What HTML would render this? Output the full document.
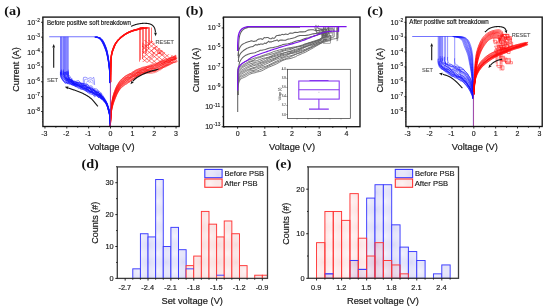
<!DOCTYPE html>
<html><head><meta charset="utf-8"><style>
html,body{margin:0;padding:0;background:#fff;}
body{width:550px;height:308px;overflow:hidden;}
svg{display:block;will-change:transform;}
</style></head><body>
<svg width="550" height="308" viewBox="0 0 550 308" font-family='"Liberation Sans", sans-serif'>
<defs>
<pattern id="hb" width="1.5" height="1.5" patternUnits="userSpaceOnUse" patternTransform="rotate(45)">
<rect width="1.5" height="1.5" fill="#f3f3fd"/><rect width="0.75" height="0.75" fill="#d9d9f7"/><rect x="0.75" y="0.75" width="0.75" height="0.75" fill="#d9d9f7"/></pattern>
<pattern id="hr" width="1.5" height="1.5" patternUnits="userSpaceOnUse" patternTransform="rotate(45)">
<rect width="1.5" height="1.5" fill="#fdf3f3"/><rect width="0.75" height="0.75" fill="#f7dada"/><rect x="0.75" y="0.75" width="0.75" height="0.75" fill="#f7dada"/></pattern>
<pattern id="hr2" width="1.5" height="1.5" patternUnits="userSpaceOnUse" patternTransform="rotate(45)">
<rect width="1.5" height="1.5" fill="#ff9090" fill-opacity="0.07"/><rect width="0.75" height="0.75" fill="#f08080" fill-opacity="0.2"/><rect x="0.75" y="0.75" width="0.75" height="0.75" fill="#f08080" fill-opacity="0.2"/></pattern>
<clipPath id="ca"><rect x="42.9" y="17.1" width="136.3" height="109.4"/></clipPath>
<clipPath id="cb"><rect x="223.5" y="17.1" width="136.5" height="109.6"/></clipPath>
<clipPath id="cc"><rect x="405.9" y="17.1" width="136.3" height="109.4"/></clipPath>
</defs>
<g clip-path="url(#ca)">
<rect x="60.2" y="36.7" width="8.1" height="38" fill="#6a6aff" fill-opacity="0.45"/>
<line x1="49.2" y1="36.7" x2="98" y2="36.7" stroke="#7474ff" stroke-width="1.1" />
<line x1="60.5" y1="36.7" x2="60.5" y2="74.38" stroke="#1515ff" stroke-width="0.55" stroke-opacity="0.85"/>
<line x1="61.6" y1="36.7" x2="61.6" y2="75.19" stroke="#1515ff" stroke-width="0.55" stroke-opacity="0.85"/>
<line x1="63.3" y1="36.7" x2="63.3" y2="74.83" stroke="#1515ff" stroke-width="0.55" stroke-opacity="0.85"/>
<line x1="64.4" y1="36.7" x2="64.4" y2="73.18" stroke="#1515ff" stroke-width="0.55" stroke-opacity="0.85"/>
<line x1="65.7" y1="36.7" x2="65.7" y2="73.4" stroke="#1515ff" stroke-width="0.55" stroke-opacity="0.85"/>
<line x1="67" y1="36.7" x2="67" y2="75.12" stroke="#1515ff" stroke-width="0.55" stroke-opacity="0.85"/>
<line x1="68.2" y1="36.7" x2="68.2" y2="72.52" stroke="#1515ff" stroke-width="0.55" stroke-opacity="0.85"/>
<path d="M60.57 72.02 L60.56 72.4 L60.54 72.77 L60.52 73.13 L60.5 73.5 L60.48 73.88 L60.49 74.25 L60.51 74.63 L60.57 75.02 L60.65 75.42 L60.75 75.82 L60.86 76.23 L61 76.64 L61.15 77.06 L61.33 77.48 L61.54 77.9 L61.77 78.32 L62.04 78.77 L62.33 79.25 L62.65 79.75 L63 80.24 L63.37 80.72 L63.75 81.09 L64.16 81.43 L64.57 82 L64.99 82.03 L65.41 82.07 L65.85 82.46 L66.3 82.18 L66.79 82.7 L67.31 83.22 L67.88 82.32 L68.5 82.18 L69.17 83.1 L69.88 83.22 L70.63 83.52 L71.41 83.85 L72.24 84.15 L73.12 85.11 L74.04 84.9 L75 84.75 L76.05 85.26 L77.19 85.7 L78.4 85.89 L79.64 86.12 L80.88 87.07 L82.09 88.23 L83.24 89.31 L84.3 88.85 L85.26 88.48 L86.14 89.75 L86.97 89.67 L87.77 89.62 L88.55 90.85 L89.34 92 L90.15 92.76 L91 92.53 L91.92 92.54 L92.89 93.05 L93.89 94.34 L94.89 94.76 L95.87 94.47 L96.8 95.27 L97.65 95.79 L98.4 95.98 L99.03 95.94 L99.57 96.38 L100.04 96.97 L100.45 97.69 L100.83 98.34 L101.2 98.26 L101.59 98.61 L102 98.92 L102.44 99.46 L102.89 100.02 L103.35 100.44 L103.79 100.76 L104.23 101.3 L104.65 101.84 L105.04 102.18 L105.4 102.92 L105.72 103.54 L106.01 104.03 L106.27 104.6 L106.52 104.99 L106.75 105.42 L106.99 105.98 L107.24 106.63 L107.5 107.39 L107.79 108.3 L108.1 109.32 L108.42 110.44 L108.74 111.62 L109.05 112.85 L109.34 114.09 L109.59 115.31 L109.8 116.5 L109.96 117.67 L110.07 118.85 L110.15 120.04 L110.21 121.23 L110.25 122.42 L110.29 123.62 L110.34 124.81 L110.4 126" stroke="#1515ff" stroke-width="0.55" fill="none" stroke-opacity="0.9" stroke-linejoin="round"/>
<path d="M61.57 69.44 L61.56 69.82 L61.54 70.19 L61.51 70.56 L61.49 70.92 L61.48 71.3 L61.48 71.67 L61.51 72.05 L61.57 72.44 L61.65 72.85 L61.75 73.26 L61.86 73.69 L61.99 74.12 L62.15 74.54 L62.33 74.96 L62.53 75.36 L62.77 75.74 L63.04 76.11 L63.35 76.44 L63.69 76.73 L64.06 77.25 L64.44 77.62 L64.82 77.61 L65.2 78 L65.57 78.69 L65.9 78.57 L66.21 78.36 L66.5 78.66 L66.8 78.33 L67.13 78.78 L67.51 79.44 L67.96 79.38 L68.5 79.29 L69.12 79.68 L69.81 80.05 L70.55 80.1 L71.35 80.18 L72.2 80.05 L73.09 81.42 L74.03 82.03 L75 81.88 L76.05 82.35 L77.19 82.29 L78.4 82.33 L79.64 83.02 L80.88 83.36 L82.09 83.28 L83.24 83.69 L84.3 84.56 L85.26 85.17 L86.14 85.17 L86.97 85 L87.77 84.62 L88.55 85.66 L89.34 87.06 L90.15 87.03 L91 87.31 L91.92 88.18 L92.89 88.83 L93.89 89.44 L94.89 89.45 L95.87 90.28 L96.8 90.52 L97.65 90.81 L98.4 92.09 L99.03 92.63 L99.57 93.67 L100.04 94.35 L100.45 93.75 L100.83 93.23 L101.2 94.41 L101.59 95.16 L102 95.48 L102.44 96.48 L102.89 96.64 L103.35 96.62 L103.79 97.57 L104.23 98.47 L104.65 98.95 L105.04 99.53 L105.4 100.07 L105.72 100.58 L106.01 101.24 L106.27 101.89 L106.52 102.48 L106.75 103.18 L106.99 103.88 L107.24 104.61 L107.5 105.39 L107.79 106.22 L108.1 107.06 L108.42 107.94 L108.74 108.86 L109.05 109.84 L109.34 110.89 L109.59 112.03 L109.8 113.26 L109.96 114.62 L110.07 116.1 L110.15 117.68 L110.21 119.33 L110.25 121.01 L110.29 122.7 L110.34 124.37 L110.4 126" stroke="#1515ff" stroke-width="0.55" fill="none" stroke-opacity="0.9" stroke-linejoin="round"/>
<path d="M63.34 70.39 L63.33 70.79 L63.31 71.18 L63.29 71.53 L63.26 71.89 L63.25 72.26 L63.25 72.65 L63.28 73.05 L63.34 73.43 L63.42 73.79 L63.52 74.21 L63.63 74.65 L63.76 75.11 L63.92 75.51 L64.1 75.83 L64.3 76.32 L64.54 76.56 L64.78 77.12 L65.01 77.86 L65.26 77.9 L65.54 78.12 L65.86 78.6 L66.26 78.14 L66.75 78.3 L67.34 79.25 L68.05 79.42 L68.87 79.19 L69.78 79.19 L70.76 79.73 L71.79 80.5 L72.86 80.88 L73.93 80.56 L75 81.3 L76.1 81.32 L77.27 80.79 L78.48 80.55 L79.71 81.69 L80.93 83.2 L82.12 83.25 L83.25 83.47 L84.3 83.46 L85.26 83.61 L86.14 83.79 L86.97 83.95 L87.77 84.43 L88.55 85.53 L89.34 86.13 L90.15 85.88 L91 85.86 L91.92 86.12 L92.89 87.61 L93.89 88.69 L94.89 88.65 L95.87 88.91 L96.8 89.02 L97.65 89.72 L98.4 91.11 L99.03 91.46 L99.57 91.46 L100.04 91.96 L100.45 92.5 L100.83 92.47 L101.2 92.83 L101.59 93.56 L102 94.41 L102.44 95.03 L102.89 95.61 L103.35 96.75 L103.79 97.26 L104.23 97.63 L104.65 98.42 L105.04 99.16 L105.4 99.69 L105.72 100.28 L106.01 100.91 L106.27 101.27 L106.52 101.61 L106.75 102.05 L106.99 102.58 L107.24 103.19 L107.5 103.94 L107.79 104.81 L108.1 105.78 L108.42 106.82 L108.74 107.93 L109.05 109.12 L109.34 110.36 L109.59 111.67 L109.8 113.02 L109.96 114.46 L110.07 115.99 L110.15 117.6 L110.21 119.27 L110.25 120.96 L110.29 122.66 L110.34 124.35 L110.4 126" stroke="#1515ff" stroke-width="0.55" fill="none" stroke-opacity="0.9" stroke-linejoin="round"/>
<path d="M64.34 71.79 L64.34 71.98 L64.32 72.19 L64.29 72.82 L64.27 73.38 L64.26 73.66 L64.26 73.82 L64.29 74.18 L64.34 74.66 L64.43 75.15 L64.52 75.87 L64.64 76.26 L64.77 76.31 L64.92 76.54 L65.1 77.04 L65.31 77.6 L65.54 77.82 L65.79 78.27 L66.04 78.67 L66.31 79.31 L66.6 80.29 L66.94 80.76 L67.34 80.77 L67.8 81.01 L68.34 81.54 L68.97 81.57 L69.67 81.87 L70.44 81.85 L71.27 81.76 L72.14 83.02 L73.06 83.94 L74.02 84.1 L75 85.03 L76.05 84.65 L77.2 84.37 L78.41 85.67 L79.65 86.67 L80.89 86.94 L82.1 87.71 L83.24 88.43 L84.3 87.93 L85.26 87.87 L86.14 89.13 L86.97 90.11 L87.77 89.33 L88.55 90.08 L89.34 91.52 L90.15 91.91 L91 91.91 L91.92 91.65 L92.89 91.78 L93.89 93.45 L94.89 94.32 L95.87 94.39 L96.8 94.65 L97.65 94.51 L98.4 94.51 L99.03 94.71 L99.57 96.22 L100.04 96.27 L100.45 96.7 L100.83 97.62 L101.2 97.34 L101.59 97.54 L102 98.17 L102.44 98.78 L102.89 99.28 L103.35 99.66 L103.79 100.26 L104.23 100.79 L104.65 101.22 L105.04 101.89 L105.4 102.6 L105.72 102.93 L106.01 103.27 L106.27 103.68 L106.52 104.02 L106.75 104.46 L106.99 104.93 L107.24 105.51 L107.5 106.23 L107.79 107.1 L108.1 108.08 L108.42 109.17 L108.74 110.34 L109.05 111.56 L109.34 112.81 L109.59 114.07 L109.8 115.32 L109.96 116.58 L110.07 117.88 L110.15 119.21 L110.21 120.56 L110.25 121.93 L110.29 123.29 L110.34 124.65 L110.4 126" stroke="#1515ff" stroke-width="0.55" fill="none" stroke-opacity="0.9" stroke-linejoin="round"/>
<path d="M65.59 71.67 L65.58 71.87 L65.56 71.94 L65.54 72.16 L65.51 73.08 L65.5 73.72 L65.5 73.81 L65.53 74.24 L65.59 74.62 L65.67 75.03 L65.77 75.78 L65.88 75.98 L66.01 75.67 L66.17 76.06 L66.35 76.5 L66.55 77.33 L66.79 78.31 L67.04 78.27 L67.31 78.02 L67.61 78.59 L67.93 79.94 L68.28 79.47 L68.67 79.51 L69.1 80.63 L69.59 81.27 L70.11 81.71 L70.67 81.57 L71.26 81.83 L71.89 81.97 L72.57 83.63 L73.31 84.84 L74.12 84.53 L75 84.26 L75.99 84.09 L77.11 84.76 L78.32 86.03 L79.57 86.65 L80.83 87.1 L82.07 87.13 L83.24 87.61 L84.3 88.53 L85.26 89.54 L86.14 90.78 L86.97 90.58 L87.77 89.87 L88.55 90.31 L89.34 90.8 L90.15 90.93 L91 91.61 L91.92 91.94 L92.89 92.71 L93.89 93.6 L94.89 93.95 L95.87 94.41 L96.8 94.47 L97.65 94.6 L98.4 95.23 L99.03 95.78 L99.57 96.33 L100.04 96.85 L100.45 96.59 L100.83 96.94 L101.2 97.28 L101.59 97.44 L102 98.14 L102.44 98.22 L102.89 98.79 L103.35 99.73 L103.79 100.15 L104.23 100.54 L104.65 101.02 L105.04 101.47 L105.4 102.01 L105.72 102.53 L106.01 102.99 L106.27 103.4 L106.52 103.86 L106.75 104.38 L106.99 104.93 L107.24 105.58 L107.5 106.36 L107.79 107.27 L108.1 108.31 L108.42 109.44 L108.74 110.64 L109.05 111.89 L109.34 113.17 L109.59 114.44 L109.8 115.69 L109.96 116.93 L110.07 118.19 L110.15 119.48 L110.21 120.78 L110.25 122.09 L110.29 123.4 L110.34 124.7 L110.4 126" stroke="#1515ff" stroke-width="0.55" fill="none" stroke-opacity="0.9" stroke-linejoin="round"/>
<path d="M66.89 71.18 L66.88 71.2 L66.86 71.45 L66.84 72.28 L66.81 72.95 L66.8 73.23 L66.8 73.77 L66.83 73.91 L66.89 74.01 L66.97 74.83 L67.07 75.44 L67.18 75.97 L67.31 76.35 L67.47 76.35 L67.65 76.76 L67.85 76.93 L68.09 76.59 L68.35 77.52 L68.64 78.5 L68.96 78.76 L69.31 78.42 L69.67 78.49 L70.06 79.3 L70.46 79.43 L70.89 79.06 L71.3 79.62 L71.7 81.29 L72.11 81.92 L72.54 81.61 L73.02 81.76 L73.58 82.65 L74.23 81.8 L75 81.74 L75.93 83.45 L77.02 84.08 L78.22 84.86 L79.49 85.34 L80.77 85.04 L82.04 84.99 L83.23 85.51 L84.3 85.51 L85.26 85.53 L86.14 86.53 L86.97 87.78 L87.77 87.75 L88.55 87.33 L89.34 87.93 L90.15 88.98 L91 89.35 L91.92 89.91 L92.89 90.04 L93.89 89.9 L94.89 90.79 L95.87 91.77 L96.8 92.85 L97.65 92.4 L98.4 92.05 L99.03 93.26 L99.57 93.76 L100.04 93.43 L100.45 94.4 L100.83 95.42 L101.2 95.59 L101.59 95.7 L102 96.32 L102.44 96.92 L102.89 97.53 L103.35 98.03 L103.79 98.38 L104.23 99.28 L104.65 100 L105.04 100.71 L105.4 101.4 L105.72 101.82 L106.01 102.3 L106.27 102.77 L106.52 103.23 L106.75 103.68 L106.99 104.18 L107.24 104.78 L107.5 105.5 L107.79 106.31 L108.1 107.19 L108.42 108.14 L108.74 109.16 L109.05 110.23 L109.34 111.37 L109.59 112.56 L109.8 113.82 L109.96 115.16 L110.07 116.59 L110.15 118.1 L110.21 119.67 L110.25 121.26 L110.29 122.86 L110.34 124.45 L110.4 126" stroke="#1515ff" stroke-width="0.55" fill="none" stroke-opacity="0.9" stroke-linejoin="round"/>
<path d="M68.31 71.43 L68.3 72.76 L68.28 73.62 L68.26 73 L68.23 73.28 L68.22 74.45 L68.22 74.48 L68.25 73.96 L68.31 74.89 L68.39 75.63 L68.49 75.83 L68.6 75.86 L68.73 76.79 L68.89 78.15 L69.07 78.02 L69.27 78 L69.51 77.3 L69.78 77.7 L70.1 78.89 L70.45 79.22 L70.82 80 L71.2 80.08 L71.58 79.47 L71.95 80.16 L72.31 80.94 L72.61 80.99 L72.83 81.37 L73.04 81.68 L73.25 81.25 L73.51 82.23 L73.87 83.64 L74.35 83.94 L75 85.06 L75.86 85.02 L76.92 83.86 L78.12 83.95 L79.4 84.7 L80.71 85.36 L82 86.41 L83.22 86.26 L84.3 86.84 L85.26 87.5 L86.14 87.92 L86.97 88.95 L87.77 89.11 L88.55 89.56 L89.34 89.89 L90.15 90.1 L91 90.06 L91.92 90.77 L92.89 92.74 L93.89 94.07 L94.89 94.33 L95.87 94.26 L96.8 93.88 L97.65 94.66 L98.4 95.36 L99.03 95.14 L99.57 95.45 L100.04 95.9 L100.45 96.23 L100.83 96.55 L101.2 96.75 L101.59 97.09 L102 98.44 L102.44 98.92 L102.89 98.78 L103.35 99.38 L103.79 100.02 L104.23 100.25 L104.65 100.64 L105.04 101.38 L105.4 101.91 L105.72 102.3 L106.01 102.78 L106.27 103.14 L106.52 103.51 L106.75 103.98 L106.99 104.52 L107.24 105.16 L107.5 105.93 L107.79 106.86 L108.1 107.9 L108.42 109.05 L108.74 110.27 L109.05 111.54 L109.34 112.84 L109.59 114.14 L109.8 115.41 L109.96 116.68 L110.07 117.98 L110.15 119.3 L110.21 120.64 L110.25 121.98 L110.29 123.33 L110.34 124.67 L110.4 126" stroke="#1515ff" stroke-width="0.55" fill="none" stroke-opacity="0.9" stroke-linejoin="round"/>
<path d="M60.44 72.39 L60.44 72.76 L60.42 73.13 L60.39 73.5 L60.37 73.87 L60.36 74.24 L60.36 74.62 L60.39 75 L60.44 75.39 L60.53 75.78 L60.62 76.18 L60.74 76.59 L60.87 76.99 L61.02 77.41 L61.2 77.83 L61.41 78.25 L61.64 78.69 L61.91 79.15 L62.2 79.63 L62.52 80.13 L62.87 80.64 L63.23 81.12 L63.62 81.59 L64.02 82 L64.44 82.3 L64.87 82.8 L65.31 83.49 L65.77 83.41 L66.24 82.93 L66.74 83.08 L67.28 83.57 L67.87 83.65 L68.5 83.37 L69.18 84.05 L69.89 84.11 L70.64 84.01 L71.42 84.52 L72.25 84.35 L73.12 84.27 L74.04 85.34 L75 86.39 L76.05 86.88 L77.19 86.48 L78.4 86.81 L79.64 88.36 L80.88 89.26 L82.09 89.36 L83.24 89.22 L84.3 89.99 L85.26 90.6 L86.14 90.33 L86.97 90.74 L87.77 92.36 L88.55 93.3 L89.34 93.66 L90.15 93.83 L91 94.18 L91.92 94.54 L92.89 94.46 L93.89 96.14 L94.89 96.89 L95.87 95.96 L96.8 95.94 L97.65 96.62 L98.4 97.5 L99.03 97.47 L99.57 96.58 L100.04 96.99 L100.45 97.92 L100.83 98.34 L101.2 99.04 L101.59 99.41 L102 99.62 L102.44 99.67 L102.89 100.15 L103.35 101.26 L103.79 101.69 L104.23 101.87 L104.65 102.3 L105.04 102.97 L105.4 103.36 L105.72 103.69 L106.01 104.21 L106.27 104.65 L106.52 105.03 L106.75 105.49 L106.99 106.03 L107.24 106.67 L107.5 107.45 L107.79 108.38 L108.1 109.45 L108.42 110.62 L108.74 111.87 L109.05 113.16 L109.34 114.45 L109.59 115.71 L109.8 116.91 L109.96 118.06 L110.07 119.21 L110.15 120.35 L110.21 121.48 L110.25 122.61 L110.29 123.74 L110.34 124.87 L110.4 126" stroke="#1515ff" stroke-width="0.55" fill="none" stroke-opacity="0.9" stroke-linejoin="round"/>
<path d="M61.53 71.46 L61.52 71.83 L61.5 72.2 L61.48 72.57 L61.45 72.94 L61.44 73.31 L61.44 73.69 L61.47 74.07 L61.53 74.46 L61.61 74.86 L61.71 75.27 L61.82 75.68 L61.95 76.1 L62.11 76.52 L62.29 76.94 L62.49 77.35 L62.73 77.76 L63 78.17 L63.31 78.64 L63.65 79.07 L64.02 79.46 L64.39 79.98 L64.78 80.24 L65.16 80.51 L65.53 80.86 L65.87 80.85 L66.18 80.81 L66.47 80.96 L66.78 81.07 L67.12 80.87 L67.5 80.72 L67.96 81.33 L68.5 81.74 L69.12 81.89 L69.81 82.56 L70.56 82.71 L71.35 83.48 L72.2 83.22 L73.1 82.94 L74.03 83.52 L75 84.32 L76.05 85.55 L77.19 84.33 L78.4 83.62 L79.64 85.16 L80.88 86.33 L82.09 86.79 L83.24 86.83 L84.3 87.09 L85.26 87.74 L86.14 87.83 L86.97 88.29 L87.77 87.65 L88.55 87.78 L89.34 88.62 L90.15 89.11 L91 89.84 L91.92 89.49 L92.89 90.22 L93.89 90.72 L94.89 90.7 L95.87 90.95 L96.8 91.86 L97.65 93.27 L98.4 94.22 L99.03 94.43 L99.57 94.9 L100.04 95.42 L100.45 95.48 L100.83 96.14 L101.2 96.96 L101.59 97.14 L102 97.26 L102.44 97.8 L102.89 98.36 L103.35 98.71 L103.79 99.37 L104.23 99.93 L104.65 100.33 L105.04 100.77 L105.4 101.27 L105.72 101.83 L106.01 102.2 L106.27 102.68 L106.52 103.1 L106.75 103.53 L106.99 104.03 L107.24 104.65 L107.5 105.38 L107.79 106.24 L108.1 107.18 L108.42 108.2 L108.74 109.29 L109.05 110.45 L109.34 111.65 L109.59 112.89 L109.8 114.17 L109.96 115.5 L110.07 116.91 L110.15 118.38 L110.21 119.9 L110.25 121.43 L110.29 122.97 L110.34 124.5 L110.4 126" stroke="#1515ff" stroke-width="0.55" fill="none" stroke-opacity="0.9" stroke-linejoin="round"/>
<path d="M63.21 71.22 L63.2 71.59 L63.18 71.96 L63.15 72.33 L63.13 72.71 L63.12 73.07 L63.12 73.42 L63.15 73.83 L63.21 74.22 L63.29 74.59 L63.38 75 L63.5 75.39 L63.63 75.82 L63.79 76.44 L63.97 76.96 L64.17 77.12 L64.41 77.32 L64.65 77.75 L64.88 78.36 L65.12 78.68 L65.39 78.76 L65.72 79.41 L66.12 80.1 L66.61 80.17 L67.21 79.92 L67.93 79.73 L68.77 80.02 L69.7 79.95 L70.7 80.82 L71.75 81.75 L72.83 81.88 L73.92 83.2 L75 83.76 L76.11 82.76 L77.28 82.9 L78.49 84.15 L79.72 83.74 L80.94 83.13 L82.12 83.71 L83.25 83.77 L84.3 84.81 L85.26 84.87 L86.14 84.21 L86.97 85.58 L87.77 86.44 L88.55 87.12 L89.34 87.84 L90.15 88.19 L91 89.07 L91.92 88.78 L92.89 88.85 L93.89 90.03 L94.89 90.66 L95.87 91.63 L96.8 91.74 L97.65 91.9 L98.4 93.11 L99.03 93.95 L99.57 93.7 L100.04 94.67 L100.45 95.99 L100.83 95.08 L101.2 94.8 L101.59 96.36 L102 96.9 L102.44 96.82 L102.89 97.2 L103.35 97.72 L103.79 98.43 L104.23 99.16 L104.65 99.99 L105.04 100.66 L105.4 101.16 L105.72 101.65 L106.01 102.14 L106.27 102.58 L106.52 102.99 L106.75 103.46 L106.99 103.94 L107.24 104.53 L107.5 105.25 L107.79 106.1 L108.1 107.04 L108.42 108.06 L108.74 109.15 L109.05 110.31 L109.34 111.51 L109.59 112.76 L109.8 114.05 L109.96 115.39 L110.07 116.81 L110.15 118.3 L110.21 119.83 L110.25 121.38 L110.29 122.94 L110.34 124.48 L110.4 126" stroke="#1515ff" stroke-width="0.55" fill="none" stroke-opacity="0.9" stroke-linejoin="round"/>
<path d="M64.49 71.97 L64.48 72.38 L64.46 72.8 L64.44 73.07 L64.42 73.27 L64.4 73.71 L64.41 74.1 L64.44 74.47 L64.49 74.96 L64.57 75.63 L64.67 75.94 L64.78 76.05 L64.92 76.55 L65.07 77.05 L65.25 77.67 L65.46 77.94 L65.69 78.01 L65.94 78.16 L66.19 78.5 L66.46 79.4 L66.76 80.07 L67.1 80.04 L67.49 80.29 L67.95 81.02 L68.49 81.74 L69.11 81.89 L69.79 81.95 L70.54 81.81 L71.34 81.8 L72.19 83.63 L73.09 83.57 L74.03 83.12 L75 84.53 L76.05 84.9 L77.19 84.85 L78.4 85.37 L79.64 86.1 L80.88 86.49 L82.09 86.1 L83.24 86.49 L84.3 87.36 L85.26 87.64 L86.14 88.58 L86.97 89.58 L87.77 90.36 L88.55 90.38 L89.34 90.88 L90.15 92.06 L91 92.6 L91.92 93.12 L92.89 92.98 L93.89 92.71 L94.89 93.5 L95.87 93.37 L96.8 93.47 L97.65 94.19 L98.4 94.3 L99.03 94.13 L99.57 94.29 L100.04 95.28 L100.45 96.21 L100.83 96.82 L101.2 96.82 L101.59 96.84 L102 97.09 L102.44 97.77 L102.89 98.49 L103.35 99.16 L103.79 100.15 L104.23 100.67 L104.65 100.89 L105.04 101.47 L105.4 102.1 L105.72 102.61 L106.01 103.21 L106.27 103.64 L106.52 103.91 L106.75 104.34 L106.99 104.84 L107.24 105.44 L107.5 106.2 L107.79 107.13 L108.1 108.21 L108.42 109.41 L108.74 110.68 L109.05 112 L109.34 113.34 L109.59 114.66 L109.8 115.93 L109.96 117.18 L110.07 118.43 L110.15 119.68 L110.21 120.95 L110.25 122.21 L110.29 123.48 L110.34 124.74 L110.4 126" stroke="#1515ff" stroke-width="0.55" fill="none" stroke-opacity="0.9" stroke-linejoin="round"/>
<path d="M65.67 72.56 L65.67 72.85 L65.65 72.61 L65.62 73.1 L65.6 73.78 L65.59 73.98 L65.59 74.42 L65.62 74.84 L65.67 74.91 L65.76 75.43 L65.85 76.17 L65.97 76.42 L66.1 76.74 L66.25 77.28 L66.43 78.31 L66.64 78.61 L66.87 78.66 L67.13 79.29 L67.4 79.28 L67.7 79.97 L68.02 80.78 L68.37 81.45 L68.76 81.7 L69.19 81.34 L69.67 81.36 L70.19 82.19 L70.73 82.99 L71.31 83.68 L71.93 83.91 L72.6 84.07 L73.33 84.86 L74.13 84.82 L75 83.91 L75.99 83.76 L77.11 84.22 L78.31 85.86 L79.56 86.59 L80.83 86.92 L82.06 88.01 L83.23 88.69 L84.3 89.32 L85.26 88.99 L86.14 88.91 L86.97 89.41 L87.77 89.99 L88.55 90.14 L89.34 90.48 L90.15 91.81 L91 91.53 L91.92 91.4 L92.89 92.19 L93.89 92.62 L94.89 93.82 L95.87 94.17 L96.8 94.59 L97.65 94.36 L98.4 94.91 L99.03 95.7 L99.57 95.84 L100.04 96.45 L100.45 95.63 L100.83 95.69 L101.2 96.94 L101.59 97.97 L102 98.34 L102.44 98.41 L102.89 98.46 L103.35 99.18 L103.79 100.2 L104.23 100.41 L104.65 100.62 L105.04 100.98 L105.4 101.65 L105.72 102.49 L106.01 102.94 L106.27 103.36 L106.52 103.88 L106.75 104.41 L106.99 105.06 L107.24 105.78 L107.5 106.59 L107.79 107.51 L108.1 108.52 L108.42 109.6 L108.74 110.74 L109.05 111.93 L109.34 113.14 L109.59 114.36 L109.8 115.58 L109.96 116.82 L110.07 118.09 L110.15 119.38 L110.21 120.7 L110.25 122.03 L110.29 123.36 L110.34 124.69 L110.4 126" stroke="#1515ff" stroke-width="0.55" fill="none" stroke-opacity="0.9" stroke-linejoin="round"/>
<path d="M67.03 71.36 L67.02 71.88 L67 72.7 L66.98 72.73 L66.95 73.11 L66.94 73.82 L66.95 73.53 L66.97 73.66 L67.03 74.67 L67.11 74.99 L67.21 74.64 L67.32 75.13 L67.45 76.44 L67.61 77.48 L67.79 76.92 L67.99 77.69 L68.23 78.49 L68.5 78.26 L68.79 79.62 L69.11 80.06 L69.46 79.98 L69.82 79.45 L70.21 80.01 L70.61 80.53 L71.03 79.5 L71.43 81.28 L71.82 82.88 L72.2 82.66 L72.61 82.16 L73.07 82.2 L73.61 83.46 L74.24 83.72 L75 83.29 L75.93 82.39 L77.01 82.6 L78.21 82.47 L79.48 82.12 L80.77 83.42 L82.03 84.07 L83.23 84.34 L84.3 85.11 L85.26 86.45 L86.14 87.53 L86.97 87.21 L87.77 87.71 L88.55 87.94 L89.34 87.83 L90.15 89.08 L91 89.21 L91.92 89.21 L92.89 89.67 L93.89 90.33 L94.89 92.07 L95.87 92.19 L96.8 92.07 L97.65 92.48 L98.4 92.37 L99.03 92.69 L99.57 94.23 L100.04 96 L100.45 96.01 L100.83 95.38 L101.2 95.9 L101.59 96.46 L102 96.93 L102.44 97.54 L102.89 97.85 L103.35 98.36 L103.79 98.66 L104.23 98.99 L104.65 99.37 L105.04 99.93 L105.4 100.54 L105.72 101.15 L106.01 101.74 L106.27 102.32 L106.52 102.95 L106.75 103.54 L106.99 104.23 L107.24 104.97 L107.5 105.79 L107.79 106.69 L108.1 107.65 L108.42 108.68 L108.74 109.76 L109.05 110.9 L109.34 112.08 L109.59 113.29 L109.8 114.54 L109.96 115.84 L110.07 117.21 L110.15 118.64 L110.21 120.1 L110.25 121.58 L110.29 123.07 L110.34 124.55 L110.4 126" stroke="#1515ff" stroke-width="0.55" fill="none" stroke-opacity="0.9" stroke-linejoin="round"/>
<path d="M68.27 69.72 L68.26 69.97 L68.24 70.54 L68.21 70.85 L68.19 71.69 L68.18 72.48 L68.18 72.37 L68.21 72.18 L68.27 72.88 L68.35 73.58 L68.44 74.28 L68.56 75.79 L68.69 76.17 L68.85 75.52 L69.02 75.51 L69.23 75.57 L69.47 75.66 L69.74 75.99 L70.05 76.58 L70.4 77.19 L70.77 78.03 L71.15 78.41 L71.53 78.38 L71.91 78.42 L72.27 79.61 L72.57 80.77 L72.8 81.28 L73.01 81.86 L73.23 82.2 L73.5 82.22 L73.86 82.36 L74.34 84.07 L75 83.7 L75.87 83.49 L76.92 85.16 L78.12 85.27 L79.4 85.3 L80.71 86.09 L82 85.9 L83.22 85.95 L84.3 86.28 L85.26 86.21 L86.14 86.72 L86.97 87.34 L87.77 88.06 L88.55 88.72 L89.34 88.44 L90.15 89.53 L91 91.11 L91.92 91.06 L92.89 90.93 L93.89 91.14 L94.89 92.11 L95.87 92.89 L96.8 92.46 L97.65 93.1 L98.4 95.55 L99.03 94.78 L99.57 94.27 L100.04 95.39 L100.45 95.19 L100.83 95.76 L101.2 95.65 L101.59 95.6 L102 96.73 L102.44 97.07 L102.89 97.13 L103.35 97.77 L103.79 98.36 L104.23 99.19 L104.65 99.72 L105.04 100.24 L105.4 100.81 L105.72 101.35 L106.01 101.94 L106.27 102.31 L106.52 102.87 L106.75 103.47 L106.99 104.09 L107.24 104.78 L107.5 105.56 L107.79 106.44 L108.1 107.4 L108.42 108.43 L108.74 109.52 L109.05 110.66 L109.34 111.85 L109.59 113.08 L109.8 114.34 L109.96 115.66 L110.07 117.06 L110.15 118.5 L110.21 119.99 L110.25 121.5 L110.29 123.02 L110.34 124.52 L110.4 126" stroke="#1515ff" stroke-width="0.55" fill="none" stroke-opacity="0.9" stroke-linejoin="round"/>
<path d="M60.49 70.48 L60.48 70.86 L60.46 71.23 L60.43 71.6 L60.41 71.97 L60.4 72.34 L60.4 72.71 L60.43 73.1 L60.49 73.48 L60.57 73.88 L60.67 74.3 L60.78 74.71 L60.91 75.13 L61.07 75.56 L61.25 75.97 L61.45 76.38 L61.69 76.78 L61.95 77.19 L62.25 77.6 L62.57 78.01 L62.91 78.42 L63.28 78.83 L63.66 79.2 L64.07 79.4 L64.49 79.84 L64.91 80.1 L65.35 80.05 L65.79 80.28 L66.26 80.7 L66.76 80.18 L67.29 79.65 L67.87 80.07 L68.5 80.05 L69.17 80.23 L69.88 80.54 L70.63 81.25 L71.42 81.46 L72.25 81.62 L73.12 82.44 L74.04 82.35 L75 82.53 L76.05 83.9 L77.19 84.35 L78.4 83.74 L79.64 83.98 L80.88 84.28 L82.09 84.85 L83.24 86.05 L84.3 86 L85.26 85.96 L86.14 87.24 L86.97 87.55 L87.77 87.6 L88.55 87.82 L89.34 87.84 L90.15 88.53 L91 90.28 L91.92 90.82 L92.89 90.18 L93.89 90.64 L94.89 91.32 L95.87 92.36 L96.8 93.01 L97.65 94.08 L98.4 94.54 L99.03 94.66 L99.57 94.97 L100.04 94.91 L100.45 94.57 L100.83 94.64 L101.2 95.42 L101.59 95.77 L102 95.67 L102.44 96.54 L102.89 97.57 L103.35 97.97 L103.79 98.7 L104.23 99.46 L104.65 100.25 L105.04 100.81 L105.4 101.33 L105.72 102.02 L106.01 102.56 L106.27 102.97 L106.52 103.39 L106.75 103.86 L106.99 104.4 L107.24 105.01 L107.5 105.75 L107.79 106.61 L108.1 107.55 L108.42 108.57 L108.74 109.66 L109.05 110.8 L109.34 111.99 L109.59 113.22 L109.8 114.48 L109.96 115.78 L110.07 117.16 L110.15 118.59 L110.21 120.06 L110.25 121.56 L110.29 123.05 L110.34 124.54 L110.4 126" stroke="#1515ff" stroke-width="0.55" fill="none" stroke-opacity="0.9" stroke-linejoin="round"/>
<path d="M61.54 70.32 L61.53 70.69 L61.51 71.06 L61.48 71.43 L61.46 71.8 L61.45 72.17 L61.45 72.55 L61.48 72.93 L61.54 73.32 L61.62 73.72 L61.72 74.13 L61.83 74.55 L61.96 74.98 L62.12 75.4 L62.3 75.82 L62.5 76.22 L62.74 76.62 L63.01 77.01 L63.32 77.42 L63.66 77.71 L64.03 78.01 L64.41 78.6 L64.79 78.87 L65.17 79.09 L65.54 79.05 L65.88 79.32 L66.18 79.82 L66.48 79.99 L66.79 79.77 L67.12 79.78 L67.51 80.36 L67.96 80.53 L68.5 80.45 L69.12 80.05 L69.81 81.61 L70.56 81.75 L71.35 80.74 L72.2 81.24 L73.1 81.39 L74.03 82.31 L75 83.8 L76.05 83.35 L77.19 82.26 L78.4 83.46 L79.64 85.08 L80.88 85.36 L82.09 85.81 L83.24 85.52 L84.3 85.37 L85.26 85.54 L86.14 85.4 L86.97 86.79 L87.77 87.5 L88.55 88.44 L89.34 89.16 L90.15 88.33 L91 89.06 L91.92 90.54 L92.89 90.88 L93.89 90.07 L94.89 90.51 L95.87 92.1 L96.8 92.21 L97.65 91.77 L98.4 92.86 L99.03 93.67 L99.57 93.19 L100.04 93.4 L100.45 93.93 L100.83 94.56 L101.2 95.24 L101.59 95.9 L102 96.51 L102.44 96.32 L102.89 96.83 L103.35 97.92 L103.79 98.5 L104.23 99.1 L104.65 99.55 L105.04 99.93 L105.4 100.67 L105.72 101.19 L106.01 101.49 L106.27 102.06 L106.52 102.56 L106.75 103.03 L106.99 103.59 L107.24 104.25 L107.5 105.04 L107.79 105.97 L108.1 107.01 L108.42 108.14 L108.74 109.35 L109.05 110.61 L109.34 111.91 L109.59 113.22 L109.8 114.54 L109.96 115.88 L110.07 117.27 L110.15 118.69 L110.21 120.15 L110.25 121.62 L110.29 123.09 L110.34 124.55 L110.4 126" stroke="#1515ff" stroke-width="0.55" fill="none" stroke-opacity="0.9" stroke-linejoin="round"/>
<path d="M63.27 72.71 L63.26 73.1 L63.24 73.51 L63.21 73.85 L63.19 74.19 L63.18 74.58 L63.18 74.96 L63.21 75.33 L63.27 75.72 L63.35 76.09 L63.44 76.45 L63.56 76.9 L63.69 77.31 L63.85 77.76 L64.03 78.11 L64.23 78.55 L64.47 79.07 L64.71 79.37 L64.94 79.64 L65.18 79.98 L65.46 80.69 L65.78 81.17 L66.18 81.53 L66.67 82.45 L67.27 83.19 L67.99 83.84 L68.82 83.77 L69.74 82.96 L70.73 83.81 L71.77 84.7 L72.84 85.07 L73.92 85.31 L75 85.76 L76.11 86.6 L77.28 86.96 L78.49 87.41 L79.71 87.9 L80.93 88.4 L82.12 88.93 L83.25 89.81 L84.3 89.98 L85.26 90.71 L86.14 91.22 L86.97 91.21 L87.77 91.49 L88.55 91.24 L89.34 92.44 L90.15 92.74 L91 91.71 L91.92 91.99 L92.89 92.91 L93.89 94.66 L94.89 95.44 L95.87 95.48 L96.8 95.5 L97.65 95.76 L98.4 96.91 L99.03 97.91 L99.57 97.63 L100.04 97.46 L100.45 98.1 L100.83 97.82 L101.2 98.02 L101.59 98.57 L102 98.3 L102.44 98.94 L102.89 99.99 L103.35 100.15 L103.79 100.23 L104.23 100.98 L104.65 101.62 L105.04 102 L105.4 102.56 L105.72 102.91 L106.01 103.36 L106.27 103.86 L106.52 104.35 L106.75 104.93 L106.99 105.57 L107.24 106.29 L107.5 107.12 L107.79 108.07 L108.1 109.14 L108.42 110.3 L108.74 111.53 L109.05 112.79 L109.34 114.07 L109.59 115.32 L109.8 116.53 L109.96 117.72 L110.07 118.9 L110.15 120.08 L110.21 121.26 L110.25 122.45 L110.29 123.63 L110.34 124.82 L110.4 126" stroke="#1515ff" stroke-width="0.55" fill="none" stroke-opacity="0.9" stroke-linejoin="round"/>
<path d="M64.5 72.66 L64.49 73 L64.47 73.34 L64.45 73.76 L64.42 74.26 L64.41 74.58 L64.41 74.9 L64.44 75.28 L64.5 75.66 L64.58 76.15 L64.68 76.82 L64.79 76.93 L64.92 77.12 L65.08 77.73 L65.26 78.24 L65.46 78.57 L65.7 78.87 L65.95 79.26 L66.2 79.88 L66.47 80.62 L66.77 80.86 L67.11 81.39 L67.5 81.81 L67.96 81.55 L68.5 82.2 L69.12 83.29 L69.8 83.26 L70.54 83.83 L71.34 84.67 L72.19 84.05 L73.09 83.48 L74.03 84.92 L75 86.23 L76.05 85.69 L77.19 85.07 L78.4 85.64 L79.64 86.48 L80.88 86.62 L82.09 87.39 L83.24 88.02 L84.3 87.96 L85.26 89.3 L86.14 89.9 L86.97 89.82 L87.77 90.71 L88.55 91.41 L89.34 91.35 L90.15 91.39 L91 91.59 L91.92 92.78 L92.89 93.92 L93.89 93.25 L94.89 93.53 L95.87 94.85 L96.8 95.58 L97.65 96.54 L98.4 97.36 L99.03 96.72 L99.57 96.43 L100.04 96.44 L100.45 96.84 L100.83 97.58 L101.2 98.59 L101.59 98.81 L102 97.82 L102.44 98.07 L102.89 99.04 L103.35 99.37 L103.79 99.69 L104.23 100.35 L104.65 101.02 L105.04 101.55 L105.4 101.97 L105.72 102.57 L106.01 103.09 L106.27 103.55 L106.52 104.08 L106.75 104.67 L106.99 105.33 L107.24 106.04 L107.5 106.84 L107.79 107.75 L108.1 108.75 L108.42 109.82 L108.74 110.96 L109.05 112.13 L109.34 113.34 L109.59 114.55 L109.8 115.76 L109.96 116.97 L110.07 118.22 L110.15 119.5 L110.21 120.79 L110.25 122.1 L110.29 123.41 L110.34 124.71 L110.4 126" stroke="#1515ff" stroke-width="0.55" fill="none" stroke-opacity="0.9" stroke-linejoin="round"/>
<path d="M65.76 71.92 L65.75 72.15 L65.73 72.51 L65.7 72.82 L65.68 73.03 L65.67 73.67 L65.67 74.09 L65.7 74.31 L65.76 75.13 L65.84 75.8 L65.93 76.04 L66.05 76.39 L66.18 76.75 L66.34 77.4 L66.52 77.72 L66.72 78.26 L66.96 78.45 L67.21 78.25 L67.49 78.51 L67.78 78.87 L68.1 79.93 L68.46 81.05 L68.85 81.03 L69.28 80.84 L69.76 81.38 L70.27 81.47 L70.8 81.51 L71.37 82.25 L71.97 82.42 L72.63 82.83 L73.35 83.97 L74.13 84.03 L75 83.98 L75.99 84.05 L77.1 85.65 L78.3 86.03 L79.56 86.26 L80.82 87.46 L82.06 87.01 L83.23 86.65 L84.3 87.64 L85.26 89.27 L86.14 88.84 L86.97 88.4 L87.77 89.66 L88.55 90.36 L89.34 91.21 L90.15 91.27 L91 91.12 L91.92 91.31 L92.89 92.49 L93.89 93.25 L94.89 91.96 L95.87 92.75 L96.8 94.15 L97.65 95.49 L98.4 95.84 L99.03 95.39 L99.57 96.08 L100.04 96.93 L100.45 96.91 L100.83 96.95 L101.2 97.38 L101.59 97.28 L102 97.52 L102.44 98.02 L102.89 98.25 L103.35 98.97 L103.79 99.38 L104.23 99.89 L104.65 100.72 L105.04 101.1 L105.4 101.51 L105.72 102.08 L106.01 102.71 L106.27 103.31 L106.52 103.87 L106.75 104.49 L106.99 105.16 L107.24 105.92 L107.5 106.77 L107.79 107.73 L108.1 108.78 L108.42 109.91 L108.74 111.09 L109.05 112.32 L109.34 113.56 L109.59 114.8 L109.8 116.01 L109.96 117.23 L110.07 118.46 L110.15 119.7 L110.21 120.96 L110.25 122.22 L110.29 123.49 L110.34 124.75 L110.4 126" stroke="#1515ff" stroke-width="0.55" fill="none" stroke-opacity="0.9" stroke-linejoin="round"/>
<path d="M67.11 71.52 L67.1 72.06 L67.08 72.39 L67.05 73.03 L67.03 73.4 L67.02 73.58 L67.02 73.98 L67.05 74.63 L67.11 74.32 L67.19 74.57 L67.28 75.47 L67.4 75.42 L67.53 75.61 L67.69 75.49 L67.86 76.07 L68.07 76.87 L68.31 77.57 L68.57 77.64 L68.87 78.38 L69.19 79.49 L69.54 79.13 L69.91 79.07 L70.29 79.18 L70.69 79.33 L71.11 79.75 L71.5 80.54 L71.88 80.97 L72.25 80.64 L72.65 80.86 L73.1 81.35 L73.62 81.79 L74.25 83.24 L75 83.73 L75.92 83.11 L77.01 82.47 L78.21 82.31 L79.47 82.61 L80.77 83.85 L82.03 84.59 L83.22 84.66 L84.3 85.09 L85.26 85.47 L86.14 86.72 L86.97 86.78 L87.77 86.44 L88.55 86.81 L89.34 87.76 L90.15 88.12 L91 87.74 L91.92 88.1 L92.89 88.54 L93.89 89.92 L94.89 92.21 L95.87 92.18 L96.8 92.07 L97.65 93.14 L98.4 92.76 L99.03 92.96 L99.57 93.71 L100.04 93.89 L100.45 94.98 L100.83 94.87 L101.2 94.72 L101.59 95.77 L102 95.94 L102.44 96.4 L102.89 97.28 L103.35 97.85 L103.79 98.36 L104.23 99.05 L104.65 99.34 L105.04 100.06 L105.4 101.03 L105.72 101.46 L106.01 101.83 L106.27 102.16 L106.52 102.6 L106.75 103.12 L106.99 103.69 L107.24 104.35 L107.5 105.13 L107.79 106.03 L108.1 107.04 L108.42 108.12 L108.74 109.28 L109.05 110.5 L109.34 111.75 L109.59 113.04 L109.8 114.34 L109.96 115.68 L110.07 117.08 L110.15 118.53 L110.21 120.02 L110.25 121.52 L110.29 123.03 L110.34 124.53 L110.4 126" stroke="#1515ff" stroke-width="0.55" fill="none" stroke-opacity="0.9" stroke-linejoin="round"/>
<path d="M68.16 72.08 L68.15 71.87 L68.13 72.26 L68.11 73.74 L68.09 75.16 L68.07 75.24 L68.08 75.33 L68.1 75.3 L68.16 75.23 L68.24 75.92 L68.34 75.94 L68.45 75.86 L68.59 76.72 L68.74 77.4 L68.92 77.33 L69.13 78.04 L69.36 78.8 L69.63 79.49 L69.95 80.02 L70.29 79.89 L70.66 80.37 L71.04 80.85 L71.42 80.93 L71.8 81.25 L72.16 82.25 L72.47 83.09 L72.72 83.7 L72.94 83.08 L73.17 82.73 L73.46 83.64 L73.83 84.25 L74.34 84.59 L75 84.67 L75.87 85.56 L76.93 86.21 L78.13 85.73 L79.41 86.57 L80.72 87.85 L82.01 87.41 L83.22 87.73 L84.3 88.09 L85.26 88.68 L86.14 89.41 L86.97 89.12 L87.77 89.6 L88.55 90.16 L89.34 90.93 L90.15 91.83 L91 92.21 L91.92 92.3 L92.89 91.08 L93.89 91.68 L94.89 92.74 L95.87 93.1 L96.8 94.7 L97.65 95.05 L98.4 94.77 L99.03 94.99 L99.57 95.54 L100.04 95.86 L100.45 96.18 L100.83 96.55 L101.2 97.59 L101.59 98.31 L102 98.67 L102.44 99.02 L102.89 99.22 L103.35 99.65 L103.79 100.12 L104.23 100.68 L104.65 101.05 L105.04 101.33 L105.4 101.74 L105.72 102.42 L106.01 102.91 L106.27 103.3 L106.52 103.87 L106.75 104.43 L106.99 105.02 L107.24 105.74 L107.5 106.56 L107.79 107.5 L108.1 108.56 L108.42 109.71 L108.74 110.93 L109.05 112.19 L109.34 113.46 L109.59 114.73 L109.8 115.97 L109.96 117.2 L110.07 118.44 L110.15 119.69 L110.21 120.95 L110.25 122.21 L110.29 123.48 L110.34 124.74 L110.4 126" stroke="#1515ff" stroke-width="0.55" fill="none" stroke-opacity="0.9" stroke-linejoin="round"/>
<path d="M60.61 72.23 L60.6 72.6 L60.58 72.97 L60.56 73.34 L60.53 73.71 L60.52 74.08 L60.53 74.46 L60.55 74.84 L60.61 75.23 L60.69 75.63 L60.79 76.03 L60.9 76.45 L61.03 76.86 L61.19 77.28 L61.37 77.7 L61.58 78.12 L61.81 78.53 L62.08 78.96 L62.37 79.41 L62.69 79.87 L63.04 80.32 L63.41 80.7 L63.8 81.12 L64.2 81.49 L64.61 81.74 L65.03 82.14 L65.44 81.89 L65.87 81.64 L66.32 81.86 L66.8 81.86 L67.32 81.64 L67.88 82.15 L68.5 82.61 L69.17 82.62 L69.88 82.68 L70.62 82.8 L71.41 82.84 L72.24 82.9 L73.12 83.68 L74.04 83.97 L75 83.82 L76.05 83.67 L77.19 84.31 L78.4 85.32 L79.64 85.57 L80.88 85.55 L82.09 86.35 L83.24 88.2 L84.3 88.3 L85.26 87.86 L86.14 88.64 L86.97 87.91 L87.77 88.31 L88.55 89.61 L89.34 90.66 L90.15 91.36 L91 90.93 L91.92 91.44 L92.89 92.34 L93.89 92.68 L94.89 93.08 L95.87 93.22 L96.8 93.62 L97.65 94.98 L98.4 96.34 L99.03 96.72 L99.57 96.35 L100.04 96.86 L100.45 97.44 L100.83 97.9 L101.2 98.22 L101.59 98.02 L102 98.17 L102.44 98.65 L102.89 99.07 L103.35 99.49 L103.79 99.73 L104.23 99.85 L104.65 100.39 L105.04 100.93 L105.4 101.54 L105.72 102.19 L106.01 102.56 L106.27 103.06 L106.52 103.62 L106.75 104.11 L106.99 104.68 L107.24 105.35 L107.5 106.13 L107.79 107.02 L108.1 108.01 L108.42 109.08 L108.74 110.22 L109.05 111.41 L109.34 112.63 L109.59 113.88 L109.8 115.12 L109.96 116.39 L110.07 117.71 L110.15 119.06 L110.21 120.44 L110.25 121.84 L110.29 123.24 L110.34 124.63 L110.4 126" stroke="#1515ff" stroke-width="0.55" fill="none" stroke-opacity="0.9" stroke-linejoin="round"/>
<path d="M61.63 73.2 L61.62 73.57 L61.6 73.94 L61.58 74.31 L61.56 74.68 L61.54 75.05 L61.55 75.43 L61.57 75.81 L61.63 76.2 L61.71 76.59 L61.81 76.99 L61.92 77.4 L62.06 77.81 L62.21 78.22 L62.39 78.64 L62.6 79.07 L62.83 79.5 L63.1 79.98 L63.42 80.45 L63.76 80.96 L64.13 81.56 L64.51 82.22 L64.89 82.62 L65.27 82.35 L65.63 82.74 L65.96 83.2 L66.26 83.07 L66.54 82.49 L66.83 82.5 L67.16 83.43 L67.53 82.61 L67.97 82.4 L68.5 83.01 L69.12 83.77 L69.8 84.53 L70.55 83.86 L71.35 84.61 L72.2 85.41 L73.09 85.2 L74.03 85.79 L75 86.31 L76.05 85.75 L77.19 87.36 L78.4 88.52 L79.64 87.95 L80.88 88.79 L82.09 88.93 L83.24 88.71 L84.3 89.63 L85.26 90.41 L86.14 91.04 L86.97 92.09 L87.77 92.2 L88.55 92.27 L89.34 93.07 L90.15 92.75 L91 92.97 L91.92 93.42 L92.89 94.19 L93.89 95.21 L94.89 95.19 L95.87 94.85 L96.8 95.31 L97.65 95.97 L98.4 96.62 L99.03 97.27 L99.57 97.02 L100.04 97.79 L100.45 98.67 L100.83 98.49 L101.2 98.98 L101.59 99.4 L102 99.36 L102.44 99.83 L102.89 100.08 L103.35 100.32 L103.79 100.8 L104.23 101.46 L104.65 102.02 L105.04 102.2 L105.4 102.66 L105.72 103.15 L106.01 103.57 L106.27 104.13 L106.52 104.68 L106.75 105.3 L106.99 105.95 L107.24 106.71 L107.5 107.56 L107.79 108.53 L108.1 109.63 L108.42 110.81 L108.74 112.05 L109.05 113.32 L109.34 114.6 L109.59 115.84 L109.8 117.04 L109.96 118.18 L110.07 119.31 L110.15 120.43 L110.21 121.55 L110.25 122.66 L110.29 123.77 L110.34 124.88 L110.4 126" stroke="#1515ff" stroke-width="0.55" fill="none" stroke-opacity="0.9" stroke-linejoin="round"/>
<path d="M63.41 69.45 L63.4 69.84 L63.38 70.19 L63.36 70.51 L63.34 70.92 L63.32 71.34 L63.33 71.71 L63.35 72.05 L63.41 72.44 L63.49 72.86 L63.59 73.3 L63.7 73.66 L63.84 74.04 L63.99 74.53 L64.17 74.84 L64.38 75.27 L64.61 75.77 L64.85 76.06 L65.09 76.45 L65.33 76.62 L65.61 76.84 L65.94 77.52 L66.34 77.95 L66.82 78.5 L67.41 78.47 L68.12 77.93 L68.93 78.8 L69.83 80.07 L70.8 81.32 L71.82 81.84 L72.87 81.02 L73.94 81.54 L75 81.97 L76.1 81.39 L77.27 83.25 L78.48 84.4 L79.71 83.98 L80.93 84.45 L82.12 85.28 L83.25 85.53 L84.3 85.65 L85.26 85.45 L86.14 84.68 L86.97 86.05 L87.77 87.6 L88.55 87.56 L89.34 87.39 L90.15 87.64 L91 87.68 L91.92 88.75 L92.89 89.85 L93.89 89.97 L94.89 90.44 L95.87 91.25 L96.8 91.88 L97.65 92.31 L98.4 92.11 L99.03 92.48 L99.57 94.25 L100.04 94.2 L100.45 93.75 L100.83 94.62 L101.2 95.36 L101.59 95.71 L102 95.5 L102.44 96.08 L102.89 96.84 L103.35 97.29 L103.79 98.33 L104.23 99.13 L104.65 99.85 L105.04 100.86 L105.4 101.38 L105.72 101.68 L106.01 102.01 L106.27 102.36 L106.52 102.77 L106.75 103.21 L106.99 103.7 L107.24 104.26 L107.5 104.95 L107.79 105.74 L108.1 106.6 L108.42 107.53 L108.74 108.53 L109.05 109.59 L109.34 110.73 L109.59 111.94 L109.8 113.22 L109.96 114.6 L110.07 116.1 L110.15 117.68 L110.21 119.33 L110.25 121.01 L110.29 122.7 L110.34 124.37 L110.4 126" stroke="#1515ff" stroke-width="0.55" fill="none" stroke-opacity="0.9" stroke-linejoin="round"/>
<path d="M83.4 84.5 L83.3 79 L83.6 77.4 L86 77.2 L88 78.6 L90.2 77.7 L92.5 78.4 L93.7 77.3 L94.3 80.5 L94.6 85" stroke="#1515ff" stroke-width="0.5" fill="none" stroke-opacity="0.85" stroke-linejoin="round"/>
<path d="M84.5 84 L84.6 79.6 L86.5 79.2 L88.6 80.4 L91 79.6 L93 80.6 L93.2 84.5" stroke="#1515ff" stroke-width="0.45" fill="none" stroke-opacity="0.8" stroke-linejoin="round"/>
<path d="M86.5 82.5 L87.5 81.2 L89.6 82.2 L90.5 81.5 L91.5 83" stroke="#1515ff" stroke-width="0.45" fill="none" stroke-opacity="0.8" stroke-linejoin="round"/>
<path d="M94.5 37.1 L95 37.2 L95.5 37.29 L96.02 37.36 L96.53 37.44 L97.03 37.54 L97.51 37.66 L97.97 37.81 L98.4 38 L98.8 38.24 L99.17 38.5 L99.53 38.8 L99.86 39.12 L100.18 39.47 L100.5 39.83 L100.8 40.21 L101.1 40.6 L101.39 41.01 L101.67 41.44 L101.94 41.88 L102.21 42.35 L102.46 42.83 L102.71 43.31 L102.96 43.81 L103.2 44.3 L103.44 44.8 L103.68 45.3 L103.91 45.82 L104.13 46.34 L104.35 46.87 L104.57 47.4 L104.79 47.95 L105 48.5 L105.21 49.04 L105.41 49.56 L105.61 50.07 L105.81 50.59 L106 51.15 L106.2 51.76 L106.4 52.44 L106.6 53.2 L106.81 54.07 L107.03 55.03 L107.26 56.06 L107.48 57.14 L107.71 58.25 L107.92 59.36 L108.12 60.45 L108.3 61.5 L108.47 62.5 L108.62 63.46 L108.76 64.41 L108.89 65.36 L109.01 66.33 L109.13 67.33 L109.24 68.38 L109.35 69.5 L109.45 70.66 L109.55 71.84 L109.64 73.06 L109.72 74.31 L109.8 75.62 L109.87 77 L109.94 78.46 L110 80 L110.06 81.55 L110.1 83.06" stroke="#1515ff" stroke-width="0.8" fill="none" />
<path d="M94.75 37.1 L95.25 37.2 L95.75 37.29 L96.27 37.36 L96.78 37.44 L97.28 37.54 L97.76 37.66 L98.22 37.81 L98.65 38 L99.05 38.24 L99.42 38.5 L99.77 38.8 L100.1 39.12 L100.42 39.47 L100.73 39.83 L101.03 40.21 L101.33 40.6 L101.62 41.01 L101.89 41.44 L102.16 41.88 L102.42 42.35 L102.67 42.83 L102.92 43.31 L103.16 43.81 L103.4 44.3 L103.64 44.8 L103.87 45.3 L104.1 45.82 L104.32 46.34 L104.54 46.87 L104.75 47.4 L104.97 47.95 L105.17 48.5 L105.38 49.04 L105.58 49.56 L105.77 50.07 L105.96 50.59 L106.15 51.15 L106.34 51.76 L106.53 52.44 L106.72 53.2 L106.93 54.07 L107.15 55.03 L107.36 56.06 L107.58 57.14 L107.8 58.25 L108 59.36 L108.2 60.45 L108.38 61.5 L108.53 62.5 L108.68 63.46 L108.82 64.41 L108.95 65.36 L109.07 66.33 L109.18 67.33 L109.28 68.38 L109.39 69.5 L109.49 70.66 L109.58 71.84 L109.66 73.06 L109.74 74.31 L109.81 75.62 L109.88 77 L109.94 78.46 L110 80 L110.05 81.55 L110.1 83.06" stroke="#1515ff" stroke-width="0.8" fill="none" />
<path d="M95 37.1 L95.5 37.2 L96 37.29 L96.52 37.36 L97.03 37.44 L97.53 37.54 L98.01 37.66 L98.47 37.81 L98.9 38 L99.3 38.24 L99.66 38.5 L100.01 38.8 L100.34 39.12 L100.66 39.47 L100.96 39.83 L101.26 40.21 L101.55 40.6 L101.84 41.01 L102.11 41.44 L102.38 41.88 L102.63 42.35 L102.88 42.83 L103.12 43.31 L103.36 43.81 L103.6 44.3 L103.83 44.8 L104.06 45.3 L104.29 45.82 L104.51 46.34 L104.73 46.87 L104.94 47.4 L105.15 47.95 L105.35 48.5 L105.55 49.04 L105.74 49.56 L105.93 50.07 L106.11 50.59 L106.29 51.15 L106.47 51.76 L106.66 52.44 L106.85 53.2 L107.05 54.07 L107.26 55.03 L107.47 56.06 L107.68 57.14 L107.89 58.25 L108.09 59.36 L108.28 60.45 L108.45 61.5 L108.6 62.5 L108.75 63.46 L108.88 64.41 L109 65.36 L109.12 66.33 L109.22 67.33 L109.33 68.38 L109.42 69.5 L109.52 70.66 L109.6 71.84 L109.68 73.06 L109.75 74.31 L109.82 75.62 L109.88 77 L109.94 78.46 L110 80 L110.05 81.55 L110.1 83.06" stroke="#1515ff" stroke-width="0.8" fill="none" />
<path d="M95.25 37.1 L95.75 37.2 L96.25 37.29 L96.77 37.36 L97.28 37.44 L97.78 37.54 L98.26 37.66 L98.72 37.81 L99.15 38 L99.54 38.24 L99.91 38.5 L100.25 38.8 L100.58 39.12 L100.89 39.47 L101.19 39.83 L101.48 40.21 L101.78 40.6 L102.06 41.01 L102.33 41.44 L102.59 41.88 L102.84 42.35 L103.09 42.83 L103.33 43.31 L103.57 43.81 L103.8 44.3 L104.03 44.8 L104.26 45.3 L104.48 45.82 L104.7 46.34 L104.91 46.87 L105.12 47.4 L105.32 47.95 L105.53 48.5 L105.72 49.04 L105.9 49.56 L106.08 50.07 L106.26 50.59 L106.44 51.15 L106.61 51.76 L106.79 52.44 L106.97 53.2 L107.17 54.07 L107.37 55.03 L107.58 56.06 L107.78 57.14 L107.98 58.25 L108.18 59.36 L108.36 60.45 L108.52 61.5 L108.67 62.5 L108.81 63.46 L108.94 64.41 L109.06 65.36 L109.17 66.33 L109.27 67.33 L109.37 68.38 L109.46 69.5 L109.55 70.66 L109.63 71.84 L109.7 73.06 L109.77 74.31 L109.83 75.62 L109.89 77 L109.95 78.46 L110 80 L110.05 81.55 L110.1 83.06" stroke="#1515ff" stroke-width="0.8" fill="none" />
<path d="M95.5 37.1 L96 37.2 L96.51 37.29 L97.02 37.36 L97.53 37.44 L98.03 37.54 L98.52 37.66 L98.97 37.81 L99.4 38 L99.79 38.24 L100.16 38.5 L100.5 38.8 L100.82 39.12 L101.13 39.47 L101.42 39.83 L101.71 40.21 L102 40.6 L102.28 41.01 L102.55 41.44 L102.81 41.88 L103.06 42.35 L103.3 42.83 L103.54 43.31 L103.77 43.81 L104 44.3 L104.23 44.8 L104.45 45.3 L104.67 45.82 L104.89 46.34 L105.1 46.87 L105.3 47.4 L105.5 47.95 L105.7 48.5 L105.89 49.04 L106.07 49.56 L106.24 50.07 L106.41 50.59 L106.58 51.15 L106.75 51.76 L106.92 52.44 L107.1 53.2 L107.29 54.07 L107.48 55.03 L107.68 56.06 L107.88 57.14 L108.08 58.25 L108.26 59.36 L108.44 60.45 L108.6 61.5 L108.74 62.5 L108.88 63.46 L109 64.41 L109.11 65.36 L109.22 66.33 L109.32 67.33 L109.41 68.38 L109.5 69.5 L109.58 70.66 L109.66 71.84 L109.73 73.06 L109.79 74.31 L109.84 75.62 L109.9 77 L109.95 78.46 L110 80 L110.05 81.55 L110.09 83.06" stroke="#1515ff" stroke-width="0.8" fill="none" />
<path d="M95.75 37.1 L96.25 37.2 L96.76 37.29 L97.27 37.36 L97.78 37.44 L98.28 37.54 L98.77 37.66 L99.23 37.81 L99.65 38 L100.04 38.24 L100.4 38.5 L100.74 38.8 L101.06 39.12 L101.36 39.47 L101.65 39.83 L101.94 40.21 L102.22 40.6 L102.5 41.01 L102.77 41.44 L103.02 41.88 L103.27 42.35 L103.51 42.83 L103.74 43.31 L103.97 43.81 L104.2 44.3 L104.43 44.8 L104.65 45.3 L104.86 45.82 L105.08 46.34 L105.28 46.87 L105.49 47.4 L105.68 47.95 L105.88 48.5 L106.06 49.04 L106.23 49.56 L106.4 50.07 L106.56 50.59 L106.73 51.15 L106.89 51.76 L107.05 52.44 L107.22 53.2 L107.41 54.07 L107.59 55.03 L107.79 56.06 L107.98 57.14 L108.17 58.25 L108.35 59.36 L108.52 60.45 L108.67 61.5 L108.81 62.5 L108.94 63.46 L109.06 64.41 L109.17 65.36 L109.27 66.33 L109.36 67.33 L109.45 68.38 L109.54 69.5 L109.62 70.66 L109.69 71.84 L109.75 73.06 L109.8 74.31 L109.86 75.62 L109.91 77 L109.95 78.46 L110 80 L110.05 81.55 L110.09 83.06" stroke="#1515ff" stroke-width="0.8" fill="none" />
<path d="M96 37.1 L96.5 37.2 L97.01 37.29 L97.52 37.36 L98.03 37.44 L98.54 37.54 L99.02 37.66 L99.48 37.81 L99.9 38 L100.29 38.24 L100.65 38.5 L100.98 38.8 L101.3 39.12 L101.6 39.47 L101.89 39.83 L102.17 40.21 L102.45 40.6 L102.72 41.01 L102.99 41.44 L103.24 41.88 L103.48 42.35 L103.72 42.83 L103.95 43.31 L104.17 43.81 L104.4 44.3 L104.62 44.8 L104.84 45.3 L105.06 45.82 L105.27 46.34 L105.47 46.87 L105.67 47.4 L105.86 47.95 L106.05 48.5 L106.23 49.04 L106.4 49.56 L106.56 50.07 L106.72 50.59 L106.87 51.15 L107.03 51.76 L107.19 52.44 L107.35 53.2 L107.52 54.07 L107.71 55.03 L107.89 56.06 L108.08 57.14 L108.26 58.25 L108.44 59.36 L108.6 60.45 L108.75 61.5 L108.88 62.5 L109.01 63.46 L109.12 64.41 L109.22 65.36 L109.32 66.33 L109.41 67.33 L109.49 68.38 L109.58 69.5 L109.65 70.66 L109.71 71.84 L109.77 73.06 L109.82 74.31 L109.87 75.62 L109.91 77 L109.96 78.46 L110 80 L110.04 81.55 L110.09 83.06" stroke="#1515ff" stroke-width="0.8" fill="none" />
<path d="M96.25 37.1 L96.75 37.2 L97.26 37.29 L97.77 37.36 L98.29 37.44 L98.79 37.54 L99.27 37.66 L99.73 37.81 L100.15 38 L100.54 38.24 L100.89 38.5 L101.22 38.8 L101.54 39.12 L101.83 39.47 L102.12 39.83 L102.4 40.21 L102.67 40.6 L102.95 41.01 L103.21 41.44 L103.45 41.88 L103.69 42.35 L103.93 42.83 L104.15 43.31 L104.38 43.81 L104.6 44.3 L104.82 44.8 L105.04 45.3 L105.25 45.82 L105.45 46.34 L105.66 46.87 L105.85 47.4 L106.04 47.95 L106.23 48.5 L106.4 49.04 L106.56 49.56 L106.72 50.07 L106.87 50.59 L107.02 51.15 L107.16 51.76 L107.32 52.44 L107.47 53.2 L107.64 54.07 L107.82 55.03 L108 56.06 L108.18 57.14 L108.36 58.25 L108.52 59.36 L108.68 60.45 L108.82 61.5 L108.95 62.5 L109.07 63.46 L109.18 64.41 L109.28 65.36 L109.37 66.33 L109.46 67.33 L109.54 68.38 L109.61 69.5 L109.68 70.66 L109.74 71.84 L109.79 73.06 L109.84 74.31 L109.88 75.62 L109.92 77 L109.96 78.46 L110 80 L110.04 81.55 L110.09 83.06" stroke="#1515ff" stroke-width="0.8" fill="none" />
<path d="M96.5 37.1 L97 37.2 L97.51 37.29 L98.02 37.36 L98.54 37.44 L99.04 37.54 L99.52 37.66 L99.98 37.81 L100.4 38 L100.78 38.24 L101.14 38.5 L101.47 38.8 L101.78 39.12 L102.07 39.47 L102.35 39.83 L102.63 40.21 L102.9 40.6 L103.17 41.01 L103.42 41.44 L103.67 41.88 L103.91 42.35 L104.14 42.83 L104.36 43.31 L104.58 43.81 L104.8 44.3 L105.02 44.8 L105.23 45.3 L105.44 45.82 L105.64 46.34 L105.84 46.87 L106.04 47.4 L106.22 47.95 L106.4 48.5 L106.57 49.04 L106.73 49.56 L106.87 50.07 L107.02 50.59 L107.16 51.15 L107.3 51.76 L107.45 52.44 L107.6 53.2 L107.76 54.07 L107.93 55.03 L108.1 56.06 L108.28 57.14 L108.45 58.25 L108.61 59.36 L108.76 60.45 L108.9 61.5 L109.02 62.5 L109.14 63.46 L109.24 64.41 L109.33 65.36 L109.42 66.33 L109.5 67.33 L109.58 68.38 L109.65 69.5 L109.71 70.66 L109.77 71.84 L109.81 73.06 L109.85 74.31 L109.89 75.62 L109.93 77 L109.96 78.46 L110 80 L110.04 81.55 L110.08 83.06" stroke="#1515ff" stroke-width="0.8" fill="none" />
<path d="M176.86 56.87 L176.14 56.77 L175.44 57 L174.75 56.85 L174.06 57.13 L173.35 57.1 L172.61 57.42 L171.83 57.28 L171 57.67 L170.1 57.91 L169.14 58.42 L168.14 58.35 L167.1 58.37 L166.06 58.61 L165.02 59.23 L163.99 59.81 L163 60.22 L162.05 60.42 L161.14 61.07 L160.24 61.57 L159.34 61.94 L158.44 62.28 L157.5 62.79 L156.53 63.26 L155.5 63.35 L154.4 63.43 L153.25 63.62 L152.06 64.02 L150.84 64.6 L149.61 65.21 L148.39 65.76 L147.18 66.23 L146 66.62 L144.83 66.83 L143.63 66.93 L142.43 67.3 L141.24 67.8 L140.08 68.51 L138.98 69.01 L137.94 69.4 L137 69.73 L136.16 70.11 L135.42 70.63 L134.76 70.99 L134.14 71.35 L133.55 71.57 L132.97 71.79 L132.36 72.02 L131.7 72.67 L131 73.08 L130.29 73.62 L129.56 73.93 L128.83 74.6 L128.1 74.73 L127.39 75.2 L126.68 75.46 L126 75.94 L125.33 76.19 L124.67 76.67 L124.01 77.15 L123.36 77.61 L122.73 78.11 L122.13 78.57 L121.55 79.06 L121 79.6 L120.48 80.18 L120 80.76 L119.53 81.36 L119.09 81.98 L118.67 82.61 L118.27 83.25 L117.88 83.9 L117.5 84.55 L117.14 85.2 L116.79 85.86 L116.47 86.52 L116.16 87.19 L115.86 87.88 L115.57 88.57 L115.28 89.27 L115 89.99 L114.72 90.72 L114.45 91.44 L114.19 92.17 L113.93 92.92 L113.68 93.68 L113.45 94.47 L113.22 95.29 L113 96.14 L112.79 97.04 L112.59 97.96 L112.4 98.9 L112.23 99.88 L112.05 100.88 L111.89 101.9 L111.74 102.94 L111.6 103.99 L111.47 105.05 L111.35 106.11 L111.24 107.18 L111.14 108.28 L111.04 109.41 L110.96 110.6 L110.88 111.85 L110.8 113.18 L110.73 114.61 L110.67 116.13 L110.62 117.72 L110.57 119.36 L110.53 121.03 L110.49 122.71 L110.45 124.37 L110.4 126" stroke="#ff1010" stroke-width="0.5" fill="none" stroke-linejoin="round"/>
<path d="M176.16 55.66 L175.53 55.9 L174.94 55.97 L174.35 56.26 L173.76 56.61 L173.14 56.81 L172.49 57.27 L171.78 57.57 L171 58.03 L170.13 58.36 L169.19 58.88 L168.19 59.28 L167.15 59.58 L166.09 59.71 L165.03 60.06 L164 60.07 L163 60.83 L162.05 61.03 L161.14 61.86 L160.24 61.93 L159.34 62.44 L158.44 62.68 L157.5 63.21 L156.53 63.81 L155.5 64.46 L154.4 64.83 L153.25 65.21 L152.06 65.19 L150.84 65.58 L149.61 65.8 L148.39 66.15 L147.18 66.37 L146 66.69 L144.83 67.14 L143.63 67.57 L142.43 67.86 L141.24 68.09 L140.08 68.51 L138.98 68.7 L137.94 69.09 L137 69.58 L136.16 69.8 L135.42 70.16 L134.76 70.41 L134.14 70.95 L133.55 71.83 L132.97 71.72 L132.36 72.56 L131.7 72.78 L131 73.67 L130.29 73.77 L129.56 73.93 L128.83 74.02 L128.1 74.5 L127.39 74.71 L126.68 75.19 L126 75.66 L125.33 76.15 L124.67 76.67 L124.01 77.18 L123.36 77.75 L122.73 78.42 L122.13 79.02 L121.55 79.61 L121 80.17 L120.48 80.75 L120 81.35 L119.53 81.94 L119.09 82.53 L118.67 83.12 L118.27 83.72 L117.88 84.34 L117.5 84.96 L117.14 85.59 L116.79 86.22 L116.47 86.87 L116.16 87.52 L115.86 88.18 L115.57 88.86 L115.28 89.54 L115 90.24 L114.72 90.93 L114.45 91.63 L114.19 92.32 L113.93 93.03 L113.68 93.77 L113.45 94.54 L113.22 95.34 L113 96.2 L112.79 97.13 L112.59 98.1 L112.4 99.13 L112.22 100.18 L112.05 101.25 L111.89 102.33 L111.74 103.4 L111.6 104.46 L111.47 105.46 L111.35 106.43 L111.24 107.37 L111.14 108.33 L111.05 109.32 L110.96 110.38 L110.88 111.54 L110.8 112.82 L110.73 114.23 L110.67 115.77 L110.62 117.41 L110.58 119.11 L110.53 120.84 L110.49 122.59 L110.45 124.32 L110.4 126" stroke="#ff1010" stroke-width="0.5" fill="none" stroke-linejoin="round"/>
<path d="M175.94 54.9 L175.34 55.28 L174.78 55.95 L174.22 56.48 L173.66 56.81 L173.08 57.24 L172.45 57.3 L171.76 57.55 L171 57.69 L170.14 58.18 L169.2 58.52 L168.2 59 L167.16 59.53 L166.1 59.78 L165.04 60.12 L164 60.85 L163 61.29 L162.05 61.5 L161.14 61.63 L160.24 62.28 L159.34 63 L158.44 63.18 L157.5 63.64 L156.53 63.83 L155.5 64.21 L154.4 64.33 L153.25 64.77 L152.06 65.39 L150.84 65.91 L149.61 66.26 L148.39 66.64 L147.18 66.92 L146 67.44 L144.83 67.51 L143.63 67.7 L142.43 68.15 L141.24 68.62 L140.08 69.28 L138.98 69.6 L137.94 70.17 L137 70.54 L136.16 71.12 L135.42 71.13 L134.76 71.63 L134.14 72.05 L133.55 72.71 L132.97 72.86 L132.36 72.93 L131.7 73.52 L131 73.68 L130.29 73.92 L129.56 73.97 L128.83 74.57 L128.1 74.94 L127.39 75.41 L126.68 75.71 L126 76.13 L125.33 76.48 L124.67 76.96 L124.01 77.48 L123.36 78.05 L122.73 78.58 L122.13 79.2 L121.55 79.76 L121 80.32 L120.48 80.88 L120 81.45 L119.53 82.02 L119.09 82.61 L118.67 83.2 L118.27 83.81 L117.88 84.44 L117.5 85.09 L117.14 85.76 L116.79 86.46 L116.47 87.18 L116.16 87.91 L115.86 88.64 L115.57 89.39 L115.28 90.14 L115 90.88 L114.72 91.61 L114.45 92.32 L114.19 93.04 L113.93 93.76 L113.68 94.49 L113.45 95.26 L113.22 96.06 L113 96.92 L112.79 97.82 L112.59 98.78 L112.4 99.77 L112.22 100.8 L112.05 101.84 L111.89 102.88 L111.74 103.92 L111.6 104.94 L111.47 105.92 L111.35 106.86 L111.24 107.78 L111.14 108.71 L111.05 109.69 L110.97 110.72 L110.89 111.85 L110.81 113.1 L110.74 114.48 L110.68 115.99 L110.63 117.59 L110.58 119.25 L110.54 120.95 L110.49 122.66 L110.45 124.35 L110.4 126" stroke="#ff1010" stroke-width="0.5" fill="none" stroke-linejoin="round"/>
<path d="M175.85 55.7 L175.26 56.15 L174.71 56.32 L174.17 56.67 L173.62 57.1 L173.05 57.55 L172.43 57.86 L171.76 58.59 L171 59.06 L170.15 59.43 L169.21 59.25 L168.21 59.42 L167.17 59.92 L166.1 60.53 L165.04 60.92 L164 61.14 L163 61.32 L162.05 61.56 L161.14 62.13 L160.24 62.62 L159.34 63.56 L158.44 63.66 L157.5 64 L156.53 64.17 L155.5 64.65 L154.4 64.87 L153.25 65.01 L152.06 65.48 L150.84 66.16 L149.61 66.71 L148.39 67.26 L147.18 67.76 L146 68.21 L144.83 68.44 L143.63 68.62 L142.43 69.01 L141.24 69.49 L140.08 69.89 L138.98 70.22 L137.94 70.38 L137 70.51 L136.16 70.65 L135.42 71.16 L134.76 71.78 L134.14 72.52 L133.55 72.76 L132.97 73.18 L132.36 73.52 L131.7 74.05 L131 74.23 L130.29 74.43 L129.56 74.74 L128.83 75.15 L128.1 75.69 L127.39 76.25 L126.68 76.74 L126 77.31 L125.33 77.61 L124.67 78.03 L124.01 78.28 L123.36 78.67 L122.73 79.13 L122.13 79.6 L121.55 80.14 L121 80.67 L120.48 81.26 L120 81.9 L119.53 82.6 L119.09 83.33 L118.67 84.08 L118.27 84.82 L117.88 85.55 L117.5 86.25 L117.14 86.93 L116.79 87.6 L116.47 88.25 L116.16 88.91 L115.86 89.57 L115.57 90.23 L115.28 90.91 L115 91.61 L114.72 92.33 L114.45 93.04 L114.19 93.77 L113.93 94.51 L113.68 95.26 L113.45 96.03 L113.22 96.82 L113 97.63 L112.79 98.47 L112.59 99.32 L112.4 100.19 L112.22 101.08 L112.05 101.99 L111.89 102.91 L111.74 103.86 L111.6 104.84 L111.47 105.81 L111.35 106.78 L111.24 107.76 L111.15 108.77 L111.06 109.82 L110.97 110.92 L110.89 112.1 L110.82 113.38 L110.75 114.76 L110.69 116.25 L110.63 117.81 L110.58 119.43 L110.54 121.09 L110.5 122.75 L110.45 124.39 L110.4 126" stroke="#ff1010" stroke-width="0.5" fill="none" stroke-linejoin="round"/>
<path d="M175.55 56.11 L175 56.41 L174.49 56.8 L173.99 57.32 L173.49 57.64 L172.96 57.68 L172.38 57.78 L171.73 57.93 L171 58.59 L170.16 59.34 L169.23 59.79 L168.23 60.23 L167.18 60.48 L166.12 61.23 L165.05 61.58 L164 62 L163 62.31 L162.05 62.52 L161.14 62.83 L160.24 62.87 L159.34 63.4 L158.44 63.9 L157.5 64.48 L156.53 64.75 L155.5 65.35 L154.4 65.68 L153.25 66.02 L152.06 66.38 L150.84 67.04 L149.61 67.58 L148.39 67.52 L147.18 67.61 L146 68.04 L144.83 68.7 L143.63 69.42 L142.43 69.53 L141.24 70.04 L140.08 70.11 L138.98 70.91 L137.94 71.18 L137 71.8 L136.16 71.86 L135.42 71.98 L134.76 71.98 L134.14 72.29 L133.55 72.66 L132.97 73.33 L132.36 73.97 L131.7 74.53 L131 74.59 L130.29 74.79 L129.56 75.08 L128.83 75.88 L128.1 76.37 L127.39 76.95 L126.68 77.2 L126 77.45 L125.33 77.82 L124.67 78.26 L124.01 78.9 L123.36 79.43 L122.73 79.93 L122.13 80.39 L121.55 80.94 L121 81.46 L120.48 82 L120 82.56 L119.53 83.12 L119.09 83.71 L118.67 84.3 L118.27 84.92 L117.88 85.54 L117.5 86.19 L117.14 86.85 L116.79 87.54 L116.47 88.25 L116.16 88.97 L115.86 89.7 L115.57 90.44 L115.28 91.18 L115 91.91 L114.72 92.64 L114.45 93.36 L114.19 94.08 L113.93 94.81 L113.68 95.55 L113.45 96.32 L113.22 97.13 L113 97.98 L112.79 98.88 L112.59 99.83 L112.4 100.81 L112.22 101.83 L112.05 102.85 L111.89 103.88 L111.74 104.9 L111.6 105.9 L111.47 106.85 L111.35 107.76 L111.25 108.65 L111.15 109.55 L111.06 110.48 L110.98 111.47 L110.9 112.55 L110.82 113.74 L110.75 115.06 L110.69 116.49 L110.64 118.01 L110.59 119.59 L110.54 121.21 L110.5 122.83 L110.45 124.44 L110.4 126" stroke="#ff1010" stroke-width="0.5" fill="none" stroke-linejoin="round"/>
<path d="M176.98 59.13 L176.24 59.2 L175.53 59.13 L174.82 58.87 L174.11 59.21 L173.39 59.33 L172.64 59.52 L171.84 59.48 L171 59.67 L170.09 59.81 L169.13 60.29 L168.13 60.56 L167.1 61.21 L166.05 61.56 L165.01 62.27 L163.99 62.61 L163 63.14 L162.05 63.22 L161.14 63.7 L160.24 63.89 L159.34 64.44 L158.44 64.73 L157.5 65.28 L156.53 65.3 L155.5 65.68 L154.4 65.64 L153.25 66.42 L152.06 66.36 L150.84 66.71 L149.61 66.56 L148.39 67.41 L147.18 67.7 L146 68.34 L144.83 68.44 L143.63 68.84 L142.43 69.28 L141.24 69.99 L140.08 70.76 L138.98 71.46 L137.94 71.78 L137 72.24 L136.16 72.42 L135.42 72.86 L134.76 73.45 L134.14 73.86 L133.55 74.12 L132.97 74.03 L132.36 74.17 L131.7 74.7 L131 74.99 L130.29 75.33 L129.56 75.49 L128.83 75.99 L128.1 76.76 L127.39 76.91 L126.68 77.43 L126 77.77 L125.33 78.35 L124.67 78.76 L124.01 79.25 L123.36 79.92 L122.73 80.42 L122.13 80.89 L121.55 81.44 L121 82.06 L120.48 82.66 L120 83.26 L119.53 83.89 L119.09 84.53 L118.67 85.19 L118.27 85.85 L117.88 86.52 L117.5 87.18 L117.14 87.85 L116.79 88.52 L116.47 89.2 L116.16 89.88 L115.86 90.57 L115.57 91.27 L115.28 91.98 L115 92.69 L114.72 93.4 L114.45 94.11 L114.19 94.82 L113.93 95.54 L113.68 96.28 L113.45 97.04 L113.22 97.82 L113 98.63 L112.79 99.48 L112.59 100.35 L112.4 101.24 L112.22 102.15 L112.05 103.09 L111.89 104.04 L111.74 105 L111.6 105.98 L111.47 106.95 L111.35 107.92 L111.25 108.89 L111.15 109.89 L111.06 110.92 L110.98 111.99 L110.9 113.13 L110.83 114.34 L110.76 115.64 L110.7 117.02 L110.64 118.47 L110.59 119.96 L110.55 121.48 L110.5 123.01 L110.45 124.52 L110.4 126" stroke="#ff1010" stroke-width="0.5" fill="none" stroke-linejoin="round"/>
<path d="M176.1 55.76 L175.48 56.39 L174.89 57.14 L174.31 57.65 L173.73 57.97 L173.12 57.88 L172.48 58.4 L171.78 58.85 L171 59.31 L170.14 59.78 L169.19 60.32 L168.19 60.9 L167.15 61.15 L166.09 61.26 L165.03 61.83 L164 62.01 L163 62.48 L162.05 63.06 L161.14 63.7 L160.24 64.24 L159.34 64.35 L158.44 64.59 L157.5 64.92 L156.53 65.39 L155.5 65.79 L154.4 66.17 L153.25 66.6 L152.06 67.19 L150.84 67.17 L149.61 67.11 L148.39 67 L147.18 67.71 L146 68.31 L144.83 69.07 L143.63 69.23 L142.43 69.45 L141.24 69.85 L140.08 70.51 L138.98 71.05 L137.94 71.55 L137 72.08 L136.16 72.68 L135.42 72.91 L134.76 72.9 L134.14 73.23 L133.55 73.8 L132.97 74.46 L132.36 74.83 L131.7 75.09 L131 75.63 L130.29 76.06 L129.56 76.55 L128.83 76.7 L128.1 77.02 L127.39 77.43 L126.68 77.84 L126 78.22 L125.33 78.63 L124.67 79.24 L124.01 79.78 L123.36 80.31 L122.73 80.7 L122.13 81.16 L121.55 81.59 L121 82.14 L120.48 82.73 L120 83.32 L119.53 83.93 L119.09 84.55 L118.67 85.2 L118.27 85.85 L117.88 86.52 L117.5 87.2 L117.14 87.9 L116.79 88.63 L116.47 89.37 L116.16 90.12 L115.86 90.88 L115.57 91.64 L115.28 92.4 L115 93.13 L114.72 93.85 L114.45 94.54 L114.19 95.22 L113.93 95.9 L113.68 96.6 L113.45 97.32 L113.22 98.07 L113 98.88 L112.79 99.74 L112.59 100.65 L112.4 101.59 L112.22 102.56 L112.05 103.55 L111.89 104.54 L111.74 105.53 L111.6 106.51 L111.47 107.45 L111.36 108.37 L111.25 109.27 L111.15 110.19 L111.07 111.14 L110.98 112.14 L110.91 113.21 L110.83 114.37 L110.76 115.65 L110.7 117.02 L110.64 118.46 L110.59 119.95 L110.55 121.48 L110.5 123.01 L110.45 124.52 L110.4 126" stroke="#ff1010" stroke-width="0.5" fill="none" stroke-linejoin="round"/>
<path d="M176.22 57.78 L175.59 58.11 L174.98 58.26 L174.39 58.71 L173.78 58.69 L173.16 58.97 L172.5 59.02 L171.79 59.53 L171 59.93 L170.13 60.53 L169.18 60.87 L168.18 61.23 L167.14 61.15 L166.09 61.67 L165.03 62.01 L164 62.9 L163 63.18 L162.05 63.45 L161.14 63.81 L160.24 64.4 L159.34 65.27 L158.44 65.7 L157.5 65.89 L156.53 66.29 L155.5 66.63 L154.4 67.42 L153.25 67.51 L152.06 67.79 L150.84 67.89 L149.61 68.4 L148.39 68.59 L147.18 68.98 L146 69.03 L144.83 69.85 L143.63 69.97 L142.43 70.22 L141.24 70.52 L140.08 71.18 L138.98 72.19 L137.94 72.82 L137 73.22 L136.16 73.3 L135.42 73.39 L134.76 73.67 L134.14 74 L133.55 74.46 L132.97 74.53 L132.36 75.09 L131.7 75.52 L131 76.67 L130.29 77.11 L129.56 77.37 L128.83 77.42 L128.1 77.52 L127.39 77.88 L126.68 78.03 L126 78.73 L125.33 79.28 L124.67 79.8 L124.01 80.19 L123.36 80.72 L122.73 81.31 L122.13 81.84 L121.55 82.33 L121 82.86 L120.48 83.43 L120 84.01 L119.53 84.6 L119.09 85.2 L118.67 85.8 L118.27 86.42 L117.88 87.05 L117.5 87.69 L117.14 88.33 L116.79 88.98 L116.47 89.64 L116.16 90.3 L115.86 90.99 L115.57 91.69 L115.28 92.41 L115 93.15 L114.72 93.93 L114.45 94.74 L114.19 95.58 L113.93 96.43 L113.68 97.29 L113.45 98.15 L113.22 99.01 L113 99.86 L112.79 100.69 L112.59 101.51 L112.4 102.32 L112.22 103.13 L112.05 103.96 L111.89 104.81 L111.74 105.68 L111.6 106.6 L111.47 107.55 L111.36 108.5 L111.25 109.48 L111.16 110.49 L111.07 111.53 L110.99 112.6 L110.91 113.73 L110.84 114.91 L110.77 116.17 L110.71 117.49 L110.65 118.87 L110.6 120.28 L110.55 121.72 L110.5 123.16 L110.45 124.6 L110.4 126" stroke="#ff1010" stroke-width="0.5" fill="none" stroke-linejoin="round"/>
<path d="M176.29 57.46 L175.64 57.63 L175.03 57.75 L174.42 57.88 L173.81 58.34 L173.18 58.58 L172.51 59.08 L171.79 59.54 L171 60.15 L170.13 60.4 L169.18 60.97 L168.18 61.36 L167.14 61.46 L166.08 61.6 L165.03 62 L163.99 62.99 L163 63.48 L162.05 63.89 L161.14 64.09 L160.24 64.69 L159.34 65.12 L158.44 65.57 L157.5 65.8 L156.53 66.38 L155.5 66.79 L154.4 67.02 L153.25 67.38 L152.06 67.69 L150.84 68.31 L149.61 68.59 L148.39 69.21 L147.18 69.65 L146 69.88 L144.83 70.07 L143.63 70.15 L142.43 70.93 L141.24 71.47 L140.08 72.32 L138.98 72.46 L137.94 72.51 L137 72.94 L136.16 73.38 L135.42 74.07 L134.76 74.19 L134.14 74.61 L133.55 75.01 L132.97 75.1 L132.36 75.51 L131.7 75.71 L131 76.24 L130.29 76.69 L129.56 77.25 L128.83 77.61 L128.1 77.52 L127.39 77.84 L126.68 78.36 L126 78.97 L125.33 79.31 L124.67 79.71 L124.01 80.16 L123.36 80.79 L122.73 81.41 L122.13 82.04 L121.55 82.58 L121 83.15 L120.48 83.76 L120 84.41 L119.53 85.08 L119.09 85.77 L118.67 86.46 L118.27 87.15 L117.88 87.83 L117.5 88.49 L117.14 89.13 L116.79 89.74 L116.47 90.34 L116.16 90.95 L115.86 91.55 L115.57 92.18 L115.28 92.83 L115 93.52 L114.72 94.25 L114.45 95 L114.19 95.77 L113.93 96.56 L113.68 97.37 L113.45 98.19 L113.22 99.02 L113 99.86 L112.79 100.72 L112.59 101.6 L112.4 102.49 L112.22 103.39 L112.05 104.31 L111.89 105.23 L111.74 106.15 L111.6 107.07 L111.47 107.97 L111.36 108.83 L111.25 109.69 L111.16 110.56 L111.07 111.46 L110.99 112.41 L110.92 113.44 L110.84 114.57 L110.77 115.81 L110.71 117.15 L110.65 118.57 L110.6 120.04 L110.55 121.54 L110.5 123.05 L110.45 124.54 L110.4 126" stroke="#ff1010" stroke-width="0.5" fill="none" stroke-linejoin="round"/>
<path d="M176.05 56.91 L175.44 57.41 L174.85 57.83 L174.28 58.62 L173.71 59.24 L173.11 59.4 L172.47 59.88 L171.77 60.19 L171 61.31 L170.14 61.68 L169.2 62.3 L168.19 62.17 L167.15 62.54 L166.09 62.72 L165.03 63.44 L164 63.88 L163 64.57 L162.05 64.75 L161.14 65.17 L160.24 65.73 L159.34 66.15 L158.44 66.39 L157.5 66.68 L156.53 67.05 L155.5 67.61 L154.4 67.99 L153.25 68.28 L152.06 68.69 L150.84 68.64 L149.61 69.18 L148.39 69.46 L147.18 69.74 L146 69.79 L144.83 69.82 L143.63 70.33 L142.43 70.97 L141.24 71.34 L140.08 71.92 L138.98 72.01 L137.94 72.54 L137 72.56 L136.16 73.46 L135.42 73.96 L134.76 74.62 L134.14 74.55 L133.55 75.05 L132.97 75.06 L132.36 75.54 L131.7 76.13 L131 76.82 L130.29 77.29 L129.56 77.53 L128.83 77.97 L128.1 78.47 L127.39 79.01 L126.68 79.61 L126 80.12 L125.33 80.49 L124.67 80.97 L124.01 81.43 L123.36 81.99 L122.73 82.48 L122.13 82.94 L121.55 83.34 L121 83.89 L120.48 84.45 L120 85 L119.53 85.56 L119.09 86.13 L118.67 86.71 L118.27 87.32 L117.88 87.94 L117.5 88.58 L117.14 89.26 L116.79 89.97 L116.47 90.7 L116.16 91.44 L115.86 92.2 L115.57 92.96 L115.28 93.7 L115 94.44 L114.72 95.15 L114.45 95.84 L114.19 96.53 L113.93 97.21 L113.68 97.91 L113.45 98.63 L113.22 99.39 L113 100.19 L112.79 101.04 L112.59 101.93 L112.4 102.86 L112.22 103.81 L112.05 104.78 L111.89 105.75 L111.74 106.71 L111.6 107.65 L111.47 108.55 L111.36 109.41 L111.26 110.26 L111.17 111.11 L111.08 112 L111 112.93 L110.92 113.93 L110.85 115.02 L110.78 116.22 L110.72 117.51 L110.66 118.87 L110.61 120.29 L110.56 121.72 L110.51 123.17 L110.45 124.6 L110.4 126" stroke="#ff1010" stroke-width="0.5" fill="none" stroke-linejoin="round"/>
<path d="M176.05 57.81 L175.44 58.22 L174.86 58.76 L174.29 59.24 L173.71 59.61 L173.11 59.84 L172.47 59.85 L171.77 60.01 L171 60.34 L170.14 60.93 L169.2 61.52 L168.19 62 L167.15 62.37 L166.09 62.86 L165.03 63.33 L164 63.85 L163 64.26 L162.05 64.64 L161.14 64.96 L160.24 65.54 L159.34 66.23 L158.44 66.88 L157.5 67.25 L156.53 67.98 L155.5 68.28 L154.4 68.61 L153.25 68.52 L152.06 68.61 L150.84 68.78 L149.61 69.14 L148.39 69.6 L147.18 69.88 L146 69.99 L144.83 70.25 L143.63 70.75 L142.43 71.13 L141.24 71.58 L140.08 71.99 L138.98 72.68 L137.94 73.31 L137 73.86 L136.16 73.86 L135.42 74.4 L134.76 75.05 L134.14 75.95 L133.55 76.11 L132.97 76.01 L132.36 76.24 L131.7 76.52 L131 77.13 L130.29 77.37 L129.56 78.01 L128.83 78.43 L128.1 78.59 L127.39 78.89 L126.68 79.08 L126 79.59 L125.33 79.99 L124.67 80.51 L124.01 81.17 L123.36 81.62 L122.73 82.2 L122.13 82.76 L121.55 83.34 L121 83.87 L120.48 84.41 L120 85 L119.53 85.62 L119.09 86.26 L118.67 86.9 L118.27 87.55 L117.88 88.21 L117.5 88.87 L117.14 89.53 L116.79 90.21 L116.47 90.89 L116.16 91.57 L115.86 92.27 L115.57 92.96 L115.28 93.67 L115 94.38 L114.72 95.08 L114.45 95.77 L114.19 96.46 L113.93 97.16 L113.68 97.88 L113.45 98.62 L113.22 99.4 L113 100.22 L112.79 101.09 L112.59 102.02 L112.4 103 L112.22 103.99 L112.05 104.99 L111.89 105.98 L111.74 106.95 L111.6 107.88 L111.47 108.74 L111.36 109.53 L111.26 110.29 L111.17 111.04 L111.08 111.82 L111 112.66 L110.93 113.6 L110.85 114.66 L110.78 115.85 L110.72 117.17 L110.66 118.57 L110.61 120.04 L110.56 121.54 L110.51 123.06 L110.45 124.55 L110.4 126" stroke="#ff1010" stroke-width="0.5" fill="none" stroke-linejoin="round"/>
<path d="M176.78 57.79 L176.07 58.25 L175.39 58.78 L174.71 59.32 L174.03 59.85 L173.33 59.82 L172.6 60.05 L171.83 60.1 L171 60.77 L170.1 61.51 L169.14 62.19 L168.14 62.74 L167.11 63.34 L166.06 63.77 L165.02 64.08 L163.99 64.24 L163 65.07 L162.05 65.31 L161.14 65.86 L160.24 66.14 L159.34 66.93 L158.44 67.19 L157.5 67.32 L156.53 67.72 L155.5 68.38 L154.4 68.59 L153.25 68.92 L152.06 69.12 L150.84 69.75 L149.61 70.18 L148.39 70.43 L147.18 70.38 L146 70.57 L144.83 71.23 L143.63 71.87 L142.43 72.17 L141.24 72.59 L140.08 72.67 L138.98 73.12 L137.94 73.04 L137 73.59 L136.16 73.9 L135.42 74.67 L134.76 75 L134.14 75.39 L133.55 75.42 L132.97 76.12 L132.36 76.6 L131.7 77.35 L131 77.52 L130.29 77.92 L129.56 78.38 L128.83 78.86 L128.1 79.33 L127.39 79.64 L126.68 80.01 L126 80.25 L125.33 80.78 L124.67 81.32 L124.01 82 L123.36 82.36 L122.73 82.85 L122.13 83.35 L121.55 84.01 L121 84.68 L120.48 85.33 L120 85.97 L119.53 86.63 L119.09 87.31 L118.67 87.99 L118.27 88.66 L117.88 89.33 L117.5 89.97 L117.14 90.58 L116.79 91.17 L116.47 91.75 L116.16 92.32 L115.86 92.9 L115.57 93.5 L115.28 94.13 L115 94.81 L114.72 95.53 L114.45 96.28 L114.19 97.07 L113.93 97.87 L113.68 98.69 L113.45 99.52 L113.22 100.35 L113 101.17 L112.79 101.98 L112.59 102.79 L112.4 103.6 L112.22 104.42 L112.05 105.25 L111.89 106.09 L111.74 106.94 L111.6 107.81 L111.47 108.68 L111.36 109.54 L111.26 110.4 L111.17 111.27 L111.09 112.18 L111.01 113.14 L110.93 114.16 L110.86 115.25 L110.79 116.43 L110.72 117.7 L110.67 119.04 L110.61 120.42 L110.56 121.82 L110.51 123.23 L110.46 124.63 L110.4 126" stroke="#ff1010" stroke-width="0.5" fill="none" stroke-linejoin="round"/>
<path d="M177.35 58.06 L176.57 58.34 L175.8 59.04 L175.04 59.25 L174.28 59.64 L173.5 59.79 L172.7 60.16 L171.87 60.71 L171 61.18 L170.08 61.82 L169.1 61.98 L168.1 62.5 L167.07 62.62 L166.04 63.16 L165 63.52 L163.99 64.31 L163 64.85 L162.05 65.34 L161.14 65.83 L160.24 66.28 L159.34 66.84 L158.44 67.28 L157.5 67.68 L156.53 67.98 L155.5 68.31 L154.4 68.64 L153.25 69.09 L152.06 69.55 L150.84 70.06 L149.61 70.27 L148.39 70.25 L147.18 70.46 L146 70.87 L144.83 71.62 L143.63 71.99 L142.43 72.41 L141.24 72.8 L140.08 73.23 L138.98 73.67 L137.94 74.25 L137 74.96 L136.16 75.48 L135.42 75.66 L134.76 75.68 L134.14 76.05 L133.55 76.4 L132.97 76.95 L132.36 77.17 L131.7 77.53 L131 77.83 L130.29 78.29 L129.56 78.83 L128.83 79.22 L128.1 79.3 L127.39 79.4 L126.68 79.62 L126 80.18 L125.33 80.81 L124.67 81.48 L124.01 82.03 L123.36 82.58 L122.73 83.11 L122.13 83.69 L121.55 84.28 L121 84.91 L120.48 85.59 L120 86.24 L119.53 86.9 L119.09 87.57 L118.67 88.25 L118.27 88.92 L117.88 89.59 L117.5 90.25 L117.14 90.89 L116.79 91.52 L116.47 92.15 L116.16 92.77 L115.86 93.39 L115.57 94.03 L115.28 94.68 L115 95.35 L114.72 96.04 L114.45 96.74 L114.19 97.45 L113.93 98.17 L113.68 98.91 L113.45 99.65 L113.22 100.42 L113 101.2 L112.79 102 L112.59 102.81 L112.4 103.65 L112.22 104.49 L112.05 105.35 L111.89 106.22 L111.74 107.1 L111.6 107.98 L111.47 108.86 L111.36 109.71 L111.26 110.57 L111.17 111.44 L111.09 112.34 L111.01 113.28 L110.94 114.29 L110.86 115.37 L110.79 116.54 L110.73 117.8 L110.67 119.12 L110.61 120.48 L110.56 121.87 L110.51 123.27 L110.46 124.65 L110.4 126" stroke="#ff1010" stroke-width="0.5" fill="none" stroke-linejoin="round"/>
<path d="M175.65 58.55 L175.09 58.83 L174.57 59.15 L174.05 59.23 L173.53 59.46 L172.99 59.89 L172.4 60.44 L171.74 60.82 L171 61.06 L170.16 61.56 L169.22 62.58 L168.22 63.43 L167.18 64.13 L166.11 64.22 L165.04 64.63 L164 65.13 L163 65.97 L162.05 66.53 L161.14 66.89 L160.24 67.55 L159.34 68.15 L158.44 68.59 L157.5 68.58 L156.53 69.04 L155.5 69.32 L154.4 69.95 L153.25 70.18 L152.06 70.33 L150.84 70.4 L149.61 70.26 L148.39 70.7 L147.18 70.96 L146 71.61 L144.83 71.98 L143.63 72.34 L142.43 72.66 L141.24 72.99 L140.08 73.4 L138.98 74.03 L137.94 74.4 L137 74.81 L136.16 74.88 L135.42 75.23 L134.76 75.35 L134.14 75.87 L133.55 76.28 L132.97 76.89 L132.36 77.07 L131.7 77.45 L131 77.8 L130.29 78.33 L129.56 79.29 L128.83 79.98 L128.1 80.49 L127.39 80.5 L126.68 80.9 L126 81.21 L125.33 81.89 L124.67 82.34 L124.01 82.88 L123.36 83.29 L122.73 83.75 L122.13 84.2 L121.55 84.75 L121 85.29 L120.48 85.89 L120 86.51 L119.53 87.14 L119.09 87.79 L118.67 88.45 L118.27 89.11 L117.88 89.78 L117.5 90.44 L117.14 91.09 L116.79 91.75 L116.47 92.41 L116.16 93.08 L115.86 93.75 L115.57 94.43 L115.28 95.12 L115 95.82 L114.72 96.53 L114.45 97.24 L114.19 97.95 L113.93 98.68 L113.68 99.41 L113.45 100.16 L113.22 100.93 L113 101.71 L112.79 102.51 L112.59 103.34 L112.4 104.18 L112.22 105.04 L112.05 105.91 L111.89 106.78 L111.74 107.65 L111.6 108.51 L111.47 109.36 L111.36 110.18 L111.26 110.98 L111.17 111.8 L111.09 112.65 L111.02 113.54 L110.94 114.5 L110.87 115.55 L110.8 116.69 L110.73 117.92 L110.67 119.22 L110.62 120.56 L110.56 121.93 L110.51 123.31 L110.46 124.67 L110.4 126" stroke="#ff1010" stroke-width="0.5" fill="none" stroke-linejoin="round"/>
<path d="M176.95 58.21 L176.22 58.65 L175.51 59.17 L174.81 60.07 L174.1 60.49 L173.38 61.04 L172.63 61.71 L171.84 62.25 L171 62.71 L170.09 62.69 L169.13 62.94 L168.13 63.41 L167.1 64.14 L166.05 64.95 L165.01 65.25 L163.99 65.68 L163 66.25 L162.05 67.08 L161.14 67.58 L160.24 67.71 L159.34 68.13 L158.44 68.73 L157.5 69.53 L156.53 69.79 L155.5 70.43 L154.4 70.66 L153.25 70.98 L152.06 70.58 L150.84 70.69 L149.61 70.72 L148.39 71.2 L147.18 71.58 L146 71.86 L144.83 72.44 L143.63 72.57 L142.43 72.98 L141.24 73.13 L140.08 73.48 L138.98 74.03 L137.94 74.48 L137 75.02 L136.16 75.62 L135.42 75.95 L134.76 76.44 L134.14 76.43 L133.55 76.59 L132.97 76.88 L132.36 77.41 L131.7 78.03 L131 78.67 L130.29 78.8 L129.56 79.15 L128.83 79.29 L128.1 80.25 L127.39 80.78 L126.68 81.39 L126 81.63 L125.33 82.24 L124.67 82.72 L124.01 83.27 L123.36 83.59 L122.73 84.16 L122.13 84.68 L121.55 85.28 L121 85.84 L120.48 86.43 L120 87.08 L119.53 87.77 L119.09 88.47 L118.67 89.19 L118.27 89.91 L117.88 90.63 L117.5 91.33 L117.14 92.02 L116.79 92.71 L116.47 93.4 L116.16 94.09 L115.86 94.78 L115.57 95.47 L115.28 96.16 L115 96.86 L114.72 97.55 L114.45 98.23 L114.19 98.92 L113.93 99.6 L113.68 100.29 L113.45 101 L113.22 101.72 L113 102.45 L112.79 103.21 L112.59 103.97 L112.4 104.75 L112.22 105.54 L112.05 106.34 L111.89 107.16 L111.74 107.99 L111.6 108.84 L111.48 109.69 L111.37 110.54 L111.27 111.39 L111.18 112.27 L111.1 113.17 L111.02 114.1 L110.95 115.09 L110.87 116.13 L110.8 117.24 L110.74 118.42 L110.68 119.64 L110.62 120.9 L110.57 122.19 L110.51 123.47 L110.46 124.75 L110.4 126" stroke="#ff1010" stroke-width="0.5" fill="none" stroke-linejoin="round"/>
<path d="M176.66 60.29 L175.97 60.61 L175.3 61.16 L174.64 61.67 L173.98 61.9 L173.3 61.98 L172.58 62.26 L171.82 62.3 L171 62.73 L170.11 63.27 L169.15 64.09 L168.15 64.45 L167.11 64.63 L166.07 65.1 L165.02 65.9 L163.99 66.19 L163 66.37 L162.05 66.59 L161.14 67.49 L160.24 67.92 L159.34 68.47 L158.44 68.72 L157.5 69.65 L156.53 70.03 L155.5 70.41 L154.4 70.29 L153.25 70.6 L152.06 70.9 L150.84 70.93 L149.61 70.95 L148.39 70.82 L147.18 71.1 L146 71.17 L144.83 71.54 L143.63 71.98 L142.43 72.5 L141.24 73.28 L140.08 74.02 L138.98 74.65 L137.94 74.91 L137 75.4 L136.16 75.61 L135.42 75.97 L134.76 76.44 L134.14 77.32 L133.55 78.23 L132.97 78.55 L132.36 78.71 L131.7 78.92 L131 79.44 L130.29 79.89 L129.56 80.22 L128.83 80.32 L128.1 80.66 L127.39 81.23 L126.68 81.83 L126 82.25 L125.33 82.55 L124.67 82.96 L124.01 83.58 L123.36 84.09 L122.73 84.64 L122.13 85.1 L121.55 85.7 L121 86.34 L120.48 87.02 L120 87.69 L119.53 88.4 L119.09 89.12 L118.67 89.86 L118.27 90.59 L117.88 91.32 L117.5 92.02 L117.14 92.71 L116.79 93.39 L116.47 94.06 L116.16 94.74 L115.86 95.41 L115.57 96.09 L115.28 96.78 L115 97.48 L114.72 98.19 L114.45 98.92 L114.19 99.64 L113.93 100.38 L113.68 101.12 L113.45 101.87 L113.22 102.62 L113 103.38 L112.79 104.15 L112.59 104.93 L112.4 105.71 L112.22 106.5 L112.05 107.29 L111.89 108.08 L111.74 108.88 L111.6 109.67 L111.48 110.43 L111.37 111.16 L111.27 111.87 L111.18 112.59 L111.1 113.34 L111.03 114.14 L110.95 115.01 L110.88 115.98 L110.81 117.06 L110.74 118.23 L110.68 119.47 L110.62 120.76 L110.57 122.08 L110.51 123.41 L110.46 124.72 L110.4 126" stroke="#ff1010" stroke-width="0.5" fill="none" stroke-linejoin="round"/>
<path d="M175.62 59.66 L175.07 60.09 L174.54 60.23 L174.04 60.47 L173.52 60.93 L172.98 61.48 L172.39 62.24 L171.74 62.51 L171 62.59 L170.16 62.76 L169.23 63.38 L168.23 64.36 L167.18 64.99 L166.11 65.4 L165.04 66.13 L164 66.57 L163 67.32 L162.05 67.56 L161.14 67.99 L160.24 68.6 L159.34 68.76 L158.44 69.29 L157.5 69.58 L156.53 70.31 L155.5 70.92 L154.4 71.14 L153.25 71.35 L152.06 71.75 L150.84 71.89 L149.61 72.1 L148.39 71.79 L147.18 71.94 L146 72.35 L144.83 72.96 L143.63 73.48 L142.43 73.73 L141.24 74.23 L140.08 74.46 L138.98 74.99 L137.94 75.31 L137 75.87 L136.16 76.33 L135.42 76.63 L134.76 76.99 L134.14 77.58 L133.55 78.14 L132.97 78.79 L132.36 78.9 L131.7 79.34 L131 79.71 L130.29 80.35 L129.56 81.01 L128.83 81.33 L128.1 81.67 L127.39 81.87 L126.68 82.03 L126 82.38 L125.33 82.87 L124.67 83.61 L124.01 84.05 L123.36 84.49 L122.73 84.91 L122.13 85.33 L121.55 85.8 L121 86.34 L120.48 86.95 L120 87.62 L119.53 88.36 L119.09 89.14 L118.67 89.93 L118.27 90.71 L117.88 91.47 L117.5 92.19 L117.14 92.87 L116.79 93.52 L116.47 94.16 L116.16 94.78 L115.86 95.41 L115.57 96.06 L115.28 96.72 L115 97.42 L114.72 98.16 L114.45 98.92 L114.19 99.71 L113.93 100.51 L113.68 101.32 L113.45 102.12 L113.22 102.91 L113 103.69 L112.79 104.45 L112.59 105.19 L112.4 105.93 L112.22 106.66 L112.05 107.39 L111.89 108.13 L111.74 108.89 L111.6 109.66 L111.48 110.43 L111.37 111.19 L111.27 111.95 L111.18 112.72 L111.11 113.52 L111.03 114.36 L110.96 115.26 L110.88 116.24 L110.81 117.31 L110.75 118.46 L110.69 119.67 L110.63 120.92 L110.57 122.2 L110.52 123.49 L110.46 124.76 L110.4 126" stroke="#ff1010" stroke-width="0.5" fill="none" stroke-linejoin="round"/>
<path d="M177.47 60.94 L176.67 61.16 L175.89 61.63 L175.11 61.85 L174.33 62.46 L173.54 62.37 L172.72 62.67 L171.88 63.04 L171 63.71 L170.07 64.2 L169.1 64.57 L168.09 64.92 L167.06 65.54 L166.03 65.65 L165 66.24 L163.99 66.62 L163 67.5 L162.05 68.15 L161.14 68.57 L160.24 69.19 L159.34 69.41 L158.44 69.66 L157.5 69.46 L156.53 70.15 L155.5 70.78 L154.4 71.31 L153.25 71.18 L152.06 71.2 L150.84 71.65 L149.61 71.91 L148.39 72.52 L147.18 72.51 L146 72.47 L144.83 72.69 L143.63 73.08 L142.43 73.86 L141.24 74.46 L140.08 74.98 L138.98 75.69 L137.94 75.95 L137 76.34 L136.16 76.69 L135.42 77.05 L134.76 77.79 L134.14 78.29 L133.55 78.83 L132.97 79.17 L132.36 79.55 L131.7 79.94 L131 80.43 L130.29 80.75 L129.56 81.31 L128.83 81.49 L128.1 81.97 L127.39 82.4 L126.68 82.87 L126 83.29 L125.33 83.68 L124.67 84.26 L124.01 84.7 L123.36 85.21 L122.73 85.72 L122.13 86.25 L121.55 86.72 L121 87.27 L120.48 87.92 L120 88.6 L119.53 89.31 L119.09 90.05 L118.67 90.8 L118.27 91.55 L117.88 92.28 L117.5 92.99 L117.14 93.69 L116.79 94.37 L116.47 95.05 L116.16 95.73 L115.86 96.41 L115.57 97.08 L115.28 97.76 L115 98.43 L114.72 99.11 L114.45 99.77 L114.19 100.43 L113.93 101.1 L113.68 101.77 L113.45 102.45 L113.22 103.15 L113 103.88 L112.79 104.62 L112.59 105.39 L112.4 106.18 L112.22 106.98 L112.05 107.79 L111.89 108.61 L111.74 109.43 L111.6 110.24 L111.48 111.05 L111.37 111.84 L111.27 112.63 L111.19 113.43 L111.11 114.25 L111.04 115.1 L110.96 116 L110.89 116.95 L110.82 117.97 L110.75 119.05 L110.69 120.17 L110.63 121.33 L110.57 122.5 L110.52 123.68 L110.46 124.85 L110.4 126" stroke="#ff1010" stroke-width="0.5" fill="none" stroke-linejoin="round"/>
<path d="M177.49 61.55 L176.69 61.88 L175.9 62.51 L175.12 62.51 L174.34 62.61 L173.54 62.7 L172.73 63.18 L171.88 63.61 L171 64.05 L170.07 64.64 L169.09 65.2 L168.09 65.47 L167.06 65.51 L166.03 66 L165 66.5 L163.99 67.25 L163 67.69 L162.05 68.15 L161.14 68.44 L160.24 68.77 L159.34 69.29 L158.44 69.74 L157.5 70.19 L156.53 70.92 L155.5 71.4 L154.4 71.75 L153.25 71.78 L152.06 71.82 L150.84 72.22 L149.61 72.09 L148.39 72.35 L147.18 72.41 L146 72.82 L144.83 73.34 L143.63 73.8 L142.43 74.27 L141.24 74.62 L140.08 74.69 L138.98 75.35 L137.94 75.78 L137 76.45 L136.16 77.06 L135.42 77.62 L134.76 78.32 L134.14 78.75 L133.55 79.04 L132.97 79.42 L132.36 79.91 L131.7 80.37 L131 81 L130.29 81.38 L129.56 82.07 L128.83 82.18 L128.1 82.61 L127.39 83.03 L126.68 83.53 L126 83.99 L125.33 84.26 L124.67 84.87 L124.01 85.27 L123.36 85.77 L122.73 86.18 L122.13 86.74 L121.55 87.36 L121 87.91 L120.48 88.49 L120 89.06 L119.53 89.65 L119.09 90.25 L118.67 90.87 L118.27 91.51 L117.88 92.17 L117.5 92.84 L117.14 93.54 L116.79 94.27 L116.47 95.03 L116.16 95.8 L115.86 96.57 L115.57 97.35 L115.28 98.11 L115 98.85 L114.72 99.56 L114.45 100.26 L114.19 100.96 L113.93 101.65 L113.68 102.33 L113.45 103.03 L113.22 103.73 L113 104.45 L112.79 105.18 L112.59 105.92 L112.4 106.67 L112.22 107.42 L112.05 108.18 L111.89 108.95 L111.74 109.72 L111.6 110.5 L111.48 111.27 L111.37 112.03 L111.28 112.78 L111.19 113.55 L111.11 114.34 L111.04 115.16 L110.97 116.03 L110.9 116.97 L110.82 117.97 L110.76 119.04 L110.69 120.16 L110.63 121.32 L110.58 122.5 L110.52 123.68 L110.46 124.85 L110.4 126" stroke="#ff1010" stroke-width="0.5" fill="none" stroke-linejoin="round"/>
<path d="M176.69 60.57 L176 60.94 L175.32 61.39 L174.66 62.06 L173.99 62.49 L173.3 62.72 L172.59 63.15 L171.82 63.44 L171 63.67 L170.11 64 L169.15 64.48 L168.15 65.33 L167.11 66.18 L166.06 66.83 L165.02 67.1 L163.99 67.31 L163 67.77 L162.05 68.64 L161.14 69.37 L160.24 69.97 L159.34 70.22 L158.44 70.85 L157.5 71.41 L156.53 71.96 L155.5 72.22 L154.4 72.71 L153.25 72.87 L152.06 73.22 L150.84 73.23 L149.61 73.34 L148.39 73.31 L147.18 73.25 L146 73.35 L144.83 73.48 L143.63 73.72 L142.43 74.32 L141.24 74.79 L140.08 75.45 L138.98 75.96 L137.94 75.94 L137 76.35 L136.16 76.41 L135.42 77.36 L134.76 77.65 L134.14 78.41 L133.55 79.07 L132.97 79.43 L132.36 79.93 L131.7 80.19 L131 80.65 L130.29 81.21 L129.56 81.72 L128.83 82.41 L128.1 82.73 L127.39 83.59 L126.68 84.07 L126 84.44 L125.33 84.57 L124.67 85.07 L124.01 85.64 L123.36 86.15 L122.73 86.6 L122.13 87.12 L121.55 87.62 L121 88.16 L120.48 88.73 L120 89.35 L119.53 89.96 L119.09 90.59 L118.67 91.24 L118.27 91.91 L117.88 92.58 L117.5 93.27 L117.14 93.98 L116.79 94.71 L116.47 95.46 L116.16 96.23 L115.86 96.99 L115.57 97.76 L115.28 98.53 L115 99.28 L114.72 100.02 L114.45 100.75 L114.19 101.49 L113.93 102.22 L113.68 102.96 L113.45 103.68 L113.22 104.41 L113 105.13 L112.79 105.85 L112.59 106.56 L112.4 107.27 L112.22 107.98 L112.05 108.68 L111.89 109.39 L111.74 110.11 L111.6 110.83 L111.48 111.54 L111.37 112.23 L111.28 112.91 L111.19 113.61 L111.12 114.32 L111.04 115.09 L110.97 115.91 L110.9 116.81 L110.83 117.81 L110.76 118.89 L110.7 120.02 L110.64 121.21 L110.58 122.41 L110.52 123.63 L110.46 124.83 L110.4 126" stroke="#ff1010" stroke-width="0.5" fill="none" stroke-linejoin="round"/>
<clipPath id="meshA"><path d="M142 40 L151 40 L166 53.5 L176 56.5 L176 60 L160 64 L142 62 Z"/></clipPath>
<path d="M139.5 27.5 L139.5 61.65" stroke="#ff1a1a" stroke-width="0.6"/>
<path d="M140.5 27.5 L140.5 59.87" stroke="#ff1a1a" stroke-width="0.6"/>
<path d="M142.5 27.5 L142.5 58.76" stroke="#ff1a1a" stroke-width="0.6"/>
<path d="M143.5 27.5 L143.5 53.57" stroke="#ff1a1a" stroke-width="0.6"/>
<path d="M145.5 27.5 L145.5 54.02" stroke="#ff1a1a" stroke-width="0.6"/>
<path d="M146.5 27.5 L146.5 53.3" stroke="#ff1a1a" stroke-width="0.6"/>
<path d="M148.5 27.5 L148.5 49.48" stroke="#ff1a1a" stroke-width="0.6"/>
<path d="M149.5 27.5 L149.5 44.91" stroke="#ff1a1a" stroke-width="0.6"/>
<path d="M151.5 27.5 L151.5 42.27" stroke="#ff1a1a" stroke-width="0.6"/>
<g clip-path="url(#meshA)" stroke="#ff1a1a" fill="none">
<path d="M139 15.51 L178 48.66" stroke-width="0.6"/>
<path d="M139 19.8 L178 52.95" stroke-width="0.6"/>
<path d="M139 24.31 L178 57.46" stroke-width="0.6"/>
<path d="M139 27.57 L178 60.72" stroke-width="0.6"/>
<path d="M139 31.94 L178 65.09" stroke-width="0.6"/>
<path d="M139 35.45 L178 68.6" stroke-width="0.6"/>
<path d="M139 40.21 L178 73.36" stroke-width="0.6"/>
<path d="M139 43.52 L178 76.67" stroke-width="0.6"/>
<path d="M139 48.35 L178 81.5" stroke-width="0.6"/>
<path d="M139 52.14 L178 85.29" stroke-width="0.6"/>
<path d="M139 55.63 L178 88.78" stroke-width="0.6"/>
<path d="M139 52.24 L178 21.04" stroke-width="0.55"/>
<path d="M139 56.12 L178 24.92" stroke-width="0.55"/>
<path d="M139 60.63 L178 29.43" stroke-width="0.55"/>
<path d="M139 64.97 L178 33.77" stroke-width="0.55"/>
<path d="M139 68.93 L178 37.73" stroke-width="0.55"/>
<path d="M139 73.4 L178 42.2" stroke-width="0.55"/>
<path d="M139 78.14 L178 46.94" stroke-width="0.55"/>
<path d="M139 82.54 L178 51.34" stroke-width="0.55"/>
<path d="M139 86.82 L178 55.62" stroke-width="0.55"/>
<path d="M139 90.78 L178 59.58" stroke-width="0.55"/>
<path d="M162.07 42.81 L165.95 40.08 L169.25 41.83 L168.98 43.57 L172.68 41.56" stroke-width="0.5"/>
<path d="M156.94 40.09 L158.59 37.46 L160.26 34.62 L160.08 36.82 L159.23 39.64" stroke-width="0.5"/>
<path d="M152.84 43.64 L156.39 41.57 L157.55 44.23 L161.14 44.56 L159.62 44.57" stroke-width="0.5"/>
<path d="M148.72 46.29 L147.94 44.5 L145.21 46 L142.3 46.44 L141.87 47.34" stroke-width="0.5"/>
<path d="M155.35 49.58 L157.8 50.01 L161.08 50.52 L164.22 52.71 L166.17 51.68" stroke-width="0.5"/>
<path d="M153.19 41.58 L155.27 42.46 L158 39.96 L155.9 40.84 L158.02 38.28" stroke-width="0.5"/>
<path d="M142.71 46.5 L142.08 43.81 L139.77 42.03 L136.86 39.92 L134.04 39.14" stroke-width="0.5"/>
<path d="M159.22 53.23 L160.45 53.04 L158.76 50.32 L157.06 53.01 L159.76 53.43" stroke-width="0.5"/>
<path d="M156.11 54.9 L158.86 53.35 L161.48 54.24 L160.42 52.97 L158.62 53.25" stroke-width="0.5"/>
<path d="M164.28 55.8 L162.44 53.51 L161.42 51.5 L159.41 52.89 L158.62 53.28" stroke-width="0.5"/>
<path d="M149.25 59.69 L150.4 57.53 L152.84 56.27 L153.02 54.99 L153.45 53.84" stroke-width="0.5"/>
<path d="M149.37 43.15 L153.1 41.4 L152.07 40.86 L149.9 39.23 L149.75 39.74" stroke-width="0.5"/>
<path d="M154.34 47.37 L156.07 48.85 L154.93 47.28 L156.31 46.75 L159.12 43.81" stroke-width="0.5"/>
<path d="M154.46 46.97 L152.94 49.18 L151.46 50.91 L154.44 53.72 L152.25 51.65" stroke-width="0.5"/>
</g>
<path d="M110.59 82.17 L110.6 80 L110.61 77.93 L110.62 75.95 L110.63 74.07 L110.63 72.28 L110.64 70.58 L110.65 68.97 L110.67 67.45 L110.69 66 L110.71 64.65 L110.74 63.4 L110.77 62.24 L110.8 61.17 L110.83 60.17 L110.87 59.23 L110.92 58.34 L110.98 57.5 L111.05 56.72 L111.12 56.03 L111.2 55.41 L111.28 54.84 L111.37 54.31 L111.47 53.8 L111.57 53.3 L111.67 52.8 L111.77 52.32 L111.86 51.89 L111.96 51.5 L112.06 51.11 L112.17 50.72 L112.3 50.3 L112.46 49.83 L112.66 49.3 L112.88 48.69 L113.12 48.03 L113.38 47.32 L113.66 46.59 L113.97 45.84 L114.31 45.08 L114.69 44.33 L115.1 43.6 L115.56 42.88 L116.05 42.14 L116.58 41.4 L117.14 40.66 L117.73 39.93 L118.35 39.22 L118.99 38.53 L119.66 37.87 L120.37 37.23 L121.13 36.6 L121.92 35.99 L122.74 35.4 L123.57 34.83 L124.4 34.29 L125.21 33.78 L126 33.3 L126.77 32.87 L127.52 32.46 L128.27 32.09 L129.02 31.75 L129.76 31.43 L130.51 31.13 L131.25 30.84 L132 30.56 L132.77 30.3 L133.58 30.06 L134.4 29.84 L135.21 29.64 L136 29.45 L136.74 29.27 L137.41 29.09 L138 28.91 L138.48 28.74 L138.88 28.57 L139.2 28.41 L139.48 28.25 L139.74 28.11 L139.99 27.98 L140.27 27.86 L140.59 27.77 L140.94 27.7 L141.31 27.65 L141.68 27.63 L142.06 27.61 L142.45 27.6 L142.83 27.6 L143.21 27.59 L143.59 27.57" stroke="#ff1010" stroke-width="0.85" fill="none" />
<path d="M110.59 82.17 L110.6 80 L110.61 77.93 L110.62 75.95 L110.63 74.07 L110.64 72.28 L110.66 70.58 L110.67 68.97 L110.69 67.45 L110.71 66 L110.74 64.65 L110.77 63.4 L110.8 62.24 L110.83 61.17 L110.87 60.17 L110.92 59.23 L110.97 58.34 L111.03 57.5 L111.1 56.72 L111.17 56.03 L111.25 55.41 L111.34 54.84 L111.44 54.31 L111.53 53.8 L111.64 53.3 L111.74 52.8 L111.85 52.32 L111.94 51.89 L112.04 51.5 L112.14 51.11 L112.26 50.72 L112.4 50.3 L112.56 49.83 L112.76 49.3 L112.98 48.69 L113.22 48.03 L113.48 47.32 L113.77 46.58 L114.08 45.83 L114.42 45.07 L114.8 44.33 L115.21 43.6 L115.67 42.88 L116.16 42.16 L116.69 41.43 L117.25 40.7 L117.84 39.98 L118.45 39.28 L119.09 38.6 L119.76 37.94 L120.46 37.31 L121.2 36.69 L121.98 36.08 L122.79 35.5 L123.6 34.93 L124.42 34.4 L125.22 33.89 L126 33.41 L126.76 32.98 L127.52 32.58 L128.27 32.2 L129.02 31.86 L129.76 31.53 L130.51 31.23 L131.25 30.94 L132 30.66 L132.76 30.39 L133.54 30.15 L134.33 29.93 L135.11 29.73 L135.88 29.54 L136.62 29.35 L137.33 29.18 L138 29 L138.62 28.83 L139.21 28.65 L139.77 28.49 L140.31 28.33 L140.82 28.19 L141.31 28.05 L141.78 27.94 L142.24 27.84 L142.68 27.77 L143.08 27.73 L143.46 27.7 L143.82 27.68 L144.17 27.68 L144.52 27.67 L144.88 27.66 L145.24 27.64" stroke="#ff1010" stroke-width="0.85" fill="none" />
<path d="M110.59 82.17 L110.6 80 L110.61 77.93 L110.63 75.95 L110.64 74.07 L110.65 72.28 L110.67 70.58 L110.69 68.97 L110.71 67.45 L110.74 66 L110.77 64.65 L110.8 63.4 L110.83 62.24 L110.87 61.17 L110.91 60.17 L110.96 59.23 L111.01 58.34 L111.08 57.5 L111.15 56.72 L111.23 56.03 L111.31 55.41 L111.4 54.84 L111.5 54.31 L111.6 53.8 L111.71 53.3 L111.82 52.8 L111.92 52.32 L112.02 51.89 L112.12 51.5 L112.23 51.11 L112.35 50.72 L112.49 50.3 L112.66 49.83 L112.86 49.3 L113.08 48.69 L113.32 48.03 L113.59 47.32 L113.87 46.58 L114.19 45.83 L114.53 45.07 L114.91 44.32 L115.32 43.6 L115.78 42.89 L116.27 42.17 L116.8 41.45 L117.36 40.73 L117.95 40.03 L118.56 39.33 L119.2 38.66 L119.86 38.02 L120.55 37.39 L121.28 36.78 L122.05 36.18 L122.84 35.59 L123.64 35.04 L124.44 34.5 L125.23 34 L126 33.52 L126.76 33.09 L127.51 32.69 L128.26 32.31 L129.01 31.96 L129.76 31.64 L130.5 31.33 L131.25 31.04 L132 30.76 L132.73 30.49 L133.44 30.25 L134.15 30.03 L134.85 29.82 L135.58 29.63 L136.33 29.44 L137.14 29.26 L138 29.09 L138.97 28.91 L140.05 28.74 L141.19 28.57 L142.36 28.41 L143.51 28.26 L144.58 28.13 L145.54 28.01 L146.35 27.92 L146.98 27.85 L147.47 27.8 L147.86 27.77 L148.18 27.76 L148.46 27.75 L148.72 27.74 L149.01 27.74 L149.35 27.72" stroke="#ff1010" stroke-width="0.85" fill="none" />
<path d="M110.58 82.17 L110.6 80 L110.62 77.93 L110.63 75.95 L110.65 74.07 L110.67 72.28 L110.68 70.58 L110.71 68.97 L110.73 67.45 L110.76 66 L110.8 64.65 L110.83 63.4 L110.87 62.24 L110.91 61.17 L110.95 60.17 L111 59.23 L111.06 58.34 L111.13 57.5 L111.2 56.72 L111.28 56.03 L111.37 55.41 L111.46 54.84 L111.56 54.31 L111.67 53.8 L111.78 53.3 L111.89 52.8 L112 52.32 L112.1 51.89 L112.2 51.5 L112.31 51.11 L112.44 50.72 L112.58 50.3 L112.75 49.83 L112.95 49.3 L113.18 48.69 L113.43 48.03 L113.69 47.32 L113.98 46.58 L114.29 45.82 L114.64 45.06 L115.02 44.32 L115.43 43.6 L115.89 42.89 L116.39 42.18 L116.91 41.47 L117.47 40.77 L118.06 40.07 L118.67 39.39 L119.3 38.73 L119.95 38.09 L120.64 37.47 L121.36 36.86 L122.11 36.27 L122.88 35.69 L123.67 35.14 L124.46 34.61 L125.24 34.1 L126 33.63 L126.75 33.2 L127.5 32.8 L128.25 32.42 L129 32.07 L129.75 31.74 L130.5 31.43 L131.25 31.14 L132 30.85 L132.75 30.59 L133.49 30.34 L134.23 30.12 L134.97 29.91 L135.71 29.72 L136.46 29.53 L137.23 29.35 L138 29.17 L138.81 28.99 L139.67 28.82 L140.56 28.65 L141.44 28.49 L142.3 28.34 L143.11 28.2 L143.86 28.09 L144.51 27.99 L145.05 27.92 L145.5 27.87 L145.89 27.84 L146.22 27.83 L146.53 27.82 L146.84 27.82 L147.15 27.81 L147.51 27.79" stroke="#ff1010" stroke-width="0.85" fill="none" />
<path d="M110.58 82.17 L110.6 80 L110.62 77.93 L110.64 75.95 L110.66 74.07 L110.68 72.28 L110.7 70.58 L110.72 68.97 L110.75 67.45 L110.79 66 L110.82 64.65 L110.86 63.4 L110.9 62.24 L110.94 61.17 L110.99 60.17 L111.05 59.23 L111.11 58.34 L111.18 57.5 L111.25 56.72 L111.34 56.03 L111.43 55.41 L111.53 54.84 L111.63 54.31 L111.74 53.8 L111.85 53.3 L111.96 52.8 L112.08 52.32 L112.18 51.89 L112.29 51.5 L112.4 51.11 L112.53 50.72 L112.67 50.3 L112.85 49.83 L113.05 49.3 L113.28 48.69 L113.53 48.02 L113.79 47.31 L114.08 46.57 L114.4 45.81 L114.75 45.06 L115.13 44.31 L115.54 43.6 L116 42.9 L116.5 42.2 L117.02 41.5 L117.58 40.8 L118.17 40.12 L118.78 39.44 L119.41 38.79 L120.05 38.16 L120.73 37.55 L121.44 36.95 L122.17 36.36 L122.93 35.79 L123.7 35.24 L124.48 34.71 L125.24 34.21 L126 33.74 L126.75 33.31 L127.5 32.91 L128.25 32.53 L129 32.18 L129.75 31.85 L130.5 31.53 L131.25 31.24 L132 30.95 L132.77 30.68 L133.57 30.44 L134.38 30.21 L135.18 30 L135.96 29.81 L136.71 29.62 L137.39 29.44 L138 29.26 L138.53 29.08 L138.98 28.9 L139.37 28.73 L139.73 28.57 L140.06 28.42 L140.39 28.28 L140.72 28.16 L141.08 28.06 L141.46 27.99 L141.84 27.94 L142.22 27.92 L142.59 27.9 L142.96 27.89 L143.34 27.89 L143.71 27.88 L144.08 27.86" stroke="#ff1010" stroke-width="0.85" fill="none" />
<path d="M110.58 82.17 L110.6 80 L110.62 77.93 L110.64 75.95 L110.66 74.07 L110.69 72.28 L110.71 70.58 L110.74 68.97 L110.78 67.45 L110.81 66 L110.85 64.65 L110.89 63.4 L110.93 62.24 L110.98 61.17 L111.03 60.17 L111.09 59.23 L111.15 58.34 L111.22 57.5 L111.3 56.72 L111.39 56.03 L111.49 55.41 L111.59 54.84 L111.69 54.31 L111.8 53.8 L111.92 53.3 L112.04 52.8 L112.15 52.32 L112.26 51.89 L112.37 51.5 L112.49 51.11 L112.62 50.72 L112.77 50.3 L112.94 49.83 L113.15 49.3 L113.38 48.69 L113.63 48.02 L113.9 47.31 L114.19 46.57 L114.51 45.81 L114.86 45.05 L115.24 44.31 L115.66 43.6 L116.11 42.91 L116.61 42.21 L117.13 41.52 L117.69 40.84 L118.28 40.16 L118.88 39.5 L119.51 38.86 L120.15 38.24 L120.81 37.63 L121.51 37.04 L122.24 36.45 L122.98 35.89 L123.74 35.34 L124.49 34.82 L125.25 34.32 L126 33.85 L126.74 33.42 L127.49 33.02 L128.24 32.64 L128.99 32.28 L129.74 31.95 L130.5 31.64 L131.25 31.34 L132 31.05 L132.77 30.78 L133.58 30.53 L134.39 30.31 L135.2 30.1 L135.99 29.9 L136.73 29.71 L137.41 29.52 L138 29.34 L138.5 29.16 L138.91 28.98 L139.25 28.81 L139.56 28.65 L139.84 28.49 L140.11 28.36 L140.41 28.24 L140.74 28.14 L141.1 28.06 L141.47 28.02 L141.84 27.99 L142.22 27.97 L142.6 27.97 L142.98 27.96 L143.36 27.95 L143.74 27.94" stroke="#ff1010" stroke-width="0.85" fill="none" />
<path d="M110.58 82.17 L110.6 80 L110.62 77.93 L110.64 75.95 L110.67 74.07 L110.7 72.28 L110.73 70.58 L110.76 68.97 L110.8 67.45 L110.84 66 L110.88 64.65 L110.92 63.4 L110.97 62.24 L111.02 61.17 L111.07 60.17 L111.13 59.23 L111.2 58.34 L111.27 57.5 L111.36 56.72 L111.45 56.03 L111.54 55.41 L111.65 54.84 L111.76 54.31 L111.87 53.8 L111.99 53.3 L112.11 52.8 L112.23 52.32 L112.34 51.89 L112.45 51.5 L112.57 51.11 L112.71 50.72 L112.86 50.3 L113.04 49.83 L113.25 49.3 L113.48 48.69 L113.73 48.02 L114 47.31 L114.3 46.56 L114.62 45.8 L114.96 45.05 L115.35 44.31 L115.77 43.6 L116.22 42.91 L116.72 42.23 L117.25 41.54 L117.8 40.87 L118.39 40.21 L118.99 39.56 L119.61 38.92 L120.25 38.31 L120.9 37.71 L121.59 37.12 L122.3 36.54 L123.03 35.98 L123.77 35.44 L124.51 34.92 L125.26 34.43 L126 33.96 L126.74 33.53 L127.48 33.13 L128.23 32.75 L128.98 32.39 L129.74 32.06 L130.49 31.74 L131.25 31.44 L132 31.15 L132.74 30.88 L133.47 30.63 L134.2 30.4 L134.92 30.19 L135.66 29.99 L136.41 29.8 L137.19 29.61 L138 29.43 L138.88 29.25 L139.82 29.06 L140.81 28.89 L141.81 28.72 L142.79 28.57 L143.7 28.43 L144.54 28.31 L145.25 28.21 L145.83 28.14 L146.3 28.09 L146.68 28.06 L147.01 28.05 L147.31 28.04 L147.6 28.04 L147.9 28.03 L148.25 28.01" stroke="#ff1010" stroke-width="0.85" fill="none" />
<path d="M110.58 82.17 L110.6 80 L110.62 77.93 L110.65 75.95 L110.68 74.07 L110.71 72.28 L110.74 70.58 L110.78 68.97 L110.82 67.45 L110.86 66 L110.91 64.65 L110.95 63.4 L111 62.24 L111.05 61.17 L111.11 60.17 L111.17 59.23 L111.24 58.34 L111.32 57.5 L111.41 56.72 L111.5 56.03 L111.6 55.41 L111.71 54.84 L111.82 54.31 L111.94 53.8 L112.06 53.3 L112.18 52.8 L112.3 52.32 L112.42 51.89 L112.54 51.5 L112.66 51.11 L112.8 50.72 L112.95 50.3 L113.13 49.83 L113.34 49.3 L113.58 48.69 L113.84 48.02 L114.11 47.3 L114.4 46.56 L114.72 45.8 L115.07 45.04 L115.46 44.3 L115.88 43.6 L116.33 42.92 L116.83 42.24 L117.36 41.57 L117.91 40.9 L118.5 40.25 L119.1 39.61 L119.72 38.99 L120.34 38.38 L120.99 37.79 L121.67 37.21 L122.36 36.64 L123.08 36.08 L123.8 35.54 L124.53 35.03 L125.27 34.54 L126 34.07 L126.73 33.64 L127.48 33.24 L128.22 32.86 L128.98 32.5 L129.73 32.16 L130.49 31.84 L131.25 31.54 L132 31.24 L132.75 30.97 L133.49 30.72 L134.23 30.49 L134.98 30.28 L135.72 30.08 L136.47 29.89 L137.23 29.7 L138 29.51 L138.8 29.33 L139.64 29.15 L140.51 28.97 L141.37 28.8 L142.21 28.65 L143 28.51 L143.73 28.38 L144.36 28.28 L144.9 28.21 L145.35 28.16 L145.73 28.13 L146.07 28.12 L146.39 28.11 L146.69 28.11 L147.01 28.1 L147.36 28.08" stroke="#ff1010" stroke-width="0.85" fill="none" />
<path d="M110.58 82.17 L110.6 80 L110.63 77.93 L110.65 75.95 L110.68 74.07 L110.72 72.28 L110.76 70.58 L110.8 68.97 L110.84 67.45 L110.89 66 L110.93 64.65 L110.98 63.4 L111.04 62.24 L111.09 61.17 L111.15 60.17 L111.22 59.23 L111.29 58.34 L111.37 57.5 L111.46 56.72 L111.56 56.03 L111.66 55.41 L111.77 54.84 L111.89 54.31 L112 53.8 L112.13 53.3 L112.26 52.8 L112.38 52.32 L112.5 51.89 L112.62 51.5 L112.75 51.11 L112.89 50.72 L113.04 50.3 L113.23 49.83 L113.44 49.3 L113.68 48.69 L113.94 48.02 L114.21 47.3 L114.51 46.55 L114.83 45.79 L115.18 45.04 L115.57 44.3 L115.98 43.6 L116.44 42.92 L116.94 42.25 L117.47 41.59 L118.03 40.94 L118.61 40.3 L119.21 39.67 L119.82 39.05 L120.44 38.46 L121.08 37.87 L121.74 37.29 L122.43 36.73 L123.12 36.18 L123.84 35.64 L124.55 35.13 L125.28 34.64 L126 34.18 L126.73 33.75 L127.47 33.35 L128.22 32.97 L128.97 32.61 L129.73 32.26 L130.49 31.94 L131.25 31.64 L132 31.34 L132.78 31.07 L133.59 30.82 L134.43 30.59 L135.25 30.37 L136.04 30.17 L136.78 29.97 L137.44 29.79 L138 29.6 L138.44 29.41 L138.76 29.23 L139 29.05 L139.2 28.88 L139.36 28.72 L139.54 28.58 L139.74 28.46 L140.02 28.36 L140.34 28.28 L140.7 28.23 L141.07 28.21 L141.46 28.19 L141.85 28.19 L142.24 28.18 L142.64 28.17 L143.02 28.16" stroke="#ff1010" stroke-width="0.85" fill="none" />
<path d="M110.58 82.17 L110.6 80 L110.63 77.93 L110.66 75.95 L110.69 74.07 L110.73 72.28 L110.77 70.58 L110.81 68.97 L110.86 67.45 L110.91 66 L110.96 64.65 L111.01 63.4 L111.07 62.24 L111.13 61.17 L111.19 60.17 L111.26 59.23 L111.34 58.34 L111.42 57.5 L111.51 56.72 L111.61 56.03 L111.72 55.41 L111.83 54.84 L111.95 54.31 L112.07 53.8 L112.2 53.3 L112.33 52.8 L112.46 52.32 L112.58 51.89 L112.7 51.5 L112.83 51.11 L112.97 50.72 L113.14 50.3 L113.32 49.83 L113.54 49.3 L113.78 48.69 L114.04 48.01 L114.32 47.3 L114.62 46.55 L114.94 45.79 L115.29 45.03 L115.68 44.3 L116.09 43.6 L116.55 42.93 L117.05 42.27 L117.58 41.62 L118.14 40.97 L118.72 40.34 L119.31 39.72 L119.92 39.12 L120.54 38.53 L121.17 37.95 L121.82 37.38 L122.49 36.82 L123.17 36.27 L123.87 35.75 L124.57 35.24 L125.28 34.75 L126 34.29 L126.72 33.86 L127.46 33.46 L128.21 33.07 L128.97 32.71 L129.73 32.37 L130.49 32.04 L131.25 31.73 L132 31.44 L132.75 31.16 L133.5 30.91 L134.25 30.68 L134.99 30.46 L135.74 30.26 L136.49 30.06 L137.24 29.87 L138 29.69 L138.78 29.5 L139.59 29.31 L140.42 29.13 L141.24 28.96 L142.04 28.8 L142.8 28.66 L143.5 28.53 L144.11 28.43 L144.64 28.35 L145.08 28.31 L145.46 28.28 L145.81 28.26 L146.12 28.26 L146.43 28.26 L146.76 28.25 L147.11 28.23" stroke="#ff1010" stroke-width="0.85" fill="none" />
<line x1="110.4" y1="80" x2="110.4" y2="126.5" stroke="#3030ff" stroke-width="0.8" />
<line x1="110.55" y1="80" x2="110.55" y2="126.5" stroke="#ff2020" stroke-width="0.5" stroke-opacity="0.8"/>
</g>
<g clip-path="url(#cc)">
<line x1="412.2" y1="36.5" x2="458" y2="36.5" stroke="#7474ff" stroke-width="1.1" />
<rect x="438.2" y="36.5" width="4.5" height="25" fill="#6a6aff" fill-opacity="0.3"/>
<line x1="438.2" y1="36.5" x2="438.2" y2="60.38" stroke="#1515ff" stroke-width="0.55" stroke-opacity="0.85"/>
<line x1="439.3" y1="36.5" x2="439.3" y2="60.59" stroke="#1515ff" stroke-width="0.55" stroke-opacity="0.85"/>
<line x1="440.2" y1="36.5" x2="440.2" y2="60.2" stroke="#1515ff" stroke-width="0.55" stroke-opacity="0.85"/>
<line x1="441.2" y1="36.5" x2="441.2" y2="61.98" stroke="#1515ff" stroke-width="0.55" stroke-opacity="0.85"/>
<line x1="442.4" y1="36.5" x2="442.4" y2="60.91" stroke="#1515ff" stroke-width="0.55" stroke-opacity="0.85"/>
<line x1="444.3" y1="36.5" x2="444.3" y2="61.23" stroke="#1515ff" stroke-width="0.55" stroke-opacity="0.85"/>
<line x1="445.6" y1="36.5" x2="445.6" y2="60.41" stroke="#1515ff" stroke-width="0.55" stroke-opacity="0.85"/>
<line x1="447.6" y1="36.5" x2="447.6" y2="60.75" stroke="#1515ff" stroke-width="0.55" stroke-opacity="0.85"/>
<line x1="454.7" y1="36.5" x2="454.7" y2="61.29" stroke="#1515ff" stroke-width="0.55" stroke-opacity="0.85"/>
<path d="M438.3 60.89 L438.29 61.27 L438.27 61.64 L438.24 62.01 L438.22 62.38 L438.21 62.75 L438.21 63.12 L438.24 63.51 L438.3 63.89 L438.38 64.3 L438.48 64.73 L438.59 65.17 L438.72 65.61 L438.88 66.04 L439.06 66.45 L439.26 66.84 L439.5 67.19 L439.74 67.5 L439.97 67.75 L440.21 67.97 L440.48 68.17 L440.8 68.38 L441.2 68.61 L441.69 68.9 L442.3 69.24 L443.06 69.61 L443.96 70.17 L444.98 71.01 L446.06 71.6 L447.17 72.03 L448.25 72.1 L449.28 72.3 L450.2 72.67 L451.03 73.25 L451.81 74.02 L452.55 74.26 L453.26 74.61 L453.95 74.74 L454.63 75.17 L455.31 75.6 L456 76.03 L456.71 76.42 L457.42 76.21 L458.13 76.37 L458.84 76.8 L459.52 77.82 L460.19 78.36 L460.81 78.4 L461.4 78.18 L461.94 78.63 L462.44 79.26 L462.9 79.7 L463.34 80.23 L463.76 80.68 L464.17 81.56 L464.58 81.72 L465 82.21 L465.42 82.36 L465.83 83.16 L466.23 83.5 L466.63 83.94 L467.02 84.34 L467.42 84.87 L467.81 85.37 L468.2 85.95 L468.6 86.41 L469.02 87.07 L469.44 87.71 L469.86 88.4 L470.26 89.14 L470.64 89.9 L470.99 90.68 L471.3 91.47 L471.57 92.15 L471.81 92.66 L472.02 93.12 L472.21 93.63 L472.37 94.32 L472.53 95.29 L472.67 96.66 L472.8 98.52" stroke="#1515ff" stroke-width="0.55" fill="none" stroke-opacity="0.9" stroke-linejoin="round"/>
<path d="M439.33 61.56 L439.32 61.93 L439.3 62.3 L439.28 62.67 L439.25 63.04 L439.24 63.41 L439.24 63.79 L439.27 64.17 L439.33 64.56 L439.41 64.97 L439.51 65.39 L439.62 65.82 L439.75 66.26 L439.91 66.69 L440.09 67.11 L440.29 67.5 L440.53 67.86 L440.77 68.17 L441.02 68.42 L441.28 68.63 L441.57 68.84 L441.91 69.06 L442.3 69.32 L442.77 69.63 L443.33 70.08 L444 70.68 L444.79 71.36 L445.65 72.02 L446.58 72.77 L447.52 73.51 L448.46 74.22 L449.36 74.68 L450.2 75.06 L450.98 75.9 L451.73 76.26 L452.47 76.51 L453.19 76.26 L453.9 76.54 L454.6 76.92 L455.3 77.08 L456 77.04 L456.71 77.44 L457.42 77.76 L458.13 78.64 L458.84 79.04 L459.52 80.03 L460.19 80.74 L460.81 81.2 L461.4 81.26 L461.94 81.05 L462.44 81.15 L462.9 81.59 L463.34 81.72 L463.76 82.21 L464.17 82.55 L464.58 83.43 L465 83.76 L465.42 84.21 L465.83 84.47 L466.23 84.93 L466.63 85.23 L467.02 85.87 L467.42 86.63 L467.81 87.35 L468.2 87.97 L468.6 88.5 L469.02 89.27 L469.44 90.01 L469.86 90.81 L470.26 91.62 L470.64 92.43 L470.99 93.23 L471.3 94.01 L471.57 94.64 L471.81 95.07 L472.02 95.43 L472.21 95.82 L472.37 96.36 L472.53 97.18 L472.67 98.38" stroke="#1515ff" stroke-width="0.55" fill="none" stroke-opacity="0.9" stroke-linejoin="round"/>
<path d="M440.22 60.52 L440.21 60.9 L440.19 61.27 L440.17 61.63 L440.15 62 L440.13 62.38 L440.14 62.75 L440.16 63.13 L440.22 63.52 L440.3 63.93 L440.4 64.36 L440.51 64.79 L440.65 65.23 L440.8 65.67 L440.98 66.08 L441.19 66.47 L441.42 66.82 L441.67 67.12 L441.93 67.37 L442.21 67.58 L442.52 67.78 L442.87 67.98 L443.26 68.22 L443.71 68.53 L444.22 68.92 L444.82 69.35 L445.5 69.94 L446.24 70.54 L447.02 71.29 L447.83 71.97 L448.64 72.47 L449.44 72.73 L450.2 73.08 L450.94 73.43 L451.67 74.14 L452.41 74.39 L453.14 75.03 L453.86 75.48 L454.58 75.71 L455.3 75.92 L456 76.31 L456.71 76.62 L457.42 76.7 L458.13 76.72 L458.84 76.97 L459.52 77.36 L460.19 77.88 L460.81 78.66 L461.4 79.15 L461.94 79.53 L462.44 79.79 L462.9 80.26 L463.34 80.43 L463.76 80.81 L464.17 81.08 L464.58 81.58 L465 81.82 L465.42 82.12 L465.83 82.51 L466.23 82.81 L466.63 83.34 L467.02 83.79 L467.42 84.36 L467.81 84.83 L468.2 85.43 L468.6 86.02 L469.02 86.69 L469.44 87.39 L469.86 88.19 L470.26 89.02 L470.64 89.84 L470.99 90.67 L471.3 91.5 L471.57 92.2 L471.81 92.72 L472.02 93.17 L472.21 93.68 L472.37 94.36 L472.53 95.31 L472.67 96.66 L472.8 98.53" stroke="#1515ff" stroke-width="0.55" fill="none" stroke-opacity="0.9" stroke-linejoin="round"/>
<path d="M441.08 60.92 L441.07 61.29 L441.05 61.66 L441.03 62.03 L441.01 62.4 L441 62.77 L441 63.15 L441.03 63.53 L441.08 63.92 L441.16 64.32 L441.26 64.75 L441.37 65.19 L441.51 65.63 L441.66 66.06 L441.84 66.48 L442.05 66.87 L442.28 67.22 L442.54 67.51 L442.82 67.76 L443.11 67.97 L443.44 68.16 L443.79 68.36 L444.18 68.59 L444.61 68.85 L445.08 69.1 L445.61 69.58 L446.18 70 L446.8 70.64 L447.45 71.05 L448.13 71.64 L448.82 72.03 L449.51 72.23 L450.2 73.05 L450.9 73.64 L451.61 74.3 L452.34 74.57 L453.08 74.68 L453.82 74.9 L454.56 74.68 L455.29 75.16 L456 75.43 L456.71 75.84 L457.42 75.94 L458.13 76.31 L458.84 76.92 L459.52 77 L460.19 77.37 L460.81 77.49 L461.4 78.25 L461.94 78.27 L462.44 78.87 L462.9 79.12 L463.34 79.82 L463.76 79.93 L464.17 80.15 L464.58 80.54 L465 80.77 L465.42 81.37 L465.83 81.87 L466.23 82.6 L466.63 83.2 L467.02 83.71 L467.42 84.41 L467.81 84.97 L468.2 85.46 L468.6 85.94 L469.02 86.59 L469.44 87.34 L469.86 88.08 L470.26 88.84 L470.64 89.61 L470.99 90.39 L471.3 91.18 L471.57 91.85 L471.81 92.35 L472.02 92.78 L472.21 93.28 L472.37 93.94 L472.53 94.89 L472.67 96.25 L472.8 98.13" stroke="#1515ff" stroke-width="0.55" fill="none" stroke-opacity="0.9" stroke-linejoin="round"/>
<path d="M442.32 62.14 L442.32 62.51 L442.3 62.88 L442.27 63.25 L442.25 63.62 L442.24 63.99 L442.24 64.37 L442.27 64.75 L442.32 65.14 L442.4 65.55 L442.5 65.97 L442.62 66.41 L442.75 66.84 L442.9 67.27 L443.08 67.69 L443.29 68.08 L443.52 68.44 L443.79 68.75 L444.09 69.02 L444.41 69.25 L444.76 69.48 L445.12 69.71 L445.51 69.97 L445.91 70.27 L446.32 70.56 L446.74 71.02 L447.17 71.39 L447.61 72.07 L448.07 72.51 L448.56 73.3 L449.07 73.77 L449.62 74.15 L450.2 74.6 L450.84 75.03 L451.52 75.61 L452.25 75.74 L453 76.23 L453.77 76.68 L454.53 77.02 L455.28 76.84 L456 76.95 L456.71 77.3 L457.42 78.35 L458.13 78.89 L458.84 79.24 L459.52 79.52 L460.19 79.83 L460.81 80.26 L461.4 80.48 L461.94 80.64 L462.44 81.3 L462.9 81.83 L463.34 82.55 L463.76 82.61 L464.17 83.05 L464.58 83.83 L465 84.36 L465.42 84.57 L465.83 84.82 L466.23 85.08 L466.63 85.35 L467.02 85.69 L467.42 86.24 L467.81 86.9 L468.2 87.44 L468.6 88.13 L469.02 88.81 L469.44 89.54 L469.86 90.3 L470.26 91.09 L470.64 91.88 L470.99 92.67 L471.3 93.44 L471.57 94.07 L471.81 94.51 L472.02 94.88 L472.21 95.29 L472.37 95.86 L472.53 96.71 L472.67 97.95" stroke="#1515ff" stroke-width="0.55" fill="none" stroke-opacity="0.9" stroke-linejoin="round"/>
<path d="M444.39 56.72 L444.38 57.09 L444.36 57.46 L444.33 57.83 L444.31 58.2 L444.3 58.57 L444.3 58.95 L444.33 59.33 L444.39 59.72 L444.47 60.13 L444.57 60.57 L444.68 61.03 L444.81 61.48 L444.97 61.92 L445.15 62.33 L445.35 62.7 L445.59 63.02 L445.83 63.26 L446.06 63.45 L446.31 63.59 L446.59 63.7 L446.91 63.8 L447.31 63.92 L447.8 64.07 L448.39 64.31 L449.12 64.5 L450 64.78 L450.99 64.88 L452.03 65.02 L453.1 65.3 L454.14 65.57 L455.12 66.41 L456 66.47 L456.79 67.05 L457.55 66.96 L458.27 67.26 L458.95 67.32 L459.6 67.39 L460.23 67.47 L460.83 67.95 L461.4 68.51 L461.94 69.11 L462.44 69.32 L462.9 69.43 L463.34 69.24 L463.76 69.71 L464.17 70.35 L464.58 71.01 L465 71.45 L465.42 71.91 L465.83 72.36 L466.23 72.77 L466.63 73.04 L467.02 73.28 L467.42 73.63 L467.81 74.13 L468.2 74.88 L468.6 75.49 L469.02 76.14 L469.44 76.79 L469.86 77.55 L470.26 78.33 L470.64 79.17 L470.99 80.09 L471.3 81.09 L471.57 82.05 L471.81 82.88 L472.02 83.72 L472.21 84.66 L472.37 85.81 L472.53 87.3 L472.67 89.24 L472.8 91.73 L472.92 94.88 L473.01 98.64" stroke="#1515ff" stroke-width="0.55" fill="none" stroke-opacity="0.9" stroke-linejoin="round"/>
<path d="M445.56 60.69 L445.55 61.07 L445.53 61.44 L445.51 61.81 L445.48 62.18 L445.47 62.55 L445.47 62.92 L445.5 63.3 L445.56 63.69 L445.64 64.1 L445.74 64.53 L445.85 64.97 L445.98 65.41 L446.14 65.85 L446.32 66.26 L446.52 66.65 L446.76 66.99 L447.01 67.27 L447.26 67.48 L447.53 67.65 L447.83 67.8 L448.17 67.97 L448.56 68.19 L449.02 68.47 L449.56 68.79 L450.2 69.33 L450.94 69.98 L451.75 70.74 L452.62 71.65 L453.5 72.26 L454.38 73.54 L455.22 74.16 L456 74.59 L456.74 74.48 L457.47 74.75 L458.18 75.39 L458.88 75.95 L459.55 76.65 L460.2 76.97 L460.82 77.32 L461.4 77.52 L461.94 77.79 L462.44 78.12 L462.9 78.5 L463.34 78.97 L463.76 79.1 L464.17 78.92 L464.58 79.01 L465 79.59 L465.42 79.97 L465.83 80.54 L466.23 81.12 L466.63 81.92 L467.02 82.43 L467.42 83.15 L467.81 83.91 L468.2 84.57 L468.6 85.17 L469.02 85.81 L469.44 86.47 L469.86 87.18 L470.26 87.92 L470.64 88.69 L470.99 89.47 L471.3 90.26 L471.57 90.93 L471.81 91.42 L472.02 91.83 L472.21 92.31 L472.37 92.97 L472.53 93.92 L472.67 95.3 L472.8 97.22" stroke="#1515ff" stroke-width="0.55" fill="none" stroke-opacity="0.9" stroke-linejoin="round"/>
<path d="M447.48 61.61 L447.47 61.98 L447.45 62.35 L447.43 62.72 L447.41 63.09 L447.39 63.46 L447.4 63.84 L447.42 64.22 L447.48 64.61 L447.56 65.02 L447.66 65.45 L447.77 65.88 L447.91 66.32 L448.06 66.76 L448.24 67.17 L448.45 67.56 L448.68 67.91 L448.94 68.19 L449.23 68.41 L449.54 68.58 L449.87 68.74 L450.23 68.92 L450.62 69.15 L451.04 69.44 L451.48 69.92 L451.96 70.46 L452.47 71.13 L453.01 71.88 L453.58 72.7 L454.17 73.54 L454.77 74.33 L455.38 75.1 L456 75.78 L456.65 76.06 L457.33 76.54 L458.04 76.47 L458.76 76.91 L459.47 76.96 L460.16 77.28 L460.81 77.2 L461.4 77.34 L461.94 77.52 L462.44 78.21 L462.9 79.02 L463.34 79.94 L463.76 80.36 L464.17 80.77 L464.58 80.81 L465 81.07 L465.42 81.46 L465.83 82.12 L466.23 82.72 L466.63 83.11 L467.02 83.75 L467.42 84.33 L467.81 84.88 L468.2 85.55 L468.6 86.16 L469.02 86.76 L469.44 87.27 L469.86 87.86 L470.26 88.5 L470.64 89.17 L470.99 89.89 L471.3 90.67 L471.57 91.38 L471.81 91.97 L472.02 92.54 L472.21 93.18 L472.37 94 L472.53 95.09 L472.67 96.56 L472.8 98.5" stroke="#1515ff" stroke-width="0.55" fill="none" stroke-opacity="0.9" stroke-linejoin="round"/>
<path d="M454.64 58.32 L454.63 58.69 L454.61 59.06 L454.58 59.43 L454.56 59.8 L454.55 60.17 L454.55 60.55 L454.58 60.93 L454.64 61.32 L454.72 61.73 L454.82 62.16 L454.93 62.61 L455.06 63.06 L455.22 63.49 L455.4 63.91 L455.6 64.29 L455.84 64.62 L456.11 64.86 L456.43 65 L456.77 65.09 L457.14 65.16 L457.52 65.27 L457.9 65.45 L458.28 65.76 L458.64 66.28 L458.98 66.92 L459.31 67.86 L459.64 68.94 L459.97 70.15 L460.3 71.08 L460.65 72.1 L461.01 73.02 L461.4 73.94 L461.81 74.65 L462.25 74.87 L462.71 75.71 L463.17 75.69 L463.64 76.64 L464.11 76.55 L464.56 76.73 L465 76.85 L465.42 77.3 L465.83 77.92 L466.23 78.36 L466.63 78.54 L467.02 78.9 L467.42 79.29 L467.81 79.82 L468.2 80.3 L468.6 80.89 L469.02 81.7 L469.44 82.54 L469.86 83.39 L470.26 84.27 L470.64 85.2 L470.99 86.14 L471.3 87.1 L471.57 87.95 L471.81 88.63 L472.02 89.26 L472.21 89.96 L472.37 90.84 L472.53 92.03 L472.67 93.63 L472.8 95.75 L472.92 98.5" stroke="#1515ff" stroke-width="0.55" fill="none" stroke-opacity="0.9" stroke-linejoin="round"/>
<path d="M438.25 58.47 L438.24 58.84 L438.22 59.21 L438.19 59.58 L438.17 59.95 L438.16 60.32 L438.16 60.7 L438.19 61.08 L438.25 61.47 L438.33 61.88 L438.42 62.31 L438.54 62.76 L438.67 63.21 L438.83 63.64 L439.01 64.06 L439.21 64.44 L439.45 64.77 L439.68 65.04 L439.91 65.25 L440.15 65.42 L440.42 65.57 L440.75 65.73 L441.15 65.89 L441.64 66.11 L442.25 66.36 L443.01 66.52 L443.92 66.75 L444.95 67.22 L446.04 68.38 L447.15 68.89 L448.24 68.97 L449.27 68.82 L450.2 69.48 L451.03 69.79 L451.81 69.93 L452.55 69.66 L453.26 69.86 L453.95 70.14 L454.63 70.91 L455.31 71.08 L456 71.04 L456.71 71.02 L457.42 71.51 L458.13 71.9 L458.84 71.92 L459.52 72.04 L460.19 72.43 L460.81 72.74 L461.4 72.73 L461.94 72.99 L462.44 73.57 L462.9 74.42 L463.34 74.74 L463.76 74.95 L464.17 75.1 L464.58 75.34 L465 75.74 L465.42 76.15 L465.83 76.64 L466.23 77.29 L466.63 77.59 L467.02 78.04 L467.42 78.35 L467.81 79.09 L468.2 79.71 L468.6 80.4 L469.02 81.12 L469.44 81.94 L469.86 82.81 L470.26 83.73 L470.64 84.68 L470.99 85.64 L471.3 86.62 L471.57 87.47 L471.81 88.15 L472.02 88.77 L472.21 89.46 L472.37 90.34 L472.53 91.52 L472.67 93.12 L472.8 95.27 L472.92 98.06" stroke="#1515ff" stroke-width="0.55" fill="none" stroke-opacity="0.9" stroke-linejoin="round"/>
<path d="M439.41 60.72 L439.4 61.09 L439.38 61.46 L439.35 61.83 L439.33 62.2 L439.32 62.58 L439.32 62.95 L439.35 63.33 L439.41 63.72 L439.49 64.13 L439.59 64.56 L439.7 65 L439.83 65.44 L439.99 65.88 L440.17 66.29 L440.37 66.68 L440.61 67.02 L440.85 67.32 L441.1 67.57 L441.36 67.79 L441.66 67.99 L441.99 68.19 L442.39 68.39 L442.85 68.6 L443.41 68.87 L444.07 69.18 L444.85 69.57 L445.71 69.84 L446.62 69.98 L447.55 70.18 L448.48 70.39 L449.37 70.94 L450.2 71.2 L450.98 71.83 L451.73 72.04 L452.47 72.73 L453.19 73.02 L453.9 73.2 L454.6 73.52 L455.3 73.74 L456 74.04 L456.71 73.77 L457.42 74.44 L458.13 74.97 L458.84 75.71 L459.52 75.9 L460.19 76.18 L460.81 76.28 L461.4 76.44 L461.94 76.86 L462.44 77.32 L462.9 78.07 L463.34 78.09 L463.76 78.25 L464.17 78.04 L464.58 78.8 L465 79.07 L465.42 79.81 L465.83 80.29 L466.23 80.93 L466.63 81.45 L467.02 81.65 L467.42 82.25 L467.81 82.72 L468.2 83.55 L468.6 84.24 L469.02 84.95 L469.44 85.66 L469.86 86.36 L470.26 87.09 L470.64 87.85 L470.99 88.64 L471.3 89.47 L471.57 90.21 L471.81 90.8 L472.02 91.34 L472.21 91.95 L472.37 92.74 L472.53 93.82 L472.67 95.3 L472.8 97.29" stroke="#1515ff" stroke-width="0.55" fill="none" stroke-opacity="0.9" stroke-linejoin="round"/>
<path d="M440.09 59.62 L440.08 59.99 L440.06 60.36 L440.03 60.73 L440.01 61.1 L440 61.47 L440 61.85 L440.03 62.23 L440.09 62.62 L440.17 63.03 L440.27 63.46 L440.38 63.9 L440.51 64.35 L440.67 64.78 L440.85 65.19 L441.05 65.58 L441.29 65.92 L441.54 66.2 L441.8 66.43 L442.07 66.63 L442.38 66.81 L442.72 66.99 L443.12 67.18 L443.57 67.46 L444.09 67.73 L444.69 68.05 L445.39 68.36 L446.15 68.86 L446.96 69.06 L447.79 69.39 L448.62 69.74 L449.43 70.64 L450.2 71.12 L450.94 71.82 L451.68 72.35 L452.42 72.43 L453.14 72.31 L453.87 71.89 L454.59 72.43 L455.3 72.63 L456 73.1 L456.71 73.59 L457.42 74.13 L458.13 74.44 L458.84 74.48 L459.52 74.55 L460.19 74.78 L460.81 75.16 L461.4 75.45 L461.94 75.86 L462.44 75.85 L462.9 76.39 L463.34 77.04 L463.76 77.74 L464.17 77.73 L464.58 78.07 L465 78.41 L465.42 78.59 L465.83 78.79 L466.23 79.34 L466.63 80.15 L467.02 80.71 L467.42 81.15 L467.81 81.62 L468.2 82 L468.6 82.59 L469.02 83.35 L469.44 84.21 L469.86 85.02 L470.26 85.87 L470.64 86.74 L470.99 87.64 L471.3 88.55 L471.57 89.35 L471.81 89.98 L472.02 90.57 L472.21 91.22 L472.37 92.04 L472.53 93.16 L472.67 94.69 L472.8 96.73" stroke="#1515ff" stroke-width="0.55" fill="none" stroke-opacity="0.9" stroke-linejoin="round"/>
<path d="M441.25 57.92 L441.24 58.29 L441.22 58.66 L441.2 59.03 L441.18 59.4 L441.16 59.77 L441.17 60.15 L441.2 60.53 L441.25 60.92 L441.33 61.33 L441.43 61.76 L441.54 62.21 L441.68 62.66 L441.83 63.1 L442.01 63.51 L442.22 63.89 L442.45 64.22 L442.71 64.48 L442.99 64.69 L443.29 64.86 L443.62 65 L443.98 65.14 L444.36 65.3 L444.79 65.52 L445.25 65.74 L445.76 66.07 L446.32 66.51 L446.91 66.73 L447.54 67.04 L448.19 66.89 L448.85 67.45 L449.53 67.81 L450.2 69.17 L450.89 69.58 L451.6 70.23 L452.33 69.96 L453.07 70.02 L453.82 69.96 L454.56 70.23 L455.29 70.55 L456 70.7 L456.71 70.65 L457.42 70.48 L458.13 70.43 L458.84 70.55 L459.52 71.12 L460.19 71.29 L460.81 71.38 L461.4 71.52 L461.94 72 L462.44 72.57 L462.9 73.01 L463.34 73.5 L463.76 73.53 L464.17 73.77 L464.58 74.29 L465 74.74 L465.42 75.43 L465.83 75.75 L466.23 76.32 L466.63 76.84 L467.02 77.33 L467.42 77.84 L467.81 78.31 L468.2 78.97 L468.6 79.79 L469.02 80.36 L469.44 81.03 L469.86 81.72 L470.26 82.48 L470.64 83.29 L470.99 84.15 L471.3 85.08 L471.57 85.95 L471.81 86.69 L472.02 87.41 L472.21 88.22 L472.37 89.23 L472.53 90.55 L472.67 92.28 L472.8 94.54 L472.92 97.42" stroke="#1515ff" stroke-width="0.55" fill="none" stroke-opacity="0.9" stroke-linejoin="round"/>
<path d="M442.49 58.53 L442.48 58.9 L442.46 59.27 L442.44 59.64 L442.42 60.01 L442.4 60.38 L442.41 60.76 L442.43 61.14 L442.49 61.53 L442.57 61.94 L442.67 62.38 L442.78 62.82 L442.92 63.27 L443.07 63.71 L443.25 64.13 L443.46 64.5 L443.69 64.83 L443.96 65.1 L444.26 65.32 L444.58 65.5 L444.94 65.65 L445.31 65.8 L445.69 65.94 L446.09 66.09 L446.49 66.24 L446.9 66.44 L447.31 66.62 L447.72 66.88 L448.16 67 L448.62 67.36 L449.1 67.57 L449.63 67.82 L450.2 68.11 L450.83 68.62 L451.51 69.25 L452.24 68.91 L452.99 68.87 L453.76 68.75 L454.53 69.11 L455.28 68.87 L456 68.99 L456.71 69.48 L457.42 69.91 L458.13 70.06 L458.84 69.9 L459.52 69.97 L460.19 70.45 L460.81 71.25 L461.4 71.44 L461.94 71.65 L462.44 71.54 L462.9 71.96 L463.34 72.41 L463.76 72.99 L464.17 73.28 L464.58 73.46 L465 74.05 L465.42 74.81 L465.83 75.51 L466.23 75.79 L466.63 76.24 L467.02 76.8 L467.42 77.39 L467.81 77.96 L468.2 78.6 L468.6 79.36 L469.02 80.06 L469.44 80.8 L469.86 81.53 L470.26 82.32 L470.64 83.15 L470.99 84.03 L471.3 84.98 L471.57 85.85 L471.81 86.59 L472.02 87.3 L472.21 88.1 L472.37 89.1 L472.53 90.4 L472.67 92.13 L472.8 94.39 L472.92 97.28" stroke="#1515ff" stroke-width="0.55" fill="none" stroke-opacity="0.9" stroke-linejoin="round"/>
<path d="M444.25 57.39 L444.25 57.76 L444.23 58.13 L444.2 58.5 L444.18 58.87 L444.17 59.24 L444.17 59.62 L444.2 60 L444.25 60.39 L444.34 60.8 L444.43 61.24 L444.55 61.69 L444.68 62.14 L444.83 62.58 L445.01 62.99 L445.22 63.37 L445.45 63.69 L445.69 63.94 L445.93 64.11 L446.17 64.25 L446.44 64.35 L446.77 64.47 L447.17 64.61 L447.66 64.81 L448.25 65.04 L449 65.44 L449.9 65.9 L450.9 66.34 L451.96 66.76 L453.05 67.39 L454.11 68.27 L455.11 68.96 L456 69.34 L456.8 69.39 L457.56 69.41 L458.28 69.66 L458.96 69.71 L459.61 69.98 L460.23 69.64 L460.83 70.02 L461.4 70.15 L461.94 70.55 L462.44 71.02 L462.9 71.29 L463.34 71.74 L463.76 71.88 L464.17 72.22 L464.58 72.91 L465 73.25 L465.42 73.8 L465.83 73.85 L466.23 74.32 L466.63 74.76 L467.02 75.38 L467.42 75.93 L467.81 76.55 L468.2 77.29 L468.6 77.94 L469.02 78.58 L469.44 79.22 L469.86 79.97 L470.26 80.74 L470.64 81.58 L470.99 82.49 L471.3 83.47 L471.57 84.4 L471.81 85.21 L472.02 86.02 L472.21 86.91 L472.37 88.02 L472.53 89.43 L472.67 91.27 L472.8 93.63 L472.92 96.61" stroke="#1515ff" stroke-width="0.55" fill="none" stroke-opacity="0.9" stroke-linejoin="round"/>
<path d="M445.49 61.94 L445.48 62.31 L445.46 62.68 L445.43 63.05 L445.41 63.42 L445.4 63.79 L445.4 64.16 L445.43 64.55 L445.49 64.94 L445.57 65.34 L445.67 65.77 L445.78 66.21 L445.91 66.65 L446.07 67.08 L446.25 67.5 L446.45 67.88 L446.69 68.24 L446.94 68.52 L447.19 68.74 L447.46 68.93 L447.76 69.1 L448.1 69.28 L448.49 69.52 L448.95 69.82 L449.49 70.25 L450.13 70.83 L450.88 71.54 L451.71 72.33 L452.58 72.95 L453.48 73.7 L454.36 74.53 L455.21 75.07 L456 75.87 L456.74 76.57 L457.47 77.39 L458.19 77.46 L458.88 77.2 L459.56 77.23 L460.2 77.68 L460.82 78.5 L461.4 78.91 L461.94 79.19 L462.44 79.68 L462.9 79.94 L463.34 80.56 L463.76 80.79 L464.17 81.03 L464.58 81.26 L465 81.43 L465.42 81.91 L465.83 82.04 L466.23 82.37 L466.63 82.99 L467.02 83.62 L467.42 84.27 L467.81 84.68 L468.2 85.27 L468.6 85.88 L469.02 86.55 L469.44 87.26 L469.86 88.05 L470.26 88.83 L470.64 89.62 L470.99 90.43 L471.3 91.25 L471.57 91.97 L471.81 92.52 L472.02 93.02 L472.21 93.58 L472.37 94.31 L472.53 95.32 L472.67 96.71 L472.8 98.6" stroke="#1515ff" stroke-width="0.55" fill="none" stroke-opacity="0.9" stroke-linejoin="round"/>
<path d="M447.61 56.98 L447.61 57.35 L447.59 57.72 L447.56 58.09 L447.54 58.46 L447.53 58.83 L447.53 59.21 L447.56 59.59 L447.61 59.98 L447.7 60.39 L447.79 60.82 L447.91 61.27 L448.04 61.73 L448.19 62.16 L448.37 62.58 L448.58 62.95 L448.81 63.28 L449.08 63.52 L449.36 63.69 L449.68 63.81 L450.01 63.91 L450.38 64.02 L450.76 64.17 L451.18 64.39 L451.61 64.63 L452.08 65 L452.57 65.53 L453.1 66.13 L453.64 66.83 L454.21 67.29 L454.79 67.96 L455.39 68.39 L456 68.73 L456.64 69.11 L457.32 69.15 L458.03 69.26 L458.75 69.29 L459.46 69.68 L460.15 70.54 L460.8 70.77 L461.4 71.34 L461.94 71.7 L462.44 72.26 L462.9 72.49 L463.34 72.53 L463.76 72.48 L464.17 72.64 L464.58 73.07 L465 73.55 L465.42 73.78 L465.83 73.81 L466.23 74.29 L466.63 74.81 L467.02 75.32 L467.42 75.8 L467.81 76.42 L468.2 77.14 L468.6 77.88 L469.02 78.65 L469.44 79.44 L469.86 80.32 L470.26 81.25 L470.64 82.21 L470.99 83.2 L471.3 84.21 L471.57 85.1 L471.81 85.82 L472.02 86.49 L472.21 87.23 L472.37 88.17 L472.53 89.43 L472.67 91.14 L472.8 93.43 L472.92 96.38" stroke="#1515ff" stroke-width="0.55" fill="none" stroke-opacity="0.9" stroke-linejoin="round"/>
<path d="M454.61 61.4 L454.61 61.77 L454.59 62.14 L454.56 62.51 L454.54 62.88 L454.53 63.25 L454.53 63.62 L454.56 64.01 L454.61 64.4 L454.7 64.8 L454.79 65.23 L454.91 65.67 L455.04 66.11 L455.19 66.54 L455.37 66.96 L455.58 67.35 L455.81 67.7 L456.09 67.96 L456.4 68.14 L456.75 68.26 L457.11 68.38 L457.49 68.54 L457.88 68.76 L458.25 69.08 L458.61 69.62 L458.96 70.3 L459.29 71.3 L459.62 72.37 L459.96 73.58 L460.3 74.93 L460.65 76.11 L461.01 76.98 L461.4 77.71 L461.81 78.06 L462.25 78.74 L462.71 78.76 L463.17 79.15 L463.64 79.67 L464.11 80.12 L464.56 80.52 L465 80.65 L465.42 81.22 L465.83 82.05 L466.23 82.52 L466.63 82.99 L467.02 83.5 L467.42 84.1 L467.81 84.81 L468.2 85.5 L468.6 86.23 L469.02 86.88 L469.44 87.53 L469.86 88.24 L470.26 88.96 L470.64 89.69 L470.99 90.43 L471.3 91.18 L471.57 91.8 L471.81 92.23 L472.02 92.59 L472.21 93 L472.37 93.59 L472.53 94.49 L472.67 95.8 L472.8 97.66" stroke="#1515ff" stroke-width="0.55" fill="none" stroke-opacity="0.9" stroke-linejoin="round"/>
<path d="M438.12 59.34 L438.11 59.71 L438.09 60.08 L438.06 60.45 L438.04 60.82 L438.03 61.19 L438.03 61.57 L438.06 61.95 L438.12 62.34 L438.2 62.75 L438.29 63.18 L438.41 63.63 L438.54 64.07 L438.7 64.5 L438.88 64.92 L439.08 65.3 L439.32 65.64 L439.55 65.92 L439.78 66.14 L440.02 66.33 L440.29 66.49 L440.61 66.66 L441.01 66.85 L441.5 67.09 L442.12 67.38 L442.89 67.73 L443.82 68.05 L444.86 68.76 L445.97 69.13 L447.1 69.5 L448.22 69.66 L449.26 70.27 L450.2 70.8 L451.04 71.22 L451.82 71.21 L452.56 71.17 L453.27 71.42 L453.95 71.74 L454.63 71.94 L455.31 72.13 L456 72.09 L456.71 71.85 L457.42 72.28 L458.13 73.17 L458.84 73.79 L459.52 73.92 L460.19 74.07 L460.81 74.91 L461.4 75.51 L461.94 76.03 L462.44 76.14 L462.9 76.39 L463.34 76.51 L463.76 76.75 L464.17 77.23 L464.58 77.62 L465 78.24 L465.42 78.41 L465.83 78.91 L466.23 79.14 L466.63 79.75 L467.02 79.94 L467.42 80.56 L467.81 81.22 L468.2 82.02 L468.6 82.74 L469.02 83.34 L469.44 84.11 L469.86 84.85 L470.26 85.61 L470.64 86.4 L470.99 87.22 L471.3 88.07 L471.57 88.81 L471.81 89.37 L472.02 89.89 L472.21 90.47 L472.37 91.24 L472.53 92.32 L472.67 93.83 L472.8 95.89 L472.92 98.59" stroke="#1515ff" stroke-width="0.55" fill="none" stroke-opacity="0.9" stroke-linejoin="round"/>
<path d="M439.27 61.37 L439.26 61.74 L439.24 62.11 L439.22 62.48 L439.2 62.85 L439.18 63.22 L439.19 63.6 L439.21 63.98 L439.27 64.37 L439.35 64.78 L439.45 65.2 L439.56 65.64 L439.7 66.08 L439.85 66.52 L440.03 66.93 L440.24 67.32 L440.47 67.67 L440.72 67.97 L440.96 68.22 L441.22 68.44 L441.51 68.64 L441.85 68.85 L442.24 69.07 L442.71 69.29 L443.27 69.57 L443.95 69.96 L444.74 70.32 L445.62 70.97 L446.55 71.38 L447.5 71.56 L448.45 71.64 L449.36 72.14 L450.2 72.94 L450.98 72.95 L451.74 73.49 L452.48 73.77 L453.2 74.37 L453.9 74.12 L454.6 74.51 L455.3 74.78 L456 75.64 L456.71 75.74 L457.42 75.77 L458.13 75.79 L458.84 75.94 L459.52 76.52 L460.19 76.55 L460.81 76.99 L461.4 77.18 L461.94 77.71 L462.44 77.98 L462.9 78.22 L463.34 78.58 L463.76 78.96 L464.17 79.56 L464.58 79.98 L465 80.19 L465.42 80.71 L465.83 81.51 L466.23 82.41 L466.63 83.06 L467.02 83.56 L467.42 84.11 L467.81 84.62 L468.2 85.31 L468.6 86.07 L469.02 86.81 L469.44 87.47 L469.86 88.16 L470.26 88.89 L470.64 89.64 L470.99 90.4 L471.3 91.17 L471.57 91.82 L471.81 92.28 L472.02 92.67 L472.21 93.12 L472.37 93.74 L472.53 94.66 L472.67 96 L472.8 97.86" stroke="#1515ff" stroke-width="0.55" fill="none" stroke-opacity="0.9" stroke-linejoin="round"/>
<path d="M440.27 56.13 L440.26 56.5 L440.24 56.87 L440.21 57.24 L440.19 57.61 L440.18 57.98 L440.18 58.36 L440.21 58.74 L440.27 59.13 L440.35 59.54 L440.44 59.98 L440.56 60.43 L440.69 60.89 L440.85 61.33 L441.02 61.74 L441.23 62.11 L441.47 62.43 L441.72 62.67 L441.98 62.85 L442.26 62.99 L442.57 63.09 L442.92 63.2 L443.31 63.31 L443.75 63.46 L444.27 63.67 L444.86 63.87 L445.53 64.2 L446.27 64.38 L447.05 64.88 L447.85 65.21 L448.65 65.86 L449.44 65.96 L450.2 66.69 L450.93 66.69 L451.67 66.96 L452.4 66.34 L453.13 66.74 L453.86 66.69 L454.58 67.09 L455.3 66.71 L456 66.96 L456.71 66.79 L457.42 67.23 L458.13 67.19 L458.84 67.17 L459.52 67.18 L460.19 67.13 L460.81 67.29 L461.4 67.57 L461.94 67.73 L462.44 68.4 L462.9 68.56 L463.34 69.16 L463.76 69.5 L464.17 70.14 L464.58 70.66 L465 71.04 L465.42 71.5 L465.83 72.1 L466.23 72.53 L466.63 72.79 L467.02 73.1 L467.42 73.58 L467.81 74.26 L468.2 74.95 L468.6 75.62 L469.02 76.26 L469.44 76.89 L469.86 77.58 L470.26 78.35 L470.64 79.18 L470.99 80.1 L471.3 81.1 L471.57 82.07 L471.81 82.92 L472.02 83.77 L472.21 84.73 L472.37 85.9 L472.53 87.41 L472.67 89.35 L472.8 91.85 L472.92 94.99 L473.01 98.74" stroke="#1515ff" stroke-width="0.55" fill="none" stroke-opacity="0.9" stroke-linejoin="round"/>
<path d="M441.32 62.52 L441.31 62.9 L441.29 63.27 L441.26 63.63 L441.24 64 L441.23 64.38 L441.23 64.75 L441.26 65.13 L441.32 65.52 L441.4 65.93 L441.49 66.36 L441.61 66.79 L441.74 67.23 L441.9 67.66 L442.07 68.08 L442.28 68.47 L442.52 68.82 L442.77 69.13 L443.05 69.4 L443.36 69.64 L443.68 69.87 L444.04 70.1 L444.43 70.33 L444.85 70.58 L445.32 70.89 L445.82 71.22 L446.37 71.62 L446.95 71.94 L447.57 72.37 L448.21 72.97 L448.87 73.57 L449.53 73.81 L450.2 74.16 L450.88 74.46 L451.6 75.03 L452.33 75.39 L453.07 75.46 L453.81 75.6 L454.56 75.55 L455.29 75.85 L456 76.57 L456.71 77.21 L457.42 77.42 L458.13 77.51 L458.84 77.63 L459.52 78.57 L460.19 78.91 L460.81 79.38 L461.4 79.57 L461.94 79.99 L462.44 80.37 L462.9 80.64 L463.34 80.88 L463.76 81.32 L464.17 81.52 L464.58 81.95 L465 82.3 L465.42 82.89 L465.83 83.5 L466.23 83.9 L466.63 84.49 L467.02 84.93 L467.42 85.7 L467.81 86.31 L468.2 86.98 L468.6 87.59 L469.02 88.18 L469.44 88.84 L469.86 89.5 L470.26 90.18 L470.64 90.87 L470.99 91.59 L471.3 92.33 L471.57 92.97 L471.81 93.46 L472.02 93.89 L472.21 94.38 L472.37 95.04 L472.53 95.98 L472.67 97.31" stroke="#1515ff" stroke-width="0.55" fill="none" stroke-opacity="0.9" stroke-linejoin="round"/>
<path d="M442.3 56.19 L442.29 56.56 L442.27 56.93 L442.24 57.3 L442.22 57.67 L442.21 58.04 L442.21 58.42 L442.24 58.8 L442.3 59.19 L442.38 59.6 L442.48 60.04 L442.59 60.49 L442.72 60.95 L442.88 61.39 L443.06 61.8 L443.26 62.17 L443.5 62.49 L443.76 62.74 L444.06 62.93 L444.38 63.08 L444.73 63.2 L445.1 63.32 L445.48 63.43 L445.88 63.56 L446.3 63.77 L446.72 63.96 L447.15 64.12 L447.6 64.38 L448.06 64.66 L448.55 65.23 L449.07 65.34 L449.61 65.73 L450.2 65.68 L450.84 65.94 L451.53 66.31 L452.25 66.58 L453.01 66.82 L453.77 66.76 L454.53 67.17 L455.28 67.34 L456 67.87 L456.71 68 L457.42 68.33 L458.13 68.47 L458.84 68.8 L459.52 69.1 L460.19 69.02 L460.81 69.21 L461.4 69.58 L461.94 69.59 L462.44 69.43 L462.9 69.34 L463.34 69.69 L463.76 69.72 L464.17 70.24 L464.58 70.68 L465 71.32 L465.42 71.8 L465.83 72.15 L466.23 72.61 L466.63 73.01 L467.02 73.58 L467.42 74.16 L467.81 74.8 L468.2 75.46 L468.6 76.14 L469.02 76.69 L469.44 77.32 L469.86 77.97 L470.26 78.71 L470.64 79.51 L470.99 80.42 L471.3 81.44 L471.57 82.47 L471.81 83.42 L472.02 84.39 L472.21 85.48 L472.37 86.78 L472.53 88.38 L472.67 90.39 L472.8 92.89 L472.92 96" stroke="#1515ff" stroke-width="0.55" fill="none" stroke-opacity="0.9" stroke-linejoin="round"/>
<path d="M444.19 62.71 L444.18 63.08 L444.16 63.45 L444.14 63.82 L444.11 64.19 L444.1 64.56 L444.1 64.94 L444.13 65.32 L444.19 65.71 L444.27 66.11 L444.37 66.54 L444.48 66.97 L444.61 67.41 L444.77 67.84 L444.95 68.25 L445.15 68.65 L445.39 69.01 L445.67 69.33 L445.99 69.61 L446.36 69.86 L446.74 70.1 L447.13 70.34 L447.51 70.6 L447.87 70.83 L448.19 71.14 L448.45 71.5 L448.66 71.91 L448.83 72.28 L449.01 72.61 L449.2 72.96 L449.45 73.36 L449.77 73.94 L450.2 74.44 L450.75 74.89 L451.39 75.36 L452.12 76 L452.89 76.52 L453.69 76.77 L454.49 77.25 L455.27 77.9 L456 78.25 L456.71 78.5 L457.42 78.71 L458.13 79.32 L458.84 79.34 L459.52 79.74 L460.19 79.85 L460.81 80.1 L461.4 80.45 L461.94 80.92 L462.44 81.26 L462.9 81.86 L463.34 81.92 L463.76 82.46 L464.17 82.51 L464.58 83.35 L465 84.09 L465.42 84.59 L465.83 85.15 L466.23 85.61 L466.63 86.27 L467.02 86.9 L467.42 87.37 L467.81 87.59 L468.2 87.98 L468.6 88.55 L469.02 89.29 L469.44 89.94 L469.86 90.58 L470.26 91.23 L470.64 91.91 L470.99 92.61 L471.3 93.34 L471.57 93.97 L471.81 94.46 L472.02 94.9 L472.21 95.4 L472.37 96.06 L472.53 96.99 L472.67 98.29" stroke="#1515ff" stroke-width="0.55" fill="none" stroke-opacity="0.9" stroke-linejoin="round"/>
<path d="M455.9 36.5 L456.92 36.57 L457.97 36.63 L459.04 36.67 L460.11 36.73 L461.14 36.79 L462.12 36.89 L463.03 37.02 L463.84 37.21 L464.55 37.44 L465.19 37.69 L465.75 37.96 L466.26 38.27 L466.73 38.62 L467.17 39.03 L467.6 39.49 L468.03 40.01 L468.45 40.61 L468.85 41.28 L469.23 42 L469.58 42.78 L469.91 43.59 L470.23 44.44 L470.53 45.31 L470.81 46.2 L471.08 47.12 L471.33 48.09 L471.56 49.09 L471.78 50.12 L471.97 51.17 L472.15 52.22 L472.31 53.27 L472.46 54.3 L472.58 55.29 L472.68 56.24 L472.75 57.18 L472.81 58.12 L472.86 59.11 L472.91 60.15 L472.95 61.27 L473 62.5 L473.04 63.84 L473.08 65.26 L473.12 66.76 L473.15 68.33 L473.18 69.94 L473.2 71.6 L473.23 73.29 L473.25 75 L473.27 76.8 L473.3 78.74 L473.32 80.75 L473.33 82.78 L473.35 84.78 L473.36 86.68 L473.38 88.44 L473.39 90 L473.39 91.33 L473.4 92.49 L473.4 93.51 L473.4 94.44 L473.4 95.31 L473.4 96.16" stroke="#1515ff" stroke-width="0.55" fill="none" />
<path d="M455.46 36.5 L456.45 36.58 L457.47 36.64 L458.5 36.7 L459.53 36.75 L460.53 36.83 L461.48 36.93 L462.36 37.07 L463.15 37.26 L463.85 37.49 L464.47 37.74 L465.03 38.02 L465.53 38.33 L466 38.69 L466.44 39.09 L466.87 39.55 L467.29 40.08 L467.71 40.67 L468.09 41.33 L468.45 42.04 L468.79 42.81 L469.11 43.61 L469.42 44.45 L469.71 45.32 L470 46.2 L470.28 47.12 L470.55 48.08 L470.81 49.09 L471.05 50.12 L471.28 51.17 L471.49 52.22 L471.68 53.27 L471.85 54.3 L471.99 55.29 L472.11 56.24 L472.2 57.18 L472.28 58.12 L472.35 59.11 L472.41 60.15 L472.48 61.27 L472.55 62.5 L472.62 63.84 L472.69 65.26 L472.76 66.76 L472.82 68.33 L472.88 69.94 L472.93 71.6 L472.99 73.29 L473.04 75 L473.09 76.8 L473.13 78.74 L473.17 80.75 L473.21 82.78 L473.24 84.78 L473.27 86.68 L473.3 88.44 L473.32 90 L473.34 91.33 L473.35 92.49 L473.36 93.51 L473.37 94.44 L473.37 95.31 L473.37 96.16" stroke="#1515ff" stroke-width="0.55" fill="none" />
<path d="M455.18 36.5 L456.14 36.59 L457.14 36.65 L458.15 36.71 L459.16 36.77 L460.14 36.85 L461.07 36.95 L461.93 37.1 L462.71 37.29 L463.4 37.53 L464.01 37.78 L464.57 38.06 L465.07 38.37 L465.53 38.73 L465.97 39.13 L466.4 39.59 L466.82 40.12 L467.22 40.71 L467.6 41.36 L467.95 42.07 L468.28 42.83 L468.59 43.63 L468.89 44.46 L469.19 45.32 L469.48 46.2 L469.76 47.12 L470.05 48.08 L470.32 49.09 L470.58 50.12 L470.83 51.17 L471.06 52.22 L471.27 53.27 L471.45 54.3 L471.61 55.29 L471.74 56.24 L471.85 57.18 L471.94 58.12 L472.02 59.11 L472.09 60.15 L472.17 61.27 L472.26 62.5 L472.35 63.84 L472.44 65.26 L472.52 66.76 L472.61 68.33 L472.69 69.94 L472.76 71.6 L472.83 73.29 L472.9 75 L472.96 76.8 L473.02 78.74 L473.08 80.75 L473.13 82.78 L473.17 84.78 L473.21 86.68 L473.25 88.44 L473.28 90 L473.31 91.33 L473.33 92.49 L473.34 93.51 L473.35 94.44 L473.35 95.31 L473.36 96.16" stroke="#1515ff" stroke-width="0.55" fill="none" />
<path d="M454.76 36.5 L455.7 36.59 L456.66 36.66 L457.64 36.73 L458.61 36.8 L459.56 36.88 L460.46 36.99 L461.3 37.14 L462.06 37.34 L462.73 37.58 L463.33 37.84 L463.88 38.12 L464.38 38.44 L464.84 38.79 L465.28 39.2 L465.7 39.66 L466.12 40.18 L466.51 40.76 L466.88 41.41 L467.21 42.11 L467.53 42.86 L467.83 43.65 L468.12 44.47 L468.41 45.33 L468.7 46.2 L469 47.11 L469.3 48.08 L469.6 49.08 L469.89 50.11 L470.16 51.16 L470.42 52.22 L470.66 53.27 L470.87 54.3 L471.05 55.29 L471.2 56.24 L471.32 57.18 L471.43 58.12 L471.53 59.11 L471.62 60.15 L471.72 61.27 L471.83 62.5 L471.94 63.84 L472.06 65.26 L472.18 66.76 L472.29 68.33 L472.4 69.94 L472.51 71.6 L472.61 73.29 L472.7 75 L472.78 76.8 L472.86 78.74 L472.94 80.75 L473.01 82.78 L473.07 84.78 L473.13 86.68 L473.18 88.44 L473.22 90 L473.26 91.33 L473.29 92.49 L473.3 93.51 L473.32 94.44 L473.33 95.31 L473.34 96.16" stroke="#1515ff" stroke-width="0.55" fill="none" />
<path d="M454.22 36.5 L455.11 36.6 L456.03 36.68 L456.97 36.75 L457.9 36.83 L458.8 36.92 L459.67 37.04 L460.47 37.2 L461.2 37.4 L461.85 37.65 L462.44 37.91 L462.98 38.19 L463.48 38.51 L463.94 38.87 L464.37 39.28 L464.79 39.74 L465.2 40.25 L465.58 40.83 L465.93 41.47 L466.25 42.16 L466.54 42.9 L466.83 43.68 L467.11 44.49 L467.39 45.33 L467.69 46.2 L468.01 47.11 L468.33 48.07 L468.66 49.08 L468.98 50.11 L469.3 51.16 L469.59 52.22 L469.86 53.27 L470.11 54.3 L470.31 55.29 L470.48 56.24 L470.63 57.18 L470.76 58.12 L470.89 59.11 L471.01 60.15 L471.13 61.27 L471.27 62.5 L471.42 63.84 L471.57 65.26 L471.72 66.76 L471.88 68.33 L472.03 69.94 L472.17 71.6 L472.31 73.29 L472.43 75 L472.55 76.8 L472.66 78.74 L472.76 80.75 L472.85 82.78 L472.94 84.78 L473.01 86.68 L473.08 88.44 L473.15 90 L473.2 91.33 L473.23 92.49 L473.26 93.51 L473.28 94.44 L473.3 95.31 L473.31 96.16" stroke="#1515ff" stroke-width="0.55" fill="none" />
<path d="M453.81 36.5 L454.67 36.61 L455.56 36.69 L456.46 36.77 L457.36 36.86 L458.23 36.95 L459.07 37.08 L459.85 37.24 L460.56 37.45 L461.2 37.7 L461.78 37.96 L462.31 38.25 L462.8 38.57 L463.26 38.93 L463.69 39.34 L464.11 39.8 L464.51 40.31 L464.88 40.89 L465.22 41.52 L465.52 42.2 L465.8 42.93 L466.08 43.7 L466.35 44.5 L466.63 45.34 L466.93 46.2 L467.26 47.11 L467.6 48.07 L467.95 49.07 L468.3 50.11 L468.64 51.16 L468.97 52.22 L469.27 53.27 L469.53 54.3 L469.76 55.29 L469.95 56.24 L470.12 57.18 L470.27 58.12 L470.41 59.11 L470.54 60.15 L470.69 61.27 L470.85 62.5 L471.02 63.84 L471.2 65.26 L471.39 66.76 L471.57 68.33 L471.75 69.94 L471.92 71.6 L472.09 73.29 L472.24 75 L472.37 76.8 L472.5 78.74 L472.62 80.75 L472.73 82.78 L472.84 84.78 L472.93 86.68 L473.01 88.44 L473.09 90 L473.15 91.33 L473.19 92.49 L473.22 93.51 L473.25 94.44 L473.27 95.31 L473.29 96.16" stroke="#1515ff" stroke-width="0.55" fill="none" />
<path d="M453.35 36.5 L454.18 36.61 L455.04 36.71 L455.9 36.79 L456.76 36.88 L457.6 36.99 L458.4 37.12 L459.15 37.29 L459.84 37.5 L460.46 37.75 L461.03 38.02 L461.56 38.31 L462.05 38.64 L462.5 39 L462.93 39.41 L463.34 39.86 L463.74 40.38 L464.1 40.95 L464.42 41.57 L464.71 42.25 L464.98 42.96 L465.24 43.72 L465.5 44.52 L465.78 45.34 L466.08 46.2 L466.42 47.1 L466.79 48.06 L467.16 49.07 L467.54 50.1 L467.92 51.16 L468.27 52.21 L468.6 53.27 L468.89 54.3 L469.14 55.29 L469.35 56.24 L469.54 57.18 L469.71 58.12 L469.87 59.11 L470.03 60.15 L470.19 61.27 L470.38 62.5 L470.58 63.84 L470.79 65.26 L471.01 66.76 L471.23 68.33 L471.44 69.94 L471.65 71.6 L471.84 73.29 L472.01 75 L472.18 76.8 L472.33 78.74 L472.47 80.75 L472.6 82.78 L472.72 84.78 L472.83 86.68 L472.93 88.44 L473.02 90 L473.09 91.33 L473.15 92.49 L473.19 93.51 L473.22 94.44 L473.24 95.31 L473.27 96.16" stroke="#1515ff" stroke-width="0.55" fill="none" />
<path d="M452.91 36.5 L453.71 36.62 L454.53 36.72 L455.36 36.81 L456.18 36.91 L456.99 37.02 L457.76 37.16 L458.48 37.33 L459.15 37.55 L459.75 37.81 L460.32 38.08 L460.84 38.38 L461.32 38.7 L461.77 39.07 L462.2 39.47 L462.61 39.93 L463 40.44 L463.35 41.01 L463.66 41.62 L463.93 42.29 L464.18 42.99 L464.43 43.74 L464.68 44.53 L464.96 45.35 L465.27 46.2 L465.62 47.1 L466 48.06 L466.4 49.06 L466.81 50.1 L467.22 51.15 L467.6 52.21 L467.96 53.27 L468.28 54.3 L468.55 55.29 L468.78 56.24 L468.99 57.18 L469.17 58.12 L469.35 59.11 L469.53 60.15 L469.72 61.27 L469.92 62.5 L470.15 63.84 L470.39 65.26 L470.64 66.76 L470.89 68.33 L471.14 69.94 L471.38 71.6 L471.6 73.29 L471.8 75 L471.99 76.8 L472.16 78.74 L472.32 80.75 L472.47 82.78 L472.62 84.78 L472.74 86.68 L472.86 88.44 L472.96 90 L473.04 91.33 L473.1 92.49 L473.15 93.51 L473.19 94.44 L473.21 95.31 L473.24 96.16" stroke="#1515ff" stroke-width="0.55" fill="none" />
<path d="M452.4 36.5 L453.16 36.63 L453.94 36.74 L454.73 36.84 L455.51 36.94 L456.28 37.06 L457.01 37.21 L457.71 37.39 L458.35 37.61 L458.94 37.87 L459.49 38.15 L460 38.45 L460.48 38.78 L460.93 39.14 L461.35 39.55 L461.76 40.01 L462.14 40.51 L462.48 41.07 L462.77 41.68 L463.03 42.34 L463.26 43.03 L463.5 43.77 L463.74 44.54 L464.01 45.35 L464.32 46.2 L464.69 47.1 L465.09 48.05 L465.52 49.06 L465.97 50.09 L466.41 51.15 L466.83 52.21 L467.22 53.27 L467.57 54.3 L467.86 55.29 L468.12 56.24 L468.34 57.18 L468.55 58.12 L468.75 59.11 L468.95 60.15 L469.17 61.27 L469.4 62.5 L469.66 63.84 L469.94 65.26 L470.22 66.76 L470.51 68.33 L470.79 69.94 L471.07 71.6 L471.32 73.29 L471.55 75 L471.77 76.8 L471.97 78.74 L472.15 80.75 L472.33 82.78 L472.49 84.78 L472.64 86.68 L472.77 88.44 L472.89 90 L472.98 91.33 L473.05 92.49 L473.11 93.51 L473.15 94.44 L473.18 95.31 L473.22 96.16" stroke="#1515ff" stroke-width="0.55" fill="none" />
<path d="M525.98 44.2 L525.24 44.55 L524.5 44.91 L523.76 45.27 L523.02 45.63 L522.28 45.99 L521.53 46.32 L520.77 46.64 L520 46.94 L519.23 47.19 L518.46 47.4 L517.69 47.58 L516.91 47.75 L516.11 47.93 L515.28 48.14 L514.41 48.38 L513.5 48.69 L512.54 49.05 L511.54 49.46 L510.51 49.91 L509.45 50.38 L508.36 50.87 L507.26 51.36 L506.13 51.86 L505 52.34 L503.83 52.81 L502.6 53.28 L501.34 53.76 L500.08 54.24 L498.81 54.73 L497.58 55.21 L496.41 55.7 L495.3 56.19 L494.27 56.67 L493.29 57.12 L492.35 57.57 L491.44 58.03 L490.57 58.5 L489.71 59.01 L488.85 59.57 L488 60.18 L487.14 60.88 L486.28 61.64 L485.43 62.45 L484.6 63.29 L483.79 64.15 L483.02 65 L482.28 65.83 L481.6 66.61 L480.97 67.35 L480.37 68.04 L479.81 68.72 L479.29 69.38 L478.8 70.06 L478.34 70.76 L477.91 71.5 L477.5 72.3 L477.12 73.14 L476.77 73.99 L476.45 74.87 L476.16 75.78 L475.89 76.73 L475.64 77.74 L475.41 78.8 L475.2 79.93 L475.01 80.98 L474.85 81.88 L474.72 82.76 L474.61 83.72 L474.5 84.91 L474.41 86.42 L474.31 88.4 L474.2 90.95 L474.09 94.18" stroke="#ff1010" stroke-width="0.55" fill="none" />
<path d="M527.63 45.01 L526.66 45.3 L525.69 45.59 L524.72 45.89 L523.74 46.19 L522.78 46.48 L521.83 46.77 L520.9 47.05 L520 47.31 L519.15 47.55 L518.34 47.76 L517.57 47.95 L516.8 48.14 L516.03 48.34 L515.24 48.56 L514.4 48.81 L513.5 49.11 L512.54 49.46 L511.54 49.84 L510.51 50.25 L509.45 50.69 L508.36 51.15 L507.26 51.62 L506.13 52.09 L505 52.58 L503.83 53.07 L502.6 53.57 L501.34 54.09 L500.08 54.63 L498.81 55.17 L497.58 55.71 L496.41 56.26 L495.3 56.8 L494.27 57.34 L493.29 57.88 L492.35 58.41 L491.44 58.95 L490.57 59.5 L489.71 60.07 L488.85 60.67 L488 61.3 L487.14 61.96 L486.28 62.66 L485.43 63.38 L484.6 64.12 L483.79 64.88 L483.02 65.64 L482.28 66.4 L481.6 67.16 L480.97 67.91 L480.37 68.66 L479.81 69.41 L479.29 70.17 L478.8 70.94 L478.34 71.72 L477.91 72.52 L477.5 73.33 L477.12 74.13 L476.77 74.92 L476.45 75.7 L476.16 76.51 L475.89 77.35 L475.64 78.25 L475.41 79.22 L475.2 80.3 L475.01 81.33 L474.85 82.23 L474.72 83.12 L474.61 84.11 L474.5 85.32 L474.41 86.86 L474.31 88.85 L474.2 91.39 L474.09 94.59" stroke="#ff1010" stroke-width="0.55" fill="none" />
<path d="M526.52 43.48 L525.71 43.79 L524.89 44.1 L524.08 44.41 L523.26 44.73 L522.44 45.03 L521.63 45.33 L520.81 45.62 L520 45.9 L519.2 46.14 L518.42 46.35 L517.65 46.55 L516.87 46.74 L516.08 46.94 L515.27 47.16 L514.41 47.42 L513.5 47.72 L512.54 48.08 L511.54 48.48 L510.51 48.91 L509.45 49.36 L508.36 49.83 L507.26 50.31 L506.13 50.78 L505 51.24 L503.83 51.69 L502.6 52.14 L501.34 52.59 L500.08 53.05 L498.81 53.51 L497.58 53.98 L496.41 54.46 L495.3 54.94 L494.27 55.42 L493.29 55.89 L492.35 56.36 L491.44 56.84 L490.57 57.34 L489.71 57.87 L488.85 58.43 L488 59.05 L487.14 59.73 L486.28 60.46 L485.43 61.24 L484.6 62.04 L483.79 62.86 L483.02 63.67 L482.28 64.48 L481.6 65.25 L480.97 65.99 L480.37 66.71 L479.81 67.41 L479.29 68.11 L478.8 68.82 L478.34 69.56 L477.91 70.33 L477.5 71.14 L477.12 71.99 L476.77 72.85 L476.45 73.74 L476.16 74.65 L475.89 75.6 L475.64 76.6 L475.41 77.66 L475.2 78.79 L475.01 79.83 L474.85 80.7 L474.72 81.55 L474.61 82.48 L474.5 83.64 L474.41 85.16 L474.31 87.15 L474.2 89.75 L474.09 93.07" stroke="#ff1010" stroke-width="0.55" fill="none" />
<path d="M525.61 42.39 L524.92 42.54 L524.23 42.69 L523.55 42.83 L522.86 42.98 L522.17 43.13 L521.47 43.29 L520.74 43.48 L520 43.68 L519.24 43.91 L518.48 44.16 L517.72 44.43 L516.93 44.71 L516.12 45 L515.29 45.29 L514.41 45.59 L513.5 45.88 L512.54 46.16 L511.54 46.44 L510.51 46.72 L509.45 47 L508.36 47.29 L507.26 47.6 L506.13 47.93 L505 48.28 L503.83 48.66 L502.6 49.07 L501.34 49.49 L500.08 49.93 L498.81 50.38 L497.58 50.83 L496.41 51.28 L495.3 51.72 L494.27 52.13 L493.29 52.52 L492.35 52.9 L491.44 53.28 L490.57 53.69 L489.71 54.12 L488.85 54.61 L488 55.16 L487.14 55.78 L486.28 56.46 L485.43 57.19 L484.6 57.96 L483.79 58.74 L483.02 59.53 L482.28 60.31 L481.6 61.06 L480.97 61.79 L480.37 62.5 L479.81 63.2 L479.29 63.9 L478.8 64.62 L478.34 65.37 L477.91 66.15 L477.5 66.98 L477.12 67.83 L476.77 68.7 L476.45 69.59 L476.16 70.51 L475.89 71.47 L475.64 72.5 L475.41 73.59 L475.2 74.76 L475.01 75.85 L474.85 76.76 L474.72 77.64 L474.61 78.63 L474.5 79.87 L474.41 81.49 L474.31 83.64 L474.2 86.47 L474.09 90.08 L473.99 94.39" stroke="#ff1010" stroke-width="0.55" fill="none" />
<path d="M525.27 44.85 L524.62 45.2 L523.98 45.55 L523.35 45.9 L522.71 46.26 L522.07 46.61 L521.4 46.95 L520.72 47.27 L520 47.58 L519.26 47.86 L518.51 48.12 L517.74 48.35 L516.95 48.58 L516.14 48.82 L515.29 49.07 L514.42 49.34 L513.5 49.65 L512.54 49.99 L511.54 50.34 L510.51 50.71 L509.45 51.1 L508.36 51.51 L507.26 51.94 L506.13 52.39 L505 52.86 L503.83 53.36 L502.6 53.89 L501.34 54.44 L500.08 55.01 L498.81 55.59 L497.58 56.17 L496.41 56.75 L495.3 57.32 L494.27 57.87 L493.29 58.42 L492.35 58.97 L491.44 59.52 L490.57 60.07 L489.71 60.65 L488.85 61.24 L488 61.86 L487.14 62.5 L486.28 63.17 L485.43 63.85 L484.6 64.55 L483.79 65.26 L483.02 65.99 L482.28 66.73 L481.6 67.48 L480.97 68.25 L480.37 69.04 L479.81 69.85 L479.29 70.67 L478.8 71.5 L478.34 72.33 L477.91 73.17 L477.5 74 L477.12 74.81 L476.77 75.57 L476.45 76.33 L476.16 77.1 L475.89 77.9 L475.64 78.76 L475.41 79.71 L475.2 80.76 L475.01 81.79 L474.85 82.69 L474.72 83.59 L474.61 84.6 L474.5 85.82 L474.41 87.36 L474.31 89.34 L474.2 91.86" stroke="#ff1010" stroke-width="0.55" fill="none" />
<path d="M528.14 42.21 L527.11 42.46 L526.07 42.71 L525.02 42.97 L523.97 43.22 L522.93 43.47 L521.92 43.71 L520.94 43.93 L520 44.15 L519.12 44.33 L518.31 44.48 L517.53 44.61 L516.77 44.73 L516.01 44.87 L515.23 45.03 L514.4 45.22 L513.5 45.47 L512.54 45.78 L511.54 46.14 L510.51 46.53 L509.45 46.95 L508.36 47.38 L507.26 47.81 L506.13 48.22 L505 48.59 L503.83 48.94 L502.6 49.25 L501.34 49.55 L500.08 49.84 L498.81 50.14 L497.58 50.47 L496.41 50.82 L495.3 51.21 L494.27 51.64 L493.29 52.1 L492.35 52.57 L491.44 53.08 L490.57 53.6 L489.71 54.14 L488.85 54.71 L488 55.29 L487.14 55.9 L486.28 56.53 L485.43 57.18 L484.6 57.85 L483.79 58.54 L483.02 59.25 L482.28 59.97 L481.6 60.71 L480.97 61.45 L480.37 62.21 L479.81 62.99 L479.29 63.78 L478.8 64.59 L478.34 65.42 L477.91 66.27 L477.5 67.15 L477.12 68.03 L476.77 68.91 L476.45 69.8 L476.16 70.72 L475.89 71.68 L475.64 72.7 L475.41 73.79 L475.2 74.98 L475.01 76.09 L474.85 77.05 L474.72 77.97 L474.61 79.01 L474.5 80.29 L474.41 81.95 L474.31 84.13 L474.2 86.95 L474.09 90.53 L473.99 94.81" stroke="#ff1010" stroke-width="0.55" fill="none" />
<path d="M525.65 43.66 L524.95 43.98 L524.26 44.31 L523.57 44.63 L522.88 44.96 L522.18 45.28 L521.47 45.6 L520.75 45.89 L520 46.17 L519.24 46.42 L518.48 46.63 L517.71 46.83 L516.93 47.02 L516.12 47.21 L515.29 47.42 L514.41 47.65 L513.5 47.92 L512.54 48.22 L511.54 48.55 L510.51 48.89 L509.45 49.25 L508.36 49.63 L507.26 50.02 L506.13 50.43 L505 50.84 L503.83 51.26 L502.6 51.7 L501.34 52.15 L500.08 52.62 L498.81 53.09 L497.58 53.58 L496.41 54.08 L495.3 54.59 L494.27 55.1 L493.29 55.63 L492.35 56.16 L491.44 56.7 L490.57 57.26 L489.71 57.84 L488.85 58.44 L488 59.07 L487.14 59.72 L486.28 60.4 L485.43 61.11 L484.6 61.83 L483.79 62.56 L483.02 63.3 L482.28 64.05 L481.6 64.79 L480.97 65.53 L480.37 66.26 L479.81 67 L479.29 67.74 L478.8 68.5 L478.34 69.28 L477.91 70.08 L477.5 70.91 L477.12 71.74 L476.77 72.57 L476.45 73.4 L476.16 74.26 L475.89 75.17 L475.64 76.13 L475.41 77.17 L475.2 78.31 L475.01 79.39 L474.85 80.34 L474.72 81.27 L474.61 82.31 L474.5 83.57 L474.41 85.18 L474.31 87.25 L474.2 89.9 L474.09 93.24" stroke="#ff1010" stroke-width="0.55" fill="none" />
<path d="M526.3 43.05 L525.52 43.32 L524.73 43.6 L523.95 43.87 L523.16 44.14 L522.38 44.41 L521.59 44.68 L520.8 44.95 L520 45.22 L519.21 45.48 L518.44 45.74 L517.66 46 L516.89 46.26 L516.09 46.52 L515.27 46.79 L514.41 47.07 L513.5 47.36 L512.54 47.66 L511.54 47.96 L510.51 48.26 L509.45 48.57 L508.36 48.9 L507.26 49.24 L506.13 49.62 L505 50.02 L503.83 50.47 L502.6 50.95 L501.34 51.47 L500.08 52.01 L498.81 52.55 L497.58 53.09 L496.41 53.6 L495.3 54.08 L494.27 54.52 L493.29 54.9 L492.35 55.26 L491.44 55.62 L490.57 55.99 L489.71 56.4 L488.85 56.87 L488 57.43 L487.14 58.07 L486.28 58.81 L485.43 59.6 L484.6 60.43 L483.79 61.27 L483.02 62.12 L482.28 62.94 L481.6 63.71 L480.97 64.42 L480.37 65.1 L479.81 65.74 L479.29 66.39 L478.8 67.05 L478.34 67.74 L477.91 68.48 L477.5 69.3 L477.12 70.17 L476.77 71.09 L476.45 72.04 L476.16 73.03 L475.89 74.06 L475.64 75.14 L475.41 76.25 L475.2 77.42 L475.01 78.46 L474.85 79.31 L474.72 80.12 L474.61 81.01 L474.5 82.13 L474.41 83.62 L474.31 85.63 L474.2 88.29 L474.09 91.72" stroke="#ff1010" stroke-width="0.55" fill="none" />
<path d="M525.47 44.03 L524.79 44.32 L524.13 44.63 L523.46 44.93 L522.8 45.23 L522.13 45.53 L521.44 45.82 L520.73 46.1 L520 46.37 L519.25 46.61 L518.49 46.82 L517.73 47.01 L516.94 47.2 L516.13 47.39 L515.29 47.6 L514.42 47.84 L513.5 48.13 L512.54 48.44 L511.54 48.78 L510.51 49.14 L509.45 49.53 L508.36 49.93 L507.26 50.36 L506.13 50.81 L505 51.28 L503.83 51.78 L502.6 52.33 L501.34 52.9 L500.08 53.49 L498.81 54.09 L497.58 54.69 L496.41 55.27 L495.3 55.83 L494.27 56.35 L493.29 56.85 L492.35 57.34 L491.44 57.82 L490.57 58.31 L489.71 58.81 L488.85 59.35 L488 59.92 L487.14 60.53 L486.28 61.16 L485.43 61.81 L484.6 62.49 L483.79 63.18 L483.02 63.89 L482.28 64.61 L481.6 65.34 L480.97 66.08 L480.37 66.83 L479.81 67.6 L479.29 68.38 L478.8 69.17 L478.34 69.98 L477.91 70.81 L477.5 71.65 L477.12 72.48 L476.77 73.3 L476.45 74.13 L476.16 74.97 L475.89 75.85 L475.64 76.79 L475.41 77.8 L475.2 78.91 L475.01 79.96 L474.85 80.87 L474.72 81.77 L474.61 82.77 L474.5 83.99 L474.41 85.55 L474.31 87.58 L474.2 90.19 L474.09 93.49" stroke="#ff1010" stroke-width="0.55" fill="none" />
<path d="M526.02 44 L525.27 44.22 L524.53 44.43 L523.78 44.64 L523.04 44.85 L522.29 45.07 L521.54 45.29 L520.78 45.53 L520 45.78 L519.22 46.04 L518.46 46.31 L517.69 46.58 L516.9 46.87 L516.11 47.16 L515.28 47.47 L514.41 47.8 L513.5 48.14 L512.54 48.49 L511.54 48.86 L510.51 49.24 L509.45 49.64 L508.36 50.04 L507.26 50.47 L506.13 50.91 L505 51.36 L503.83 51.83 L502.6 52.33 L501.34 52.85 L500.08 53.38 L498.81 53.92 L497.58 54.46 L496.41 54.99 L495.3 55.51 L494.27 56 L493.29 56.48 L492.35 56.96 L491.44 57.43 L490.57 57.92 L489.71 58.42 L488.85 58.96 L488 59.53 L487.14 60.15 L486.28 60.79 L485.43 61.46 L484.6 62.15 L483.79 62.86 L483.02 63.59 L482.28 64.33 L481.6 65.07 L480.97 65.84 L480.37 66.62 L479.81 67.43 L479.29 68.24 L478.8 69.07 L478.34 69.9 L477.91 70.73 L477.5 71.56 L477.12 72.35 L476.77 73.09 L476.45 73.82 L476.16 74.56 L475.89 75.35 L475.64 76.2 L475.41 77.16 L475.2 78.24 L475.01 79.31 L474.85 80.29 L474.72 81.26 L474.61 82.36 L474.5 83.68 L474.41 85.35 L474.31 87.46 L474.2 90.12 L474.09 93.46" stroke="#ff1010" stroke-width="0.55" fill="none" />
<path d="M527.1 42.75 L526.21 43.02 L525.31 43.3 L524.41 43.58 L523.51 43.85 L522.62 44.13 L521.73 44.41 L520.86 44.68 L520 44.96 L519.17 45.23 L518.38 45.5 L517.61 45.76 L516.84 46.03 L516.06 46.3 L515.25 46.57 L514.4 46.86 L513.5 47.15 L512.54 47.44 L511.54 47.73 L510.51 48.02 L509.45 48.32 L508.36 48.63 L507.26 48.97 L506.13 49.34 L505 49.75 L503.83 50.21 L502.6 50.72 L501.34 51.27 L500.08 51.84 L498.81 52.41 L497.58 52.98 L496.41 53.52 L495.3 54.03 L494.27 54.48 L493.29 54.88 L492.35 55.26 L491.44 55.64 L490.57 56.02 L489.71 56.44 L488.85 56.92 L488 57.47 L487.14 58.1 L486.28 58.81 L485.43 59.56 L484.6 60.35 L483.79 61.16 L483.02 61.97 L482.28 62.77 L481.6 63.54 L480.97 64.28 L480.37 65 L479.81 65.71 L479.29 66.42 L478.8 67.15 L478.34 67.89 L477.91 68.66 L477.5 69.47 L477.12 70.3 L476.77 71.13 L476.45 71.96 L476.16 72.83 L475.89 73.74 L475.64 74.71 L475.41 75.76 L475.2 76.89 L475.01 77.96 L474.85 78.87 L474.72 79.77 L474.61 80.77 L474.5 82.01 L474.41 83.61 L474.31 85.71 L474.2 88.42 L474.09 91.87" stroke="#ff1010" stroke-width="0.55" fill="none" />
<path d="M528.02 42.41 L527 42.76 L525.98 43.12 L524.94 43.48 L523.91 43.84 L522.89 44.19 L521.9 44.52 L520.93 44.83 L520 45.09 L519.13 45.31 L518.32 45.47 L517.54 45.59 L516.78 45.7 L516.02 45.81 L515.23 45.94 L514.4 46.11 L513.5 46.34 L512.54 46.62 L511.54 46.94 L510.51 47.28 L509.45 47.65 L508.36 48.04 L507.26 48.45 L506.13 48.86 L505 49.27 L503.83 49.7 L502.6 50.14 L501.34 50.59 L500.08 51.05 L498.81 51.52 L497.58 52 L496.41 52.47 L495.3 52.93 L494.27 53.38 L493.29 53.81 L492.35 54.22 L491.44 54.65 L490.57 55.09 L489.71 55.56 L488.85 56.08 L488 56.65 L487.14 57.29 L486.28 57.98 L485.43 58.72 L484.6 59.49 L483.79 60.28 L483.02 61.07 L482.28 61.84 L481.6 62.58 L480.97 63.29 L480.37 63.98 L479.81 64.65 L479.29 65.32 L478.8 66.01 L478.34 66.72 L477.91 67.47 L477.5 68.27 L477.12 69.1 L476.77 69.95 L476.45 70.81 L476.16 71.71 L475.89 72.65 L475.64 73.66 L475.41 74.73 L475.2 75.88 L475.01 76.96 L474.85 77.87 L474.72 78.75 L474.61 79.74 L474.5 80.97 L474.41 82.58 L474.31 84.7 L474.2 87.46 L474.09 90.99" stroke="#ff1010" stroke-width="0.55" fill="none" />
<path d="M526.69 44 L525.85 44.23 L525.01 44.45 L524.17 44.67 L523.33 44.89 L522.49 45.11 L521.66 45.35 L520.83 45.6 L520 45.87 L519.19 46.17 L518.41 46.48 L517.64 46.8 L516.86 47.13 L516.08 47.48 L515.26 47.83 L514.41 48.18 L513.5 48.53 L512.54 48.88 L511.54 49.22 L510.51 49.57 L509.45 49.92 L508.36 50.28 L507.26 50.66 L506.13 51.05 L505 51.47 L503.83 51.91 L502.6 52.37 L501.34 52.85 L500.08 53.34 L498.81 53.85 L497.58 54.37 L496.41 54.89 L495.3 55.42 L494.27 55.96 L493.29 56.51 L492.35 57.07 L491.44 57.64 L490.57 58.22 L489.71 58.81 L488.85 59.41 L488 60.02 L487.14 60.65 L486.28 61.29 L485.43 61.94 L484.6 62.6 L483.79 63.27 L483.02 63.95 L482.28 64.64 L481.6 65.33 L480.97 66.03 L480.37 66.73 L479.81 67.43 L479.29 68.14 L478.8 68.87 L478.34 69.63 L477.91 70.42 L477.5 71.25 L477.12 72.11 L476.77 72.98 L476.45 73.88 L476.16 74.8 L475.89 75.77 L475.64 76.8 L475.41 77.88 L475.2 79.05 L475.01 80.14 L474.85 81.09 L474.72 82.02 L474.61 83.04 L474.5 84.28 L474.41 85.86 L474.31 87.89 L474.2 90.5 L474.09 93.78" stroke="#ff1010" stroke-width="0.55" fill="none" />
<path d="M527.71 42.96 L526.74 43.13 L525.76 43.3 L524.77 43.46 L523.78 43.63 L522.8 43.8 L521.84 43.98 L520.91 44.18 L520 44.4 L519.14 44.64 L518.34 44.9 L517.56 45.18 L516.8 45.47 L516.03 45.76 L515.24 46.06 L514.4 46.36 L513.5 46.65 L512.54 46.92 L511.54 47.18 L510.51 47.43 L509.45 47.69 L508.36 47.96 L507.26 48.25 L506.13 48.57 L505 48.94 L503.83 49.35 L502.6 49.81 L501.34 50.29 L500.08 50.8 L498.81 51.33 L497.58 51.85 L496.41 52.38 L495.3 52.89 L494.27 53.38 L493.29 53.86 L492.35 54.33 L491.44 54.81 L490.57 55.31 L489.71 55.82 L488.85 56.36 L488 56.94 L487.14 57.56 L486.28 58.21 L485.43 58.89 L484.6 59.59 L483.79 60.31 L483.02 61.03 L482.28 61.74 L481.6 62.45 L480.97 63.13 L480.37 63.79 L479.81 64.44 L479.29 65.1 L478.8 65.79 L478.34 66.5 L477.91 67.26 L477.5 68.08 L477.12 68.95 L476.77 69.84 L476.45 70.77 L476.16 71.74 L475.89 72.75 L475.64 73.82 L475.41 74.94 L475.2 76.12 L475.01 77.2 L474.85 78.1 L474.72 78.96 L474.61 79.92 L474.5 81.12 L474.41 82.69 L474.31 84.78 L474.2 87.53 L474.09 91.04" stroke="#ff1010" stroke-width="0.55" fill="none" />
<path d="M525.7 42.69 L524.99 42.9 L524.29 43.13 L523.6 43.35 L522.9 43.57 L522.2 43.79 L521.48 44.01 L520.75 44.22 L520 44.42 L519.24 44.6 L518.48 44.75 L517.71 44.89 L516.93 45.04 L516.12 45.19 L515.28 45.36 L514.41 45.56 L513.5 45.8 L512.54 46.09 L511.54 46.41 L510.51 46.76 L509.45 47.13 L508.36 47.52 L507.26 47.91 L506.13 48.3 L505 48.68 L503.83 49.05 L502.6 49.43 L501.34 49.8 L500.08 50.17 L498.81 50.56 L497.58 50.96 L496.41 51.38 L495.3 51.82 L494.27 52.27 L493.29 52.73 L492.35 53.21 L491.44 53.7 L490.57 54.21 L489.71 54.74 L488.85 55.3 L488 55.9 L487.14 56.53 L486.28 57.2 L485.43 57.91 L484.6 58.63 L483.79 59.37 L483.02 60.13 L482.28 60.88 L481.6 61.64 L480.97 62.38 L480.37 63.13 L479.81 63.88 L479.29 64.64 L478.8 65.41 L478.34 66.21 L477.91 67.03 L477.5 67.89 L477.12 68.76 L476.77 69.61 L476.45 70.49 L476.16 71.39 L475.89 72.33 L475.64 73.34 L475.41 74.43 L475.2 75.61 L475.01 76.73 L474.85 77.71 L474.72 78.67 L474.61 79.74 L474.5 81.05 L474.41 82.72 L474.31 84.89 L474.2 87.69 L474.09 91.22" stroke="#ff1010" stroke-width="0.55" fill="none" />
<path d="M526.07 43.65 L525.32 43.87 L524.57 44.09 L523.82 44.31 L523.06 44.53 L522.31 44.75 L521.55 44.98 L520.78 45.22 L520 45.47 L519.22 45.73 L518.45 46.01 L517.68 46.3 L516.9 46.59 L516.1 46.88 L515.28 47.18 L514.41 47.49 L513.5 47.79 L512.54 48.08 L511.54 48.35 L510.51 48.62 L509.45 48.9 L508.36 49.19 L507.26 49.51 L506.13 49.87 L505 50.28 L503.83 50.75 L502.6 51.29 L501.34 51.87 L500.08 52.47 L498.81 53.09 L497.58 53.69 L496.41 54.26 L495.3 54.78 L494.27 55.24 L493.29 55.64 L492.35 56.01 L491.44 56.38 L490.57 56.75 L489.71 57.16 L488.85 57.63 L488 58.18 L487.14 58.82 L486.28 59.54 L485.43 60.31 L484.6 61.12 L483.79 61.95 L483.02 62.78 L482.28 63.6 L481.6 64.38 L480.97 65.12 L480.37 65.84 L479.81 66.55 L479.29 67.27 L478.8 67.99 L478.34 68.73 L477.91 69.51 L477.5 70.34 L477.12 71.2 L476.77 72.06 L476.45 72.95 L476.16 73.87 L475.89 74.83 L475.64 75.84 L475.41 76.91 L475.2 78.05 L475.01 79.11 L474.85 80.01 L474.72 80.88 L474.61 81.85 L474.5 83.04 L474.41 84.59 L474.31 86.63 L474.2 89.27 L474.09 92.64" stroke="#ff1010" stroke-width="0.55" fill="none" />
<path d="M528.17 44.34 L527.14 44.54 L526.09 44.73 L525.04 44.92 L523.98 45.11 L522.94 45.3 L521.93 45.51 L520.94 45.74 L520 45.99 L519.12 46.27 L518.3 46.56 L517.53 46.88 L516.77 47.2 L516.01 47.54 L515.23 47.88 L514.4 48.22 L513.5 48.56 L512.54 48.89 L511.54 49.21 L510.51 49.53 L509.45 49.85 L508.36 50.19 L507.26 50.55 L506.13 50.94 L505 51.36 L503.83 51.82 L502.6 52.32 L501.34 52.85 L500.08 53.4 L498.81 53.96 L497.58 54.52 L496.41 55.08 L495.3 55.62 L494.27 56.14 L493.29 56.66 L492.35 57.16 L491.44 57.68 L490.57 58.19 L489.71 58.73 L488.85 59.29 L488 59.88 L487.14 60.49 L486.28 61.13 L485.43 61.79 L484.6 62.46 L483.79 63.15 L483.02 63.86 L482.28 64.58 L481.6 65.31 L480.97 66.04 L480.37 66.79 L479.81 67.55 L479.29 68.32 L478.8 69.11 L478.34 69.92 L477.91 70.75 L477.5 71.61 L477.12 72.48 L476.77 73.36 L476.45 74.24 L476.16 75.15 L475.89 76.1 L475.64 77.1 L475.41 78.15 L475.2 79.27 L475.01 80.31 L474.85 81.19 L474.72 82.03 L474.61 82.97 L474.5 84.13 L474.41 85.63 L474.31 87.61 L474.2 90.18 L474.09 93.47" stroke="#ff1010" stroke-width="0.55" fill="none" />
<path d="M527.41 43.93 L526.48 44.19 L525.54 44.45 L524.59 44.72 L523.65 44.98 L522.71 45.24 L521.79 45.5 L520.88 45.75 L520 45.98 L519.16 46.19 L518.36 46.37 L517.58 46.54 L516.82 46.7 L516.04 46.87 L515.24 47.08 L514.4 47.32 L513.5 47.62 L512.54 47.97 L511.54 48.38 L510.51 48.82 L509.45 49.29 L508.36 49.78 L507.26 50.28 L506.13 50.78 L505 51.26 L503.83 51.75 L502.6 52.24 L501.34 52.74 L500.08 53.24 L498.81 53.75 L497.58 54.26 L496.41 54.76 L495.3 55.27 L494.27 55.75 L493.29 56.22 L492.35 56.69 L491.44 57.15 L490.57 57.63 L489.71 58.13 L488.85 58.65 L488 59.22 L487.14 59.81 L486.28 60.43 L485.43 61.07 L484.6 61.74 L483.79 62.42 L483.02 63.13 L482.28 63.86 L481.6 64.61 L480.97 65.39 L480.37 66.2 L479.81 67.03 L479.29 67.89 L478.8 68.76 L478.34 69.64 L477.91 70.52 L477.5 71.4 L477.12 72.27 L476.77 73.1 L476.45 73.93 L476.16 74.77 L475.89 75.65 L475.64 76.59 L475.41 77.6 L475.2 78.71 L475.01 79.77 L474.85 80.7 L474.72 81.61 L474.61 82.63 L474.5 83.87 L474.41 85.45 L474.31 87.49 L474.2 90.12 L474.09 93.43" stroke="#ff1010" stroke-width="0.55" fill="none" />
<path d="M526.23 43.91 L525.45 44.19 L524.68 44.48 L523.91 44.76 L523.13 45.05 L522.36 45.34 L521.58 45.62 L520.79 45.89 L520 46.16 L519.21 46.4 L518.44 46.63 L517.67 46.84 L516.89 47.05 L516.1 47.27 L515.27 47.51 L514.41 47.78 L513.5 48.09 L512.54 48.43 L511.54 48.79 L510.51 49.19 L509.45 49.6 L508.36 50.03 L507.26 50.48 L506.13 50.94 L505 51.41 L503.83 51.91 L502.6 52.44 L501.34 52.99 L500.08 53.56 L498.81 54.12 L497.58 54.69 L496.41 55.24 L495.3 55.77 L494.27 56.26 L493.29 56.72 L492.35 57.17 L491.44 57.62 L490.57 58.07 L489.71 58.55 L488.85 59.06 L488 59.63 L487.14 60.23 L486.28 60.88 L485.43 61.55 L484.6 62.25 L483.79 62.96 L483.02 63.69 L482.28 64.44 L481.6 65.18 L480.97 65.94 L480.37 66.7 L479.81 67.48 L479.29 68.28 L478.8 69.09 L478.34 69.91 L477.91 70.74 L477.5 71.59 L477.12 72.44 L476.77 73.27 L476.45 74.1 L476.16 74.95 L475.89 75.84 L475.64 76.79 L475.41 77.8 L475.2 78.91 L475.01 79.95 L474.85 80.84 L474.72 81.71 L474.61 82.69 L474.5 83.88 L474.41 85.42 L474.31 87.44 L474.2 90.04 L474.09 93.35" stroke="#ff1010" stroke-width="0.55" fill="none" />
<path d="M525.36 44.02 L524.69 44.38 L524.04 44.74 L523.4 45.1 L522.75 45.47 L522.09 45.82 L521.42 46.17 L520.72 46.49 L520 46.79 L519.26 47.05 L518.5 47.26 L517.73 47.45 L516.95 47.63 L516.13 47.82 L515.29 48.03 L514.42 48.27 L513.5 48.58 L512.54 48.93 L511.54 49.33 L510.51 49.77 L509.45 50.23 L508.36 50.7 L507.26 51.19 L506.13 51.68 L505 52.16 L503.83 52.64 L502.6 53.12 L501.34 53.61 L500.08 54.11 L498.81 54.61 L497.58 55.13 L496.41 55.65 L495.3 56.18 L494.27 56.71 L493.29 57.24 L492.35 57.78 L491.44 58.33 L490.57 58.89 L489.71 59.46 L488.85 60.06 L488 60.69 L487.14 61.34 L486.28 62.03 L485.43 62.73 L484.6 63.46 L483.79 64.19 L483.02 64.93 L482.28 65.66 L481.6 66.38 L480.97 67.09 L480.37 67.78 L479.81 68.46 L479.29 69.15 L478.8 69.85 L478.34 70.57 L477.91 71.32 L477.5 72.1 L477.12 72.89 L476.77 73.67 L476.45 74.46 L476.16 75.28 L475.89 76.14 L475.64 77.07 L475.41 78.08 L475.2 79.2 L475.01 80.29 L474.85 81.27 L474.72 82.25 L474.61 83.33 L474.5 84.64 L474.41 86.27 L474.31 88.34 L474.2 90.96 L474.09 94.22" stroke="#ff1010" stroke-width="0.55" fill="none" />
<path d="M527.05 44.07 L526.16 44.39 L525.27 44.73 L524.38 45.07 L523.49 45.4 L522.6 45.73 L521.72 46.05 L520.85 46.34 L520 46.61 L519.18 46.83 L518.38 47.01 L517.61 47.16 L516.84 47.3 L516.06 47.45 L515.25 47.63 L514.4 47.84 L513.5 48.13 L512.54 48.47 L511.54 48.85 L510.51 49.28 L509.45 49.73 L508.36 50.21 L507.26 50.7 L506.13 51.2 L505 51.7 L503.83 52.21 L502.6 52.76 L501.34 53.32 L500.08 53.89 L498.81 54.47 L497.58 55.03 L496.41 55.58 L495.3 56.09 L494.27 56.56 L493.29 56.98 L492.35 57.37 L491.44 57.76 L490.57 58.16 L489.71 58.6 L488.85 59.1 L488 59.68 L487.14 60.35 L486.28 61.1 L485.43 61.91 L484.6 62.75 L483.79 63.62 L483.02 64.48 L482.28 65.31 L481.6 66.1 L480.97 66.83 L480.37 67.54 L479.81 68.22 L479.29 68.89 L478.8 69.57 L478.34 70.27 L477.91 71.01 L477.5 71.8 L477.12 72.6 L476.77 73.41 L476.45 74.23 L476.16 75.08 L475.89 75.98 L475.64 76.95 L475.41 77.99 L475.2 79.12 L475.01 80.21 L474.85 81.19 L474.72 82.15 L474.61 83.23 L474.5 84.52 L474.41 86.14 L474.31 88.2 L474.2 90.81 L474.09 94.09" stroke="#ff1010" stroke-width="0.55" fill="none" />
<path d="M527.77 44.57 L526.79 44.95 L525.8 45.34 L524.8 45.74 L523.8 46.13 L522.82 46.52 L521.85 46.89 L520.91 47.24 L520 47.56 L519.14 47.85 L518.33 48.09 L517.56 48.3 L516.8 48.5 L516.03 48.71 L515.24 48.94 L514.4 49.21 L513.5 49.53 L512.54 49.91 L511.54 50.33 L510.51 50.79 L509.45 51.26 L508.36 51.75 L507.26 52.25 L506.13 52.74 L505 53.22 L503.83 53.68 L502.6 54.14 L501.34 54.59 L500.08 55.05 L498.81 55.51 L497.58 55.99 L496.41 56.48 L495.3 57 L494.27 57.54 L493.29 58.09 L492.35 58.66 L491.44 59.24 L490.57 59.83 L489.71 60.45 L488.85 61.08 L488 61.73 L487.14 62.42 L486.28 63.13 L485.43 63.87 L484.6 64.62 L483.79 65.38 L483.02 66.15 L482.28 66.91 L481.6 67.65 L480.97 68.38 L480.37 69.09 L479.81 69.79 L479.29 70.49 L478.8 71.21 L478.34 71.95 L477.91 72.72 L477.5 73.53 L477.12 74.36 L476.77 75.2 L476.45 76.05 L476.16 76.93 L475.89 77.86 L475.64 78.84 L475.41 79.88 L475.2 81 L475.01 82.07 L474.85 83.01 L474.72 83.93 L474.61 84.94 L474.5 86.17 L474.41 87.71 L474.31 89.67 L474.2 92.18" stroke="#ff1010" stroke-width="0.55" fill="none" />
<path d="M500.57 65.84 h3.36 v4.11 h-2.4 Z" stroke="#ff1010" stroke-width="0.45" fill="none" />
<path d="M504.99 61.69 h7.48 v2.15 h-6.3 Z" stroke="#ff1010" stroke-width="0.45" fill="none" />
<path d="M499.62 56.19 h5.05 v4.22 h-4.2 Z" stroke="#ff1010" stroke-width="0.45" fill="none" />
<path d="M501.53 58.07 h5.54 v3.34 h-5.35 Z" stroke="#ff1010" stroke-width="0.45" fill="none" />
<path d="M504.66 59.81 h5.52 v2.88 h-4.56 Z" stroke="#ff1010" stroke-width="0.45" fill="none" />
<path d="M496.43 65.62 h5.07 v2.03 h-3.65 Z" stroke="#ff1010" stroke-width="0.45" fill="none" />
<path d="M505.44 58.41 h4.93 v4.92 h-4.51 Z" stroke="#ff1010" stroke-width="0.45" fill="none" />
<path d="M498.97 56.81 h4.95 v3.12 h-4.74 Z" stroke="#ff1010" stroke-width="0.45" fill="none" />
<path d="M473.75 94.17 L473.8 92 L473.86 89.89 L473.93 87.81 L474 85.77 L474.07 83.75 L474.15 81.77 L474.23 79.81 L474.32 77.89 L474.4 76 L474.49 74.14 L474.57 72.3 L474.65 70.48 L474.73 68.71 L474.82 66.96 L474.93 65.26 L475.06 63.61 L475.21 62 L475.36 60.46 L475.52 58.99 L475.69 57.57 L475.87 56.18 L476.08 54.82 L476.34 53.46 L476.64 52.1 L477.01 50.7 L477.43 49.26 L477.91 47.78 L478.43 46.28 L478.99 44.78 L479.59 43.33 L480.23 41.93 L480.9 40.61 L481.61 39.41 L482.34 38.31 L483.12 37.28 L483.93 36.32 L484.78 35.43 L485.66 34.6 L486.58 33.84 L487.52 33.15 L488.5 32.52 L489.56 31.95 L490.71 31.45 L491.92 31.01 L493.15 30.64 L494.36 30.33 L495.51 30.09 L496.57 29.92 L497.5 29.82 L498.3 29.79 L499.01 29.85 L499.66 29.97 L500.23 30.16 L500.74 30.41 L501.2 30.71 L501.62 31.04 L501.99 31.42 L502.3 31.85 L502.52 32.36 L502.68 32.92 L502.8 33.53 L502.89 34.16 L502.97 34.79 L503.06 35.42 L503.19 36.01" stroke="#ff0000" stroke-width="0.7" fill="none" />
<path d="M473.79 94.17 L473.85 92 L473.92 89.89 L474 87.81 L474.08 85.77 L474.16 83.75 L474.25 81.77 L474.35 79.81 L474.45 77.89 L474.55 76 L474.65 74.13 L474.75 72.29 L474.85 70.47 L474.96 68.69 L475.08 66.95 L475.21 65.25 L475.36 63.6 L475.53 62 L475.71 60.48 L475.89 59.02 L476.08 57.63 L476.28 56.27 L476.52 54.94 L476.79 53.62 L477.1 52.29 L477.48 50.95 L477.91 49.56 L478.38 48.14 L478.89 46.7 L479.44 45.28 L480.03 43.9 L480.66 42.57 L481.31 41.32 L482 40.16 L482.71 39.1 L483.46 38.11 L484.25 37.17 L485.06 36.3 L485.91 35.49 L486.79 34.75 L487.7 34.07 L488.64 33.46 L489.65 32.91 L490.75 32.42 L491.9 32 L493.08 31.64 L494.23 31.35 L495.34 31.12 L496.35 30.95 L497.23 30.85 L497.99 30.82 L498.68 30.87 L499.29 30.99 L499.84 31.17 L500.33 31.4 L500.77 31.69 L501.16 32.01 L501.52 32.37 L501.82 32.79 L502.03 33.28 L502.19 33.82 L502.3 34.41 L502.39 35.02 L502.47 35.64 L502.57 36.24 L502.69 36.82" stroke="#ff0000" stroke-width="0.7" fill="none" />
<path d="M473.83 94.17 L473.9 92 L473.98 89.89 L474.06 87.81 L474.15 85.77 L474.24 83.75 L474.34 81.77 L474.45 79.81 L474.56 77.89 L474.68 76 L474.79 74.13 L474.91 72.29 L475.03 70.46 L475.16 68.68 L475.3 66.93 L475.45 65.23 L475.61 63.59 L475.8 62 L476 60.49 L476.2 59.05 L476.41 57.68 L476.63 56.35 L476.89 55.04 L477.17 53.76 L477.5 52.46 L477.88 51.15 L478.31 49.81 L478.78 48.44 L479.29 47.07 L479.83 45.71 L480.41 44.39 L481.02 43.12 L481.66 41.92 L482.33 40.81 L483.02 39.78 L483.75 38.81 L484.51 37.9 L485.3 37.04 L486.12 36.25 L486.97 35.52 L487.85 34.86 L488.75 34.26 L489.72 33.72 L490.78 33.25 L491.89 32.84 L493.02 32.5 L494.13 32.21 L495.18 31.99 L496.15 31.83 L497 31.74 L497.73 31.71 L498.39 31.75 L498.98 31.86 L499.5 32.03 L499.97 32.26 L500.4 32.53 L500.78 32.84 L501.12 33.18 L501.41 33.59 L501.62 34.06 L501.77 34.6 L501.88 35.17 L501.97 35.76 L502.05 36.36 L502.15 36.95 L502.27 37.51" stroke="#ff0000" stroke-width="0.7" fill="none" />
<path d="M473.87 94.17 L473.94 92 L474.03 89.89 L474.12 87.81 L474.21 85.77 L474.32 83.75 L474.42 81.77 L474.54 79.81 L474.66 77.89 L474.79 76 L474.92 74.13 L475.06 72.28 L475.19 70.46 L475.34 68.67 L475.49 66.92 L475.66 65.22 L475.85 63.58 L476.05 62 L476.27 60.5 L476.48 59.08 L476.71 57.73 L476.95 56.42 L477.22 55.14 L477.52 53.88 L477.86 52.62 L478.24 51.34 L478.67 50.04 L479.14 48.72 L479.65 47.4 L480.19 46.1 L480.75 44.83 L481.35 43.61 L481.98 42.46 L482.63 41.39 L483.31 40.39 L484.02 39.45 L484.76 38.56 L485.52 37.72 L486.32 36.94 L487.14 36.23 L487.98 35.58 L488.86 34.99 L489.79 34.47 L490.81 34.01 L491.88 33.61 L492.96 33.28 L494.03 33 L495.04 32.79 L495.98 32.63 L496.79 32.54 L497.49 32.51 L498.13 32.55 L498.69 32.65 L499.2 32.81 L499.65 33.03 L500.06 33.29 L500.42 33.59 L500.76 33.92 L501.03 34.32 L501.24 34.78 L501.39 35.3 L501.5 35.85 L501.59 36.43 L501.67 37.01 L501.76 37.59 L501.88 38.13" stroke="#ff0000" stroke-width="0.7" fill="none" />
<path d="M473.89 94.17 L473.98 92 L474.07 89.89 L474.16 87.81 L474.26 85.77 L474.37 83.75 L474.49 81.77 L474.61 79.81 L474.74 77.89 L474.88 76 L475.03 74.13 L475.17 72.28 L475.32 70.45 L475.48 68.66 L475.65 66.91 L475.84 65.21 L476.04 63.57 L476.25 62 L476.48 60.51 L476.71 59.11 L476.95 57.76 L477.21 56.47 L477.49 55.21 L477.8 53.97 L478.15 52.74 L478.54 51.49 L478.97 50.22 L479.44 48.94 L479.94 47.67 L480.47 46.41 L481.03 45.19 L481.62 44.01 L482.23 42.9 L482.87 41.86 L483.54 40.89 L484.23 39.96 L484.95 39.08 L485.7 38.26 L486.47 37.5 L487.27 36.79 L488.09 36.15 L488.94 35.57 L489.85 35.06 L490.84 34.61 L491.87 34.23 L492.92 33.9 L493.95 33.63 L494.93 33.42 L495.83 33.27 L496.62 33.18 L497.31 33.15 L497.92 33.19 L498.46 33.28 L498.95 33.44 L499.39 33.65 L499.79 33.9 L500.14 34.19 L500.46 34.52 L500.73 34.9 L500.93 35.35 L501.08 35.86 L501.19 36.4 L501.28 36.97 L501.36 37.54 L501.46 38.1 L501.58 38.63" stroke="#ff0000" stroke-width="0.7" fill="none" />
<path d="M473.93 94.17 L474.02 92 L474.12 89.89 L474.22 87.81 L474.33 85.77 L474.45 83.75 L474.58 81.77 L474.71 79.81 L474.85 77.89 L475 76 L475.16 74.13 L475.32 72.27 L475.49 70.44 L475.67 68.64 L475.86 66.89 L476.06 65.19 L476.28 63.56 L476.52 62 L476.76 60.53 L477.01 59.14 L477.27 57.81 L477.55 56.54 L477.84 55.31 L478.17 54.1 L478.53 52.9 L478.92 51.69 L479.36 50.46 L479.82 49.24 L480.32 48.02 L480.84 46.82 L481.39 45.66 L481.97 44.54 L482.57 43.47 L483.19 42.47 L483.84 41.53 L484.51 40.64 L485.21 39.78 L485.93 38.98 L486.67 38.23 L487.44 37.54 L488.23 36.91 L489.05 36.34 L489.92 35.85 L490.87 35.41 L491.86 35.04 L492.86 34.72 L493.85 34.47 L494.79 34.26 L495.65 34.12 L496.4 34.03 L497.06 34 L497.64 34.03 L498.16 34.12 L498.63 34.27 L499.05 34.46 L499.43 34.7 L499.77 34.98 L500.08 35.3 L500.34 35.67 L500.53 36.11 L500.68 36.6 L500.79 37.13 L500.87 37.68 L500.96 38.23 L501.05 38.78 L501.17 39.29" stroke="#ff0000" stroke-width="0.7" fill="none" />
<path d="M473.97 94.17 L474.07 92 L474.17 89.89 L474.29 87.81 L474.41 85.77 L474.53 83.75 L474.67 81.77 L474.82 79.81 L474.97 77.89 L475.14 76 L475.31 74.13 L475.49 72.27 L475.68 70.43 L475.88 68.63 L476.09 66.88 L476.31 65.18 L476.55 63.55 L476.81 62 L477.07 60.54 L477.34 59.17 L477.62 57.87 L477.92 56.62 L478.23 55.42 L478.57 54.24 L478.94 53.08 L479.34 51.91 L479.78 50.73 L480.24 49.56 L480.73 48.4 L481.25 47.27 L481.79 46.17 L482.35 45.11 L482.94 44.1 L483.54 43.15 L484.17 42.24 L484.82 41.37 L485.49 40.54 L486.18 39.76 L486.9 39.03 L487.63 38.35 L488.39 37.73 L489.17 37.19 L490 36.71 L490.9 36.29 L491.85 35.93 L492.8 35.62 L493.74 35.38 L494.63 35.18 L495.44 35.04 L496.16 34.96 L496.78 34.92 L497.34 34.95 L497.83 35.04 L498.28 35.17 L498.68 35.36 L499.04 35.59 L499.36 35.85 L499.66 36.15 L499.91 36.51 L500.09 36.93 L500.23 37.41 L500.34 37.92 L500.43 38.45 L500.51 38.99 L500.61 39.52 L500.72 40.02" stroke="#ff0000" stroke-width="0.7" fill="none" />
<path d="M474.01 94.17 L474.12 92 L474.23 89.89 L474.35 87.81 L474.48 85.77 L474.62 83.75 L474.76 81.77 L474.92 79.81 L475.09 77.89 L475.27 76 L475.46 74.13 L475.66 72.26 L475.87 70.42 L476.09 68.62 L476.32 66.86 L476.56 65.16 L476.82 63.54 L477.09 62 L477.38 60.56 L477.67 59.2 L477.97 57.92 L478.28 56.7 L478.62 55.53 L478.97 54.38 L479.35 53.25 L479.76 52.12 L480.2 50.99 L480.66 49.87 L481.14 48.78 L481.65 47.71 L482.18 46.68 L482.73 45.68 L483.3 44.72 L483.89 43.82 L484.49 42.95 L485.12 42.1 L485.76 41.3 L486.43 40.53 L487.12 39.82 L487.82 39.15 L488.55 38.55 L489.29 38.02 L490.08 37.55 L490.94 37.15 L491.83 36.8 L492.74 36.51 L493.62 36.28 L494.47 36.09 L495.24 35.96 L495.92 35.87 L496.51 35.84 L497.04 35.86 L497.51 35.94 L497.93 36.07 L498.31 36.24 L498.65 36.46 L498.96 36.71 L499.24 37 L499.48 37.34 L499.66 37.75 L499.8 38.21 L499.9 38.7 L499.99 39.22 L500.08 39.74 L500.17 40.25 L500.28 40.73" stroke="#ff0000" stroke-width="0.7" fill="none" />
<path d="M474.05 94.17 L474.16 92 L474.29 89.89 L474.42 87.81 L474.55 85.77 L474.7 83.75 L474.86 81.77 L475.03 79.81 L475.21 77.89 L475.4 76 L475.61 74.12 L475.82 72.26 L476.05 70.41 L476.29 68.6 L476.55 66.84 L476.81 65.15 L477.09 63.53 L477.38 62 L477.69 60.57 L478 59.24 L478.32 57.98 L478.65 56.78 L479.01 55.64 L479.38 54.52 L479.77 53.43 L480.18 52.34 L480.62 51.26 L481.08 50.2 L481.56 49.17 L482.06 48.16 L482.58 47.19 L483.12 46.26 L483.67 45.36 L484.24 44.49 L484.82 43.66 L485.43 42.85 L486.05 42.07 L486.69 41.32 L487.34 40.62 L488.01 39.97 L488.7 39.39 L489.41 38.87 L490.16 38.42 L490.97 38.03 L491.82 37.7 L492.67 37.42 L493.51 37.19 L494.31 37.02 L495.04 36.89 L495.68 36.81 L496.24 36.77 L496.73 36.79 L497.18 36.86 L497.58 36.98 L497.93 37.14 L498.25 37.34 L498.55 37.58 L498.82 37.86 L499.04 38.19 L499.22 38.58 L499.35 39.02 L499.46 39.5 L499.54 40 L499.63 40.5 L499.72 40.99 L499.83 41.46" stroke="#ff0000" stroke-width="0.7" fill="none" />
<path d="M474.09 94.17 L474.21 92 L474.34 89.89 L474.47 87.81 L474.62 85.77 L474.78 83.75 L474.94 81.77 L475.12 79.81 L475.31 77.89 L475.52 76 L475.74 74.12 L475.98 72.25 L476.22 70.4 L476.48 68.59 L476.75 66.83 L477.04 65.13 L477.34 63.52 L477.65 62 L477.97 60.59 L478.29 59.27 L478.64 58.03 L478.99 56.86 L479.36 55.74 L479.74 54.65 L480.15 53.59 L480.57 52.53 L481.01 51.49 L481.47 50.49 L481.94 49.51 L482.43 48.57 L482.94 47.66 L483.46 46.78 L484 45.93 L484.56 45.11 L485.12 44.31 L485.7 43.52 L486.3 42.76 L486.92 42.03 L487.54 41.34 L488.19 40.71 L488.85 40.14 L489.52 39.63 L490.24 39.2 L491.01 38.82 L491.81 38.5 L492.61 38.24 L493.41 38.02 L494.16 37.85 L494.85 37.73 L495.46 37.65 L495.99 37.61 L496.46 37.63 L496.88 37.69 L497.26 37.8 L497.59 37.95 L497.9 38.14 L498.18 38.37 L498.43 38.64 L498.65 38.95 L498.82 39.33 L498.95 39.76 L499.05 40.22 L499.14 40.7 L499.23 41.19 L499.32 41.66 L499.43 42.11" stroke="#ff0000" stroke-width="0.7" fill="none" />
<line x1="473.4" y1="92" x2="473.4" y2="126.5" stroke="#3030ff" stroke-width="0.8" />
<line x1="473.55" y1="92" x2="473.55" y2="126.5" stroke="#ff2020" stroke-width="0.5" stroke-opacity="0.8"/>
<path d="M497.38 45.51 h4.5 v4.44 h-2.73 Z" stroke="#ff1010" stroke-width="0.5" fill="none" />
<path d="M504.88 44.87 h3.59 v3.13 h-2.6 Z" stroke="#ff1010" stroke-width="0.5" fill="none" />
<path d="M500.19 48.4 h6.88 v4.01 h-4.43 Z" stroke="#ff1010" stroke-width="0.5" fill="none" />
<path d="M506.7 49.33 h3.35 v4.16 h-2.91 Z" stroke="#ff1010" stroke-width="0.5" fill="none" />
<path d="M502.25 45.33 h3.02 v3.27 h-2.22 Z" stroke="#ff1010" stroke-width="0.5" fill="none" />
<path d="M502.09 34.62 h4.11 v2.94 h-2.54 Z" stroke="#ff1010" stroke-width="0.5" fill="none" />
<path d="M499.63 36.47 h4.93 v3.02 h-4.52 Z" stroke="#ff1010" stroke-width="0.5" fill="none" />
<path d="M494.56 46.11 h5.63 v2.9 h-4.23 Z" stroke="#ff1010" stroke-width="0.5" fill="none" />
<path d="M498.35 40.73 h5.7 v2.54 h-3.8 Z" stroke="#ff1010" stroke-width="0.5" fill="none" />
<path d="M502.78 34.58 h6.38 v3.43 h-3.92 Z" stroke="#ff1010" stroke-width="0.5" fill="none" />
<path d="M503.76 37.17 h6.99 v4.81 h-6.67 Z" stroke="#ff1010" stroke-width="0.5" fill="none" />
<path d="M505.37 34.25 h3.11 v3.5 h-2.39 Z" stroke="#ff1010" stroke-width="0.5" fill="none" />
<path d="M498.72 43.15 h6.14 v4.47 h-5.96 Z" stroke="#ff1010" stroke-width="0.5" fill="none" />
<path d="M502.47 47.91 h3.36 v2.56 h-2.63 Z" stroke="#ff1010" stroke-width="0.5" fill="none" />
<path d="M505.36 39.55 h3.44 v2.82 h-2.38 Z" stroke="#ff1010" stroke-width="0.5" fill="none" />
<path d="M505.09 38.72 h6.44 v4.86 h-5.86 Z" stroke="#ff1010" stroke-width="0.5" fill="none" />
<path d="M505.93 37.34 h3.78 v3.1 h-2.29 Z" stroke="#ff1010" stroke-width="0.5" fill="none" />
<path d="M506.03 36.5 h5.52 v3.21 h-4.5 Z" stroke="#ff1010" stroke-width="0.5" fill="none" />
<path d="M499.1 45.26 h3.8 v3.22 h-2.49 Z" stroke="#ff1010" stroke-width="0.5" fill="none" />
<path d="M497.55 47.17 h6.85 v2.54 h-6.43 Z" stroke="#ff1010" stroke-width="0.5" fill="none" />
<path d="M503.28 34.35 h3.64 v4.66 h-2.47 Z" stroke="#ff1010" stroke-width="0.5" fill="none" />
<path d="M505.71 42.18 h6.94 v3.76 h-4.53 Z" stroke="#ff1010" stroke-width="0.5" fill="none" />
<path d="M501.48 40.57 h3.28 v4.55 h-3.15 Z" stroke="#ff1010" stroke-width="0.5" fill="none" />
<path d="M506.5 43.95 h5.33 v2.99 h-5.26 Z" stroke="#ff1010" stroke-width="0.5" fill="none" />
<path d="M503.29 44.36 h5.78 v4.6 h-4.26 Z" stroke="#ff1010" stroke-width="0.5" fill="none" />
<path d="M494.56 49.85 h3.13 v3.18 h-2.49 Z" stroke="#ff1010" stroke-width="0.5" fill="none" />
<path d="M493.56 38.27 h6.48 v4.06 h-5.4 Z" stroke="#ff1010" stroke-width="0.5" fill="none" />
<path d="M493.26 40.26 h3.49 v3.47 h-2.63 Z" stroke="#ff1010" stroke-width="0.5" fill="none" />
<path d="M498.94 38.37 h6.12 v3.66 h-5.9 Z" stroke="#ff1010" stroke-width="0.5" fill="none" />
<path d="M497.82 35.44 h4.42 v4.68 h-3.29 Z" stroke="#ff1010" stroke-width="0.5" fill="none" />
<path d="M500.92 46.93 V64.33" stroke="#ff1010" stroke-width="0.5" fill="none" />
<path d="M497.15 41.13 V66.04" stroke="#ff1010" stroke-width="0.5" fill="none" />
<path d="M500.17 42.94 V70.59" stroke="#ff1010" stroke-width="0.5" fill="none" />
<path d="M496.09 47.85 V63.53" stroke="#ff1010" stroke-width="0.5" fill="none" />
<path d="M501.99 40.98 V70.29" stroke="#ff1010" stroke-width="0.5" fill="none" />
</g>
<g clip-path="url(#cb)">
<line x1="237.7" y1="112" x2="237.7" y2="94" stroke="#626262" stroke-width="1.05" />
<path d="M237.7 95 L237.7 91.73 L237.69 88.26 L237.67 84.7 L237.65 81.19 L237.65 77.84 L237.66 74.77 L237.71 72.12 L237.8 70 L237.92 68.49 L238.05 67.52 L238.2 66.95 L238.38 66.67 L238.59 66.56 L238.84 66.49 L239.14 66.34 L239.5 66 L239.91 65.52 L240.37 65.04 L240.87 64.57 L241.42 64.1 L242.01 63.63 L242.63 63.18 L243.3 62.73 L244 62.29 L244.73 61.86 L245.5 61.43 L246.31 61.02 L247.16 60.69 L248.05 60.3 L248.98 59.9 L249.96 59.53 L251 59.33 L252.03 59.1 L253.03 58.77 L254.05 58.32 L255.12 57.91 L256.31 57.63 L257.66 57.18 L259.2 56.84 L261 56.16 L263.12 55.44 L265.55 54.56 L268.2 53.68 L271 52.81 L273.86 51.5 L276.7 50.77 L279.44 49.94 L282 49.48 L284.38 48.82 L286.66 48.33 L288.88 47.8 L291.06 47.61 L293.24 47.1 L295.43 46.9 L297.67 46.37 L300 45.75 L302.48 44.93 L305.13 43.77 L307.86 43.18 L310.6 42.25 L313.26 41.34 L315.77 40.52 L318.04 39.89 L320 39.16 L321.61 38.45 L322.92 37.69 L324.01 37.57 L324.94 37.04 L325.77 36.33 L326.59 35.31 L327.45 34.34 L328.42 33.8 L328.42 27.3" stroke="#626262" stroke-width="0.85" fill="none" stroke-linejoin="round"/>
<path d="M237.7 95 L237.7 91.97 L237.69 88.76 L237.66 85.47 L237.65 82.23 L237.64 79.12 L237.66 76.28 L237.71 73.8 L237.8 71.8 L237.92 70.34 L238.05 69.35 L238.21 68.72 L238.39 68.35 L238.61 68.13 L238.87 67.97 L239.18 67.76 L239.55 67.4 L239.97 66.95 L240.45 66.54 L240.97 66.15 L241.54 65.78 L242.14 65.42 L242.78 65.06 L243.46 64.68 L244.16 64.28 L244.89 63.85 L245.64 63.38 L246.42 62.95 L247.24 62.46 L248.1 62 L249.01 61.49 L249.98 61.16 L251 61.01 L252.03 60.77 L253.02 60.51 L254.04 60.04 L255.13 59.2 L256.32 58.61 L257.67 58.05 L259.22 57.8 L261.02 57.15 L263.14 56.38 L265.56 55.5 L268.22 54.99 L271.01 54.28 L273.87 53.44 L276.71 52.36 L279.45 51.49 L282 50.67 L284.38 49.99 L286.66 49.08 L288.88 48.69 L291.06 48.31 L293.23 48.05 L295.43 47.44 L297.67 46.73 L300 46.29 L302.52 45.49 L305.27 44.43 L308.13 43.12 L310.98 42.32 L313.7 41.78 L316.19 41.18 L318.33 40.38 L320 39.5 L321.14 38.48 L321.83 37.62 L322.18 36.73 L322.29 36.31 L322.26 35.65 L322.19 35.36 L322.2 34.82 L322.38 34.43 L322.38 29.06 L316.36 31.09 L315.91 24.9" stroke="#626262" stroke-width="0.85" fill="none" stroke-linejoin="round"/>
<path d="M237.7 95 L237.7 92.21 L237.69 89.26 L237.66 86.25 L237.64 83.26 L237.64 80.41 L237.66 77.78 L237.71 75.48 L237.8 73.6 L237.92 72.2 L238.06 71.2 L238.22 70.52 L238.41 70.07 L238.64 69.77 L238.9 69.51 L239.22 69.22 L239.6 68.8 L240.04 68.31 L240.53 67.86 L241.07 67.43 L241.65 67.03 L242.28 66.63 L242.93 66.24 L243.62 65.84 L244.32 65.42 L245.04 64.98 L245.77 64.55 L246.53 64.07 L247.33 63.62 L248.16 63.15 L249.05 62.61 L249.99 62.19 L251 61.76 L252.02 61.38 L253.02 61.14 L254.04 60.89 L255.13 61.02 L256.33 60.72 L257.68 60.34 L259.24 59.72 L261.04 59.04 L263.16 58.3 L265.58 57.89 L268.23 57.22 L271.02 56.15 L273.88 54.68 L276.71 53.4 L279.45 52.57 L282 51.66 L284.38 50.73 L286.66 50.27 L288.88 49.93 L291.06 49.29 L293.23 48.2 L295.43 47.34 L297.67 46.95 L300 46.56 L302.52 45.79 L305.25 44.59 L308.08 43.56 L310.91 42.69 L313.62 41.91 L316.12 40.84 L318.28 39.92 L320 39.1 L321.23 38.3 L322.03 37.59 L322.51 36.83 L322.77 36.59 L322.9 36.12 L322.99 35.65 L323.15 35.01 L323.47 34.39 L323.47 27.3" stroke="#626262" stroke-width="0.85" fill="none" stroke-linejoin="round"/>
<path d="M237.7 95 L237.7 92.45 L237.68 89.76 L237.66 87.02 L237.64 84.3 L237.63 81.7 L237.65 79.29 L237.7 77.16 L237.8 75.4 L237.93 74.05 L238.07 73.05 L238.23 72.33 L238.43 71.81 L238.66 71.41 L238.94 71.06 L239.26 70.68 L239.65 70.2 L240.1 69.66 L240.61 69.15 L241.17 68.66 L241.77 68.2 L242.41 67.76 L243.08 67.33 L243.78 66.91 L244.48 66.51 L245.19 66.11 L245.91 65.75 L246.65 65.41 L247.41 65.06 L248.22 64.73 L249.08 64.32 L250 63.99 L251 63.5 L252.01 63.32 L253.01 62.91 L254.04 62.88 L255.13 62.44 L256.34 62.26 L257.7 61.94 L259.26 61.54 L261.06 60.71 L263.18 59.86 L265.6 58.53 L268.24 57.86 L271.03 56.68 L273.88 55.84 L276.72 54.77 L279.45 53.8 L282 53.43 L284.38 52.59 L286.66 52.26 L288.88 51.55 L291.06 50.94 L293.23 49.94 L295.43 49.3 L297.67 48.68 L300 48.05 L302.52 46.9 L305.25 45.73 L308.09 44.57 L310.92 43.35 L313.63 42.19 L316.12 41.14 L318.28 40.57 L320 40.18 L321.21 39.49 L322.01 38.61 L322.47 37.88 L322.71 37.59 L322.82 37.13 L322.9 36.51 L323.04 35.76 L323.34 35.2 L323.34 29.35 L317.61 28.29 L318.27 25.37" stroke="#626262" stroke-width="0.85" fill="none" stroke-linejoin="round"/>
<path d="M237.7 95 L237.7 92.69 L237.68 90.26 L237.66 87.79 L237.64 85.34 L237.63 82.98 L237.65 80.79 L237.7 78.84 L237.8 77.2 L237.93 75.9 L238.08 74.89 L238.25 74.1 L238.45 73.49 L238.69 72.99 L238.97 72.55 L239.3 72.11 L239.7 71.6 L240.16 71.08 L240.69 70.61 L241.27 70.19 L241.89 69.81 L242.55 69.44 L243.23 69.08 L243.93 68.71 L244.64 68.32 L245.34 67.92 L246.04 67.49 L246.76 67.09 L247.5 66.72 L248.28 66.36 L249.12 65.96 L250.02 65.57 L251 65.29 L252.01 64.74 L253 64.28 L254.03 63.93 L255.13 64.17 L256.34 63.96 L257.71 63.66 L259.28 62.79 L261.08 62.22 L263.2 61.5 L265.62 60.34 L268.26 58.84 L271.04 57.67 L273.89 56.75 L276.72 55.88 L279.45 54.83 L282 54.02 L284.38 53.03 L286.66 52.21 L288.88 51.68 L291.06 51.38 L293.23 50.85 L295.43 50.29 L297.67 49.74 L300 48.88 L302.44 47.77 L305 46.63 L307.61 45.84 L310.24 44.6 L312.84 43.86 L315.37 42.5 L317.77 41.81 L320 40.61 L322.05 40.11 L323.94 39.65 L325.72 39.5 L327.42 39.26 L329.07 38.63 L330.72 38.03 L332.38 37.41 L334.1 36.92 L334.1 27.3" stroke="#626262" stroke-width="0.85" fill="none" stroke-linejoin="round"/>
<path d="M237.7 95 L237.7 92.93 L237.68 90.77 L237.66 88.56 L237.63 86.38 L237.63 84.27 L237.64 82.3 L237.7 80.52 L237.8 79 L237.93 77.75 L238.08 76.74 L238.26 75.9 L238.47 75.21 L238.71 74.62 L239 74.08 L239.35 73.56 L239.75 73 L240.23 72.45 L240.77 71.97 L241.37 71.54 L242.01 71.15 L242.69 70.78 L243.38 70.41 L244.09 70.04 L244.8 69.64 L245.49 69.25 L246.18 68.81 L246.87 68.37 L247.58 67.93 L248.34 67.59 L249.15 67.25 L250.03 66.92 L251 66.41 L252 66.34 L253 65.82 L254.03 65.7 L255.13 65.19 L256.35 65.2 L257.72 64.6 L259.29 63.88 L261.1 63.19 L263.22 62.57 L265.63 61.58 L268.27 60.37 L271.06 59.27 L273.9 58.42 L276.73 57.32 L279.45 56.04 L282 54.79 L284.38 54.39 L286.66 53.8 L288.87 53.18 L291.06 52.27 L293.23 51.86 L295.43 51.34 L297.67 50.21 L300 49.01 L302.52 47.83 L305.26 46.95 L308.11 45.68 L310.95 44.56 L313.67 43.35 L316.16 42.53 L318.31 41.63 L320 40.74 L321.18 39.74 L321.92 39.07 L322.33 38.86 L322.51 38.74 L322.55 38.38 L322.56 37.37 L322.64 36.79 L322.88 36.33 L322.88 29.88 L316.88 33.09 L314.73 27.48" stroke="#626262" stroke-width="0.85" fill="none" stroke-linejoin="round"/>
<path d="M237.7 95 L237.7 93.17 L237.68 91.27 L237.65 89.33 L237.63 87.41 L237.62 85.55 L237.64 83.8 L237.7 82.2 L237.8 80.8 L237.94 79.61 L238.09 78.58 L238.27 77.7 L238.48 76.93 L238.74 76.25 L239.03 75.61 L239.39 75.01 L239.8 74.4 L240.29 73.82 L240.85 73.3 L241.46 72.83 L242.13 72.4 L242.82 72 L243.53 71.63 L244.25 71.26 L244.96 70.88 L245.65 70.51 L246.31 70.16 L246.98 69.84 L247.67 69.63 L248.4 69.29 L249.18 69.08 L250.04 68.69 L251 68.56 L252 68 L252.99 67.73 L254.02 67.43 L255.13 67.27 L256.36 66.62 L257.74 65.94 L259.31 65.44 L261.12 64.77 L263.23 63.74 L265.65 62.67 L268.29 61.59 L271.07 60.7 L273.91 59.25 L276.73 57.91 L279.45 56.57 L282 55.98 L284.37 55.26 L286.66 54.62 L288.87 53.75 L291.06 53.08 L293.23 52.59 L295.43 51.9 L297.67 51.37 L300 50.12 L302.42 48.88 L304.91 47.34 L307.44 46.43 L310 45.51 L312.56 44.89 L315.1 44.06 L317.58 43.08 L320 42.09 L322.34 41.24 L324.63 40.93 L326.89 40.36 L329.11 39.96 L331.32 39.3 L333.52 38.99 L335.73 38.62 L337.96 38.22 L337.96 27.3" stroke="#626262" stroke-width="0.85" fill="none" stroke-linejoin="round"/>
<path d="M237.7 95 L237.7 93.41 L237.68 91.77 L237.65 90.1 L237.63 88.45 L237.62 86.84 L237.64 85.31 L237.69 83.88 L237.8 82.6 L237.94 81.46 L238.1 80.43 L238.28 79.51 L238.5 78.66 L238.76 77.88 L239.07 77.15 L239.43 76.47 L239.85 75.8 L240.35 75.18 L240.93 74.63 L241.56 74.13 L242.25 73.67 L242.96 73.25 L243.68 72.85 L244.41 72.46 L245.12 72.06 L245.8 71.68 L246.45 71.32 L247.09 70.97 L247.76 70.67 L248.46 70.29 L249.22 69.92 L250.06 69.53 L251 69.26 L251.99 68.99 L252.98 68.82 L254.02 68.44 L255.13 68 L256.37 67.88 L257.75 67.18 L259.33 66.88 L261.14 65.95 L263.25 65.41 L265.67 64.18 L268.3 63 L271.08 61.66 L273.92 60.35 L276.73 59.2 L279.46 58.02 L282 57.35 L284.37 56.64 L286.65 55.54 L288.87 54.4 L291.05 53.51 L293.23 53.29 L295.43 52.76 L297.67 51.94 L300 51.12 L302.49 50.22 L305.16 49.3 L307.92 48.02 L310.69 46.82 L313.36 45.14 L315.87 44.01 L318.11 42.7 L320 42.3 L321.5 41.98 L322.67 41.68 L323.58 40.81 L324.32 40.05 L324.96 39.61 L325.57 39.49 L326.23 39.3 L327.02 38.89 L327.02 32.09 L318.04 33.65 L320.19 32.65" stroke="#626262" stroke-width="0.85" fill="none" stroke-linejoin="round"/>
<path d="M237.7 95 L237.7 93.65 L237.68 92.27 L237.65 90.88 L237.62 89.49 L237.62 88.13 L237.63 86.81 L237.69 85.56 L237.8 84.4 L237.94 83.31 L238.11 82.27 L238.3 81.28 L238.52 80.34 L238.78 79.47 L239.1 78.65 L239.47 77.89 L239.9 77.2 L240.41 76.6 L241.01 76.09 L241.66 75.67 L242.36 75.29 L243.09 74.95 L243.83 74.61 L244.57 74.27 L245.28 73.89 L245.95 73.49 L246.58 73.1 L247.2 72.73 L247.84 72.27 L248.51 71.8 L249.25 71.19 L250.07 70.92 L251 70.7 L251.98 70.77 L252.98 70.46 L254.02 70.26 L255.13 69.85 L256.37 69.51 L257.76 68.73 L259.35 68.12 L261.16 67.4 L263.27 66.92 L265.69 66.27 L268.32 65.15 L271.09 63.84 L273.92 62.39 L276.74 61.11 L279.46 59.64 L282 58.46 L284.37 57.45 L286.65 56.85 L288.87 56.19 L291.05 55.66 L293.23 54.95 L295.43 54.28 L297.67 53.34 L300 52.57 L302.51 51.17 L305.24 50.11 L308.06 48.75 L310.88 47.56 L313.59 46.02 L316.09 44.83 L318.26 43.76 L320 43.21 L321.26 42.52 L322.11 42.06 L322.64 41.5 L322.95 41.17 L323.14 40.91 L323.3 40.47 L323.52 40.02 L323.9 39.59 L323.9 27.3" stroke="#626262" stroke-width="0.85" fill="none" stroke-linejoin="round"/>
<path d="M237.7 95 L237.7 93.89 L237.68 92.77 L237.65 91.65 L237.62 90.53 L237.61 89.41 L237.63 88.32 L237.69 87.24 L237.8 86.2 L237.95 85.16 L238.12 84.12 L238.31 83.08 L238.54 82.07 L238.81 81.09 L239.13 80.18 L239.51 79.34 L239.95 78.6 L240.48 77.97 L241.09 77.43 L241.76 76.98 L242.48 76.58 L243.23 76.22 L243.98 75.88 L244.73 75.53 L245.44 75.15 L246.1 74.79 L246.72 74.41 L247.32 74.06 L247.93 73.66 L248.57 73.33 L249.28 72.95 L250.08 72.58 L251 72.35 L251.98 72 L252.97 71.7 L254.01 71.2 L255.14 71.12 L256.38 70.97 L257.78 70.78 L259.37 69.99 L261.18 69.31 L263.29 68.28 L265.7 67.39 L268.33 66.2 L271.1 64.68 L273.93 63.47 L276.74 62.2 L279.46 61.06 L282 59.91 L284.37 59.14 L286.65 58.38 L288.87 57.62 L291.05 56.51 L293.23 55.61 L295.43 54.52 L297.67 53.58 L300 52.92 L302.47 52.09 L305.08 50.85 L307.76 49.54 L310.45 48.13 L313.09 46.89 L315.6 45.64 L317.93 44.48 L320 43.48 L321.79 42.93 L323.35 42.26 L324.72 42.15 L325.97 41.4 L327.15 41.38 L328.32 40.99 L329.51 40.85 L330.8 40.5 L330.8 35.5 L326.73 36.98 L325.02 33.94" stroke="#626262" stroke-width="0.85" fill="none" stroke-linejoin="round"/>
<path d="M237.7 95 L237.7 94.13 L237.68 93.27 L237.65 92.42 L237.62 91.56 L237.61 90.7 L237.63 89.82 L237.69 88.92 L237.8 88 L237.95 87.02 L238.12 85.96 L238.32 84.87 L238.56 83.77 L238.83 82.7 L239.16 81.69 L239.55 80.78 L240 80 L240.54 79.36 L241.17 78.84 L241.86 78.4 L242.6 78.04 L243.37 77.71 L244.13 77.39 L244.89 77.07 L245.6 76.71 L246.25 76.34 L246.85 75.98 L247.43 75.65 L248.01 75.21 L248.63 74.84 L249.32 74.4 L250.1 74.12 L251 73.74 L251.97 73.38 L252.96 73.07 L254.01 72.96 L255.14 72.73 L256.39 72.3 L257.79 71.86 L259.38 71.57 L261.2 71.02 L263.31 70.03 L265.72 68.65 L268.35 67.39 L271.11 66.19 L273.94 65.05 L276.75 63.75 L279.46 62.28 L282 60.81 L284.37 59.88 L286.65 59.15 L288.87 58.79 L291.05 58.32 L293.23 57.58 L295.43 56.79 L297.67 55.46 L300 54.57 L302.5 53.37 L305.19 52.36 L307.98 50.8 L310.77 49.21 L313.46 47.74 L315.96 46.14 L318.17 44.94 L320 43.89 L321.4 43.13 L322.43 42.31 L323.18 41.82 L323.74 41.66 L324.18 41.69 L324.6 41.5 L325.07 41.13 L325.69 40.71 L325.69 27.3" stroke="#626262" stroke-width="0.85" fill="none" stroke-linejoin="round"/>
<path d="M238 56 L238.07 55.36 L238.13 54.71 L238.19 54.06 L238.26 53.41 L238.32 52.77 L238.4 52.14 L238.49 51.55 L238.6 51 L238.73 50.48 L238.87 49.99 L239.02 49.52 L239.19 49.08 L239.36 48.66 L239.54 48.26 L239.72 47.87 L239.9 47.5 L240.08 47.15 L240.26 46.82 L240.45 46.52 L240.64 46.23 L240.84 45.96 L241.04 45.7 L241.26 45.45 L241.5 45.2 L241.73 44.97 L241.96 44.76 L242.18 44.57 L242.42 44.38 L242.69 44.2 L243 44.01 L243.37 43.81 L243.8 43.6 L244.3 43.36 L244.87 43.11 L245.48 42.85 L246.14 42.58 L246.83 42.32 L247.54 42.06 L248.27 41.82 L249 41.6 L249.75 41.41 L250.53 41.11 L251.34 40.88 L252.17 40.88 L253.01 41.16 L253.84 41.46 L254.68 41.14 L255.5 41.01 L256.31 40.94 L257.12 39.96 L257.94 39.41 L258.75 39.11 L259.56 39.04 L260.38 38.76 L261.19 38.67 L262 39.42 L262.81 39.15 L263.6 38.12 L264.39 37.56 L265.19 37.77 L265.99 37.68 L266.8 37.54 L267.64 37.51 L268.5 37.67 L269.4 38.49 L270.34 38.67 L271.31 38.81 L272.28 37.83 L273.25 38.35 L274.21 38.3 L275.13 37.41 L276 36.15 L276.74 35.58 L277.32 35.54 L277.83 35.41 L278.34 35.39 L278.94 35.5 L279.69 35.06 L280.69 35.16 L282 34.32 L283.66 34.65 L285.61 34.06 L287.78 34.57 L290.12 32.92 L292.58 33.33 L295.08 32.16 L297.57 32.48 L300 31.73 L302.49 31.88 L305.14 31.72 L307.88 30.13 L310.62 29.84 L313.29 29.74 L315.8 30.63 L318.06 30.38 L320 30.11 L321.57 29.78 L322.84 29.43 L323.88 28.85 L324.75 29.35 L325.53 29.14 L326.28 29.84 L327.08 28.9 L328 29.09 L328 27.3" stroke="#626262" stroke-width="1.05" fill="none" stroke-linejoin="round"/>
<path d="M238.3 62 L238.36 61.43 L238.4 60.85 L238.45 60.27 L238.49 59.69 L238.55 59.11 L238.61 58.55 L238.69 58.01 L238.8 57.5 L238.93 57.01 L239.07 56.53 L239.22 56.07 L239.39 55.63 L239.57 55.2 L239.77 54.79 L239.98 54.39 L240.2 54 L240.44 53.63 L240.7 53.28 L240.97 52.94 L241.25 52.62 L241.55 52.31 L241.85 52 L242.17 51.7 L242.5 51.4 L242.84 51.1 L243.19 50.81 L243.55 50.52 L243.93 50.24 L244.31 49.97 L244.7 49.71 L245.1 49.45 L245.5 49.2 L245.89 48.97 L246.27 48.75 L246.64 48.54 L247.03 48.34 L247.45 48.14 L247.9 47.93 L248.42 47.72 L249 47.5 L249.67 47.26 L250.41 47.02 L251.22 46.82 L252.06 46.75 L252.93 46.59 L253.8 45.78 L254.67 45.28 L255.5 44.55 L256.31 45.03 L257.12 44.68 L257.94 44.91 L258.75 44.14 L259.56 44.67 L260.38 43.99 L261.19 44.1 L262 44.11 L262.81 44.34 L263.6 43.87 L264.39 43.13 L265.19 43.21 L265.99 43.59 L266.8 42.67 L267.64 42.27 L268.5 41.2 L269.4 42.11 L270.34 41.82 L271.31 42.04 L272.28 41.4 L273.25 41.24 L274.21 40.77 L275.13 40.81 L276 40.4 L276.74 40.09 L277.32 39.93 L277.83 40.4 L278.34 41.25 L278.94 40.94 L279.69 40.14 L280.69 39.92 L282 40.11 L283.66 40.35 L285.61 40.24 L287.78 39.11 L290.12 38.79 L292.58 38.19 L295.08 37.55 L297.57 36.34 L300 35.41 L302.47 35.41 L305.09 35.53 L307.79 35.14 L310.5 34.56 L313.14 33.86 L315.66 33.44 L317.96 33.15 L320 32.89 L321.73 32.47 L323.2 32.02 L324.48 31.43 L325.62 31.38 L326.69 30.87 L327.73 31.21 L328.82 30.68 L330 30.51 L330 27.3" stroke="#626262" stroke-width="1.05" fill="none" stroke-linejoin="round"/>
<path d="M238.6 70 L238.67 69.23 L238.73 68.44 L238.79 67.64 L238.86 66.84 L238.92 66.07 L239 65.32 L239.09 64.63 L239.2 64 L239.32 63.45 L239.43 62.96 L239.55 62.52 L239.68 62.12 L239.84 61.73 L240.02 61.34 L240.24 60.94 L240.5 60.5 L240.8 60.02 L241.14 59.52 L241.51 59.01 L241.91 58.49 L242.34 57.98 L242.79 57.49 L243.28 57.03 L243.8 56.6 L244.31 56.22 L244.78 55.88 L245.27 55.57 L245.79 55.28 L246.4 54.98 L247.11 54.68 L247.96 54.36 L249 54 L250.24 53.61 L251.68 53.23 L253.26 52.96 L254.95 52.66 L256.71 51.88 L258.5 51.16 L260.27 50.32 L262 50.15 L263.7 49.81 L265.43 49.4 L267.18 48.79 L268.94 48.21 L270.71 47.83 L272.48 47.69 L274.24 47.22 L276 46.85 L277.74 46.41 L279.48 45.86 L281.21 45.36 L282.94 44.57 L284.68 44.25 L286.43 43.96 L288.2 43.83 L290 43.34 L291.83 42.64 L293.68 41.88 L295.55 41.22 L297.44 40.85 L299.33 40.63 L301.23 39.99 L303.12 39.15 L305 38.61 L306.9 38.12 L308.82 37.81 L310.76 36.8 L312.69 36.44 L314.59 35.84 L316.46 35.39 L318.27 34.8 L320 34.16 L321.64 33.75 L323.21 33.46 L324.72 33.22 L326.19 32.7 L327.63 32.01 L329.07 31.5 L330.52 31.22 L332 30.95 L332 27.3" stroke="#626262" stroke-width="1.05" fill="none" stroke-linejoin="round"/>
<path d="M238.4 58 L238.42 56.74 L238.44 55.48 L238.46 54.21 L238.48 52.94 L238.5 51.68 L238.53 50.43 L238.56 49.2 L238.6 48 L238.64 46.81 L238.68 45.61 L238.72 44.42 L238.77 43.25 L238.83 42.11 L238.9 41.02 L238.99 39.97 L239.1 39 L239.23 38.09 L239.37 37.24 L239.53 36.43 L239.7 35.67 L239.89 34.95 L240.1 34.27 L240.34 33.62 L240.6 33 L240.89 32.41 L241.2 31.86 L241.54 31.35 L241.89 30.88 L242.27 30.43 L242.66 30.02 L243.08 29.65 L243.5 29.3 L243.94 28.99 L244.41 28.73 L244.9 28.5 L245.4 28.3 L245.92 28.13 L246.44 27.97 L246.97 27.83 L247.5 27.7 L247.74 27.58 L247.57 27.49 L247.24 27.41 L247 27.36 L247.1 27.31 L247.8 27.27 L249.35 27.24 L252 27.2 L255.92 27.17 L260.94 27.15 L266.81 27.13 L273.28 27.12 L280.09 27.12 L286.98 27.12 L293.7 27.11 L300 27.1" stroke="#626262" stroke-width="1.05" fill="none" />
<rect x="323.17" y="37.65" width="7.21" height="5.54" fill="none" stroke="#626262" stroke-width="0.55"/>
<rect x="329.59" y="33.04" width="2.65" height="2.96" fill="none" stroke="#626262" stroke-width="0.55"/>
<rect x="322.69" y="33.32" width="4.61" height="2.69" fill="none" stroke="#626262" stroke-width="0.55"/>
<rect x="322.48" y="33.74" width="2.85" height="2.05" fill="none" stroke="#626262" stroke-width="0.55"/>
<rect x="324.38" y="36.03" width="5.95" height="4.07" fill="none" stroke="#626262" stroke-width="0.55"/>
<rect x="324.38" y="32.68" width="2.06" height="3.3" fill="none" stroke="#626262" stroke-width="0.55"/>
<rect x="328.19" y="28.92" width="5.48" height="3.77" fill="none" stroke="#626262" stroke-width="0.55"/>
<rect x="321.81" y="29.47" width="4.93" height="5.59" fill="none" stroke="#626262" stroke-width="0.55"/>
<rect x="321.85" y="33.62" width="3.71" height="3.55" fill="none" stroke="#626262" stroke-width="0.55"/>
<path d="M336.68 27.3 V38.67" stroke="#626262" stroke-width="0.55"/>
<path d="M325.83 27.3 V37.07" stroke="#626262" stroke-width="0.55"/>
<path d="M337.68 27.3 V40.81" stroke="#626262" stroke-width="0.55"/>
<path d="M328.24 27.3 V37.77" stroke="#626262" stroke-width="0.55"/>
<path d="M328.79 27.3 V34.36" stroke="#626262" stroke-width="0.55"/>
<path d="M337.45 27.3 V35.06" stroke="#626262" stroke-width="0.55"/>
<path d="M324.73 27.3 V33.99" stroke="#626262" stroke-width="0.55"/>
<path d="M337.01 27.3 V41.23" stroke="#626262" stroke-width="0.55"/>
<path d="M237.6 51.1 L237.62 50.18 L237.63 49.24 L237.64 48.3 L237.66 47.35 L237.67 46.41 L237.68 45.47 L237.7 44.56 L237.73 43.67 L237.76 42.82 L237.8 42 L237.85 41.22 L237.89 40.45 L237.94 39.72 L238 39 L238.06 38.31 L238.12 37.64 L238.2 36.99 L238.29 36.37 L238.39 35.77 L238.5 35.2 L238.62 34.65 L238.76 34.14 L238.9 33.65 L239.06 33.18 L239.22 32.74 L239.39 32.32 L239.58 31.91 L239.77 31.53 L239.98 31.16 L240.2 30.8 L240.43 30.46 L240.68 30.14 L240.93 29.85 L241.2 29.57 L241.47 29.31 L241.76 29.06 L242.06 28.83 L242.36 28.61 L242.68 28.4 L243 28.2 L243.34 28.01 L243.69 27.84 L244.06 27.68 L244.43 27.54 L244.82 27.41 L245.21 27.29 L245.59 27.18 L245.97 27.08 L246.34 26.98 L246.7 26.9 L247.01 26.83 L247.25 26.77 L247.45 26.73 L247.63 26.69 L247.83 26.67 L248.07 26.65 L248.38 26.64 L248.79 26.62 L249.32 26.61 L250 26.6 L250.85 26.59 L251.84 26.58 L252.96 26.58 L254.17 26.58 L255.46 26.58 L256.78 26.59 L258.13 26.59 L259.46 26.6 L260.76 26.6 L262 26.6 L346.6 26.6" stroke="#7a12ea" stroke-width="1.3" fill="none" />
<path d="M237.6 90.5 L237.61 89.44 L237.62 88.36 L237.63 87.27 L237.64 86.18 L237.64 85.09 L237.65 84.02 L237.66 82.97 L237.67 81.94 L237.69 80.95 L237.7 80 L237.71 79.08 L237.73 78.18 L237.74 77.29 L237.75 76.43 L237.76 75.59 L237.78 74.79 L237.8 74.03 L237.83 73.3 L237.86 72.63 L237.9 72 L237.95 71.43 L238 70.92 L238.05 70.46 L238.11 70.04 L238.18 69.66 L238.25 69.3 L238.32 68.96 L238.41 68.64 L238.5 68.32 L238.6 68 L238.71 67.69 L238.83 67.39 L238.96 67.11 L239.09 66.85 L239.23 66.61 L239.38 66.37 L239.53 66.14 L239.68 65.92 L239.84 65.71 L240 65.5 L240.16 65.3 L240.33 65.1 L240.51 64.92 L240.69 64.74 L240.87 64.57 L241.05 64.41 L241.24 64.26 L241.43 64.1 L241.61 63.95 L241.8 63.8 L241.98 63.66 L242.15 63.53 L242.32 63.4 L242.49 63.28 L242.66 63.17 L242.83 63.05 L243.02 62.93 L243.23 62.8 L243.45 62.66 L243.7 62.5 L243.97 62.33 L244.25 62.16 L244.55 61.98 L244.86 61.8 L245.19 61.61 L245.53 61.41 L245.88 61.2 L246.24 60.98 L246.62 60.74 L247 60.5 L247.4 60.24 L247.82 59.95 L248.26 59.64 L248.71 59.32 L249.18 59 L249.64 58.68 L250.11 58.36 L250.58 58.05 L251.04 57.76 L251.5 57.5 L251.94 57.26 L252.38 57.04 L252.8 56.83 L253.23 56.64 L253.66 56.45 L254.09 56.27 L254.54 56.08 L255 55.9 L255.49 55.7 L256 55.5 L256.53 55.29 L257.06 55.08 L257.61 54.88 L258.17 54.67 L258.75 54.46 L259.35 54.24 L259.97 54.02 L260.62 53.79 L261.29 53.55 L262 53.3 L262.74 53.04 L263.49 52.78 L264.27 52.51 L265.08 52.23 L265.91 51.94 L266.76 51.65 L267.65 51.35 L268.57 51.04 L269.52 50.73 L270.5 50.4 L271.5 50.07 L272.5 49.74 L273.52 49.4 L274.57 49.05 L275.66 48.69 L276.79 48.33 L277.98 47.95 L279.24 47.55 L280.57 47.13 L282 46.7 L283.56 46.24 L285.28 45.74 L287.12 45.23 L289.03 44.69 L290.98 44.15 L292.93 43.6 L294.85 43.06 L296.69 42.52 L298.42 42 L300 41.5 L301.44 41.02 L302.77 40.55 L304.03 40.09 L305.22 39.64 L306.36 39.19 L307.46 38.74 L308.54 38.31 L309.61 37.87 L310.69 37.43 L311.8 37 L312.92 36.56 L314.04 36.1 L315.15 35.63 L316.25 35.17 L317.33 34.71 L318.4 34.27 L319.46 33.85 L320.49 33.46 L321.51 33.11 L322.5 32.8 L323.47 32.53 L324.42 32.3 L325.36 32.1 L326.27 31.93 L327.17 31.79 L328.05 31.66 L328.91 31.55 L329.76 31.46 L330.59 31.38 L331.4 31.3 L332.19 31.24 L332.95 31.2 L333.68 31.19 L334.4 31.19 L335.11 31.21 L335.8 31.23 L336.49 31.25 L337.19 31.28 L337.89 31.29 L338.6 31.3 L338.6 26.8" stroke="#7a12ea" stroke-width="1.15" fill="none" />
<rect x="287.5" y="69.3" width="62.8" height="49.2" fill="#fff" stroke="#333" stroke-width="0.7"/>
<line x1="286.3" y1="114.5" x2="287.5" y2="114.5" stroke="#333" stroke-width="0.5" />
<text x="285.8" y="115.5" font-size="2.9" text-anchor="end" fill="#444" stroke="#444" stroke-width="0.06" font-family='"Liberation Sans", sans-serif' font-weight="normal" >3.0</text>
<line x1="286.3" y1="105.46" x2="287.5" y2="105.46" stroke="#333" stroke-width="0.5" />
<text x="285.8" y="106.46" font-size="2.9" text-anchor="end" fill="#444" stroke="#444" stroke-width="0.06" font-family='"Liberation Sans", sans-serif' font-weight="normal" >3.2</text>
<line x1="286.3" y1="96.42" x2="287.5" y2="96.42" stroke="#333" stroke-width="0.5" />
<text x="285.8" y="97.42" font-size="2.9" text-anchor="end" fill="#444" stroke="#444" stroke-width="0.06" font-family='"Liberation Sans", sans-serif' font-weight="normal" >3.4</text>
<line x1="286.3" y1="87.38" x2="287.5" y2="87.38" stroke="#333" stroke-width="0.5" />
<text x="285.8" y="88.38" font-size="2.9" text-anchor="end" fill="#444" stroke="#444" stroke-width="0.06" font-family='"Liberation Sans", sans-serif' font-weight="normal" >3.6</text>
<line x1="286.3" y1="78.34" x2="287.5" y2="78.34" stroke="#333" stroke-width="0.5" />
<text x="285.8" y="79.34" font-size="2.9" text-anchor="end" fill="#444" stroke="#444" stroke-width="0.06" font-family='"Liberation Sans", sans-serif' font-weight="normal" >3.8</text>
<line x1="286.3" y1="69.3" x2="287.5" y2="69.3" stroke="#333" stroke-width="0.5" />
<text x="285.8" y="70.3" font-size="2.9" text-anchor="end" fill="#444" stroke="#444" stroke-width="0.06" font-family='"Liberation Sans", sans-serif' font-weight="normal" >4.0</text>
<text x="0" y="0" font-size="2.6" text-anchor="middle" fill="#444" stroke="#444" stroke-width="0.06" font-family='"Liberation Sans", sans-serif' font-weight="normal" transform="translate(280.6 94) rotate(-90)">Voltage (V)</text>
<line x1="297" y1="118.5" x2="297" y2="119.5" stroke="#333" stroke-width="0.4" />
<line x1="308" y1="118.5" x2="308" y2="119.5" stroke="#333" stroke-width="0.4" />
<line x1="319" y1="118.5" x2="319" y2="119.5" stroke="#333" stroke-width="0.4" />
<line x1="330" y1="118.5" x2="330" y2="119.5" stroke="#333" stroke-width="0.4" />
<line x1="341" y1="118.5" x2="341" y2="119.5" stroke="#333" stroke-width="0.4" />
<rect x="298.8" y="81.0" width="40.4" height="18.1" fill="none" stroke="#8634f0" stroke-width="1.05"/>
<line x1="298.8" y1="89.8" x2="339.2" y2="89.8" stroke="#8634f0" stroke-width="1.05" />
<line x1="318.9" y1="99.1" x2="318.9" y2="109.1" stroke="#8634f0" stroke-width="1.05" />
<line x1="309" y1="109.1" x2="328.8" y2="109.1" stroke="#8634f0" stroke-width="1.05" />
<line x1="309.5" y1="80.4" x2="328.5" y2="80.4" stroke="#8634f0" stroke-width="1.05" />
<line x1="318.2" y1="92.3" x2="319.6" y2="92.3" stroke="#aaa" stroke-width="0.5" />
</g>
<rect x="42.9" y="17.1" width="136.3" height="109.4" fill="none" stroke="#141414" stroke-width="1.35"/>
<rect x="405.9" y="17.1" width="136.3" height="109.4" fill="none" stroke="#141414" stroke-width="1.35"/>
<rect x="223.5" y="17.1" width="136.5" height="109.6" fill="none" stroke="#141414" stroke-width="1.35"/>
<line x1="44.95" y1="126.5" x2="44.95" y2="128.5" stroke="#141414" stroke-width="0.9" />
<line x1="66.8" y1="126.5" x2="66.8" y2="128.5" stroke="#141414" stroke-width="0.9" />
<line x1="88.65" y1="126.5" x2="88.65" y2="128.5" stroke="#141414" stroke-width="0.9" />
<line x1="110.5" y1="126.5" x2="110.5" y2="128.5" stroke="#141414" stroke-width="0.9" />
<line x1="132.35" y1="126.5" x2="132.35" y2="128.5" stroke="#141414" stroke-width="0.9" />
<line x1="154.2" y1="126.5" x2="154.2" y2="128.5" stroke="#141414" stroke-width="0.9" />
<line x1="176.05" y1="126.5" x2="176.05" y2="128.5" stroke="#141414" stroke-width="0.9" />
<line x1="55.88" y1="126.5" x2="55.88" y2="127.7" stroke="#141414" stroke-width="0.9" />
<line x1="77.72" y1="126.5" x2="77.72" y2="127.7" stroke="#141414" stroke-width="0.9" />
<line x1="99.58" y1="126.5" x2="99.58" y2="127.7" stroke="#141414" stroke-width="0.9" />
<line x1="121.42" y1="126.5" x2="121.42" y2="127.7" stroke="#141414" stroke-width="0.9" />
<line x1="143.28" y1="126.5" x2="143.28" y2="127.7" stroke="#141414" stroke-width="0.9" />
<line x1="165.12" y1="126.5" x2="165.12" y2="127.7" stroke="#141414" stroke-width="0.9" />
<line x1="41.1" y1="22.3" x2="42.9" y2="22.3" stroke="#141414" stroke-width="0.9" />
<line x1="41.1" y1="37.17" x2="42.9" y2="37.17" stroke="#141414" stroke-width="0.9" />
<line x1="41.1" y1="52.04" x2="42.9" y2="52.04" stroke="#141414" stroke-width="0.9" />
<line x1="41.1" y1="66.91" x2="42.9" y2="66.91" stroke="#141414" stroke-width="0.9" />
<line x1="41.1" y1="81.78" x2="42.9" y2="81.78" stroke="#141414" stroke-width="0.9" />
<line x1="41.1" y1="96.65" x2="42.9" y2="96.65" stroke="#141414" stroke-width="0.9" />
<line x1="41.1" y1="111.52" x2="42.9" y2="111.52" stroke="#141414" stroke-width="0.9" />
<line x1="42" y1="17.82" x2="42.9" y2="17.82" stroke="#141414" stroke-width="0.55" />
<line x1="42" y1="32.69" x2="42.9" y2="32.69" stroke="#141414" stroke-width="0.55" />
<line x1="42" y1="30.08" x2="42.9" y2="30.08" stroke="#141414" stroke-width="0.55" />
<line x1="42" y1="28.22" x2="42.9" y2="28.22" stroke="#141414" stroke-width="0.55" />
<line x1="42" y1="26.78" x2="42.9" y2="26.78" stroke="#141414" stroke-width="0.55" />
<line x1="42" y1="25.6" x2="42.9" y2="25.6" stroke="#141414" stroke-width="0.55" />
<line x1="42" y1="24.6" x2="42.9" y2="24.6" stroke="#141414" stroke-width="0.55" />
<line x1="42" y1="23.74" x2="42.9" y2="23.74" stroke="#141414" stroke-width="0.55" />
<line x1="42" y1="22.98" x2="42.9" y2="22.98" stroke="#141414" stroke-width="0.55" />
<line x1="42" y1="47.56" x2="42.9" y2="47.56" stroke="#141414" stroke-width="0.55" />
<line x1="42" y1="44.95" x2="42.9" y2="44.95" stroke="#141414" stroke-width="0.55" />
<line x1="42" y1="43.09" x2="42.9" y2="43.09" stroke="#141414" stroke-width="0.55" />
<line x1="42" y1="41.65" x2="42.9" y2="41.65" stroke="#141414" stroke-width="0.55" />
<line x1="42" y1="40.47" x2="42.9" y2="40.47" stroke="#141414" stroke-width="0.55" />
<line x1="42" y1="39.47" x2="42.9" y2="39.47" stroke="#141414" stroke-width="0.55" />
<line x1="42" y1="38.61" x2="42.9" y2="38.61" stroke="#141414" stroke-width="0.55" />
<line x1="42" y1="37.85" x2="42.9" y2="37.85" stroke="#141414" stroke-width="0.55" />
<line x1="42" y1="62.43" x2="42.9" y2="62.43" stroke="#141414" stroke-width="0.55" />
<line x1="42" y1="59.82" x2="42.9" y2="59.82" stroke="#141414" stroke-width="0.55" />
<line x1="42" y1="57.96" x2="42.9" y2="57.96" stroke="#141414" stroke-width="0.55" />
<line x1="42" y1="56.52" x2="42.9" y2="56.52" stroke="#141414" stroke-width="0.55" />
<line x1="42" y1="55.34" x2="42.9" y2="55.34" stroke="#141414" stroke-width="0.55" />
<line x1="42" y1="54.34" x2="42.9" y2="54.34" stroke="#141414" stroke-width="0.55" />
<line x1="42" y1="53.48" x2="42.9" y2="53.48" stroke="#141414" stroke-width="0.55" />
<line x1="42" y1="52.72" x2="42.9" y2="52.72" stroke="#141414" stroke-width="0.55" />
<line x1="42" y1="77.3" x2="42.9" y2="77.3" stroke="#141414" stroke-width="0.55" />
<line x1="42" y1="74.69" x2="42.9" y2="74.69" stroke="#141414" stroke-width="0.55" />
<line x1="42" y1="72.83" x2="42.9" y2="72.83" stroke="#141414" stroke-width="0.55" />
<line x1="42" y1="71.39" x2="42.9" y2="71.39" stroke="#141414" stroke-width="0.55" />
<line x1="42" y1="70.21" x2="42.9" y2="70.21" stroke="#141414" stroke-width="0.55" />
<line x1="42" y1="69.21" x2="42.9" y2="69.21" stroke="#141414" stroke-width="0.55" />
<line x1="42" y1="68.35" x2="42.9" y2="68.35" stroke="#141414" stroke-width="0.55" />
<line x1="42" y1="67.59" x2="42.9" y2="67.59" stroke="#141414" stroke-width="0.55" />
<line x1="42" y1="92.17" x2="42.9" y2="92.17" stroke="#141414" stroke-width="0.55" />
<line x1="42" y1="89.56" x2="42.9" y2="89.56" stroke="#141414" stroke-width="0.55" />
<line x1="42" y1="87.7" x2="42.9" y2="87.7" stroke="#141414" stroke-width="0.55" />
<line x1="42" y1="86.26" x2="42.9" y2="86.26" stroke="#141414" stroke-width="0.55" />
<line x1="42" y1="85.08" x2="42.9" y2="85.08" stroke="#141414" stroke-width="0.55" />
<line x1="42" y1="84.08" x2="42.9" y2="84.08" stroke="#141414" stroke-width="0.55" />
<line x1="42" y1="83.22" x2="42.9" y2="83.22" stroke="#141414" stroke-width="0.55" />
<line x1="42" y1="82.46" x2="42.9" y2="82.46" stroke="#141414" stroke-width="0.55" />
<line x1="42" y1="107.04" x2="42.9" y2="107.04" stroke="#141414" stroke-width="0.55" />
<line x1="42" y1="104.43" x2="42.9" y2="104.43" stroke="#141414" stroke-width="0.55" />
<line x1="42" y1="102.57" x2="42.9" y2="102.57" stroke="#141414" stroke-width="0.55" />
<line x1="42" y1="101.13" x2="42.9" y2="101.13" stroke="#141414" stroke-width="0.55" />
<line x1="42" y1="99.95" x2="42.9" y2="99.95" stroke="#141414" stroke-width="0.55" />
<line x1="42" y1="98.95" x2="42.9" y2="98.95" stroke="#141414" stroke-width="0.55" />
<line x1="42" y1="98.09" x2="42.9" y2="98.09" stroke="#141414" stroke-width="0.55" />
<line x1="42" y1="97.33" x2="42.9" y2="97.33" stroke="#141414" stroke-width="0.55" />
<line x1="42" y1="121.91" x2="42.9" y2="121.91" stroke="#141414" stroke-width="0.55" />
<line x1="42" y1="119.3" x2="42.9" y2="119.3" stroke="#141414" stroke-width="0.55" />
<line x1="42" y1="117.44" x2="42.9" y2="117.44" stroke="#141414" stroke-width="0.55" />
<line x1="42" y1="116" x2="42.9" y2="116" stroke="#141414" stroke-width="0.55" />
<line x1="42" y1="114.82" x2="42.9" y2="114.82" stroke="#141414" stroke-width="0.55" />
<line x1="42" y1="113.82" x2="42.9" y2="113.82" stroke="#141414" stroke-width="0.55" />
<line x1="42" y1="112.96" x2="42.9" y2="112.96" stroke="#141414" stroke-width="0.55" />
<line x1="42" y1="112.2" x2="42.9" y2="112.2" stroke="#141414" stroke-width="0.55" />
<text x="44.35" y="135.9" font-size="7.0" text-anchor="middle" fill="#1a1a1a" stroke="#1a1a1a" stroke-width="0.15" font-family='"Liberation Sans", sans-serif' font-weight="normal" >-3</text>
<text x="66.2" y="135.9" font-size="7.0" text-anchor="middle" fill="#1a1a1a" stroke="#1a1a1a" stroke-width="0.15" font-family='"Liberation Sans", sans-serif' font-weight="normal" >-2</text>
<text x="88.05" y="135.9" font-size="7.0" text-anchor="middle" fill="#1a1a1a" stroke="#1a1a1a" stroke-width="0.15" font-family='"Liberation Sans", sans-serif' font-weight="normal" >-1</text>
<text x="110.5" y="135.9" font-size="7.0" text-anchor="middle" fill="#1a1a1a" stroke="#1a1a1a" stroke-width="0.15" font-family='"Liberation Sans", sans-serif' font-weight="normal" >0</text>
<text x="132.35" y="135.9" font-size="7.0" text-anchor="middle" fill="#1a1a1a" stroke="#1a1a1a" stroke-width="0.15" font-family='"Liberation Sans", sans-serif' font-weight="normal" >1</text>
<text x="154.2" y="135.9" font-size="7.0" text-anchor="middle" fill="#1a1a1a" stroke="#1a1a1a" stroke-width="0.15" font-family='"Liberation Sans", sans-serif' font-weight="normal" >2</text>
<text x="176.05" y="135.9" font-size="7.0" text-anchor="middle" fill="#1a1a1a" stroke="#1a1a1a" stroke-width="0.15" font-family='"Liberation Sans", sans-serif' font-weight="normal" >3</text>
<text x="27.25" y="24.82" font-size="7.0" text-anchor="start" fill="#1a1a1a" stroke="#1a1a1a" stroke-width="0.15" font-family='"Liberation Sans", sans-serif' font-weight="normal" >10<tspan font-size="4.8" dx="0.5" dy="-2.94">-2</tspan></text>
<text x="27.25" y="39.69" font-size="7.0" text-anchor="start" fill="#1a1a1a" stroke="#1a1a1a" stroke-width="0.15" font-family='"Liberation Sans", sans-serif' font-weight="normal" >10<tspan font-size="4.8" dx="0.5" dy="-2.94">-3</tspan></text>
<text x="27.25" y="54.56" font-size="7.0" text-anchor="start" fill="#1a1a1a" stroke="#1a1a1a" stroke-width="0.15" font-family='"Liberation Sans", sans-serif' font-weight="normal" >10<tspan font-size="4.8" dx="0.5" dy="-2.94">-4</tspan></text>
<text x="27.25" y="69.43" font-size="7.0" text-anchor="start" fill="#1a1a1a" stroke="#1a1a1a" stroke-width="0.15" font-family='"Liberation Sans", sans-serif' font-weight="normal" >10<tspan font-size="4.8" dx="0.5" dy="-2.94">-5</tspan></text>
<text x="27.25" y="84.3" font-size="7.0" text-anchor="start" fill="#1a1a1a" stroke="#1a1a1a" stroke-width="0.15" font-family='"Liberation Sans", sans-serif' font-weight="normal" >10<tspan font-size="4.8" dx="0.5" dy="-2.94">-6</tspan></text>
<text x="27.25" y="99.17" font-size="7.0" text-anchor="start" fill="#1a1a1a" stroke="#1a1a1a" stroke-width="0.15" font-family='"Liberation Sans", sans-serif' font-weight="normal" >10<tspan font-size="4.8" dx="0.5" dy="-2.94">-7</tspan></text>
<text x="27.25" y="114.04" font-size="7.0" text-anchor="start" fill="#1a1a1a" stroke="#1a1a1a" stroke-width="0.15" font-family='"Liberation Sans", sans-serif' font-weight="normal" >10<tspan font-size="4.8" dx="0.5" dy="-2.94">-8</tspan></text>
<text x="111.5" y="149.7" font-size="9.3" text-anchor="middle" fill="#1a1a1a" stroke="#1a1a1a" stroke-width="0.20" font-family='"Liberation Sans", sans-serif' font-weight="normal" >Voltage (V)</text>
<text x="0" y="0" font-size="9.0" text-anchor="middle" fill="#1a1a1a" stroke="#1a1a1a" stroke-width="0.20" font-family='"Liberation Sans", sans-serif' font-weight="normal" transform="translate(19 69.6) rotate(-90)">Current (A)</text>
<text transform="translate(4.2 15) scale(1.08 1)" font-size="13.2" fill="#111" font-family='"Liberation Serif", serif' font-weight="bold">(a)</text>
<line x1="408.25" y1="126.5" x2="408.25" y2="128.5" stroke="#141414" stroke-width="0.9" />
<line x1="430.1" y1="126.5" x2="430.1" y2="128.5" stroke="#141414" stroke-width="0.9" />
<line x1="451.95" y1="126.5" x2="451.95" y2="128.5" stroke="#141414" stroke-width="0.9" />
<line x1="473.8" y1="126.5" x2="473.8" y2="128.5" stroke="#141414" stroke-width="0.9" />
<line x1="495.65" y1="126.5" x2="495.65" y2="128.5" stroke="#141414" stroke-width="0.9" />
<line x1="517.5" y1="126.5" x2="517.5" y2="128.5" stroke="#141414" stroke-width="0.9" />
<line x1="539.35" y1="126.5" x2="539.35" y2="128.5" stroke="#141414" stroke-width="0.9" />
<line x1="419.18" y1="126.5" x2="419.18" y2="127.7" stroke="#141414" stroke-width="0.9" />
<line x1="441.02" y1="126.5" x2="441.02" y2="127.7" stroke="#141414" stroke-width="0.9" />
<line x1="462.88" y1="126.5" x2="462.88" y2="127.7" stroke="#141414" stroke-width="0.9" />
<line x1="484.73" y1="126.5" x2="484.73" y2="127.7" stroke="#141414" stroke-width="0.9" />
<line x1="506.58" y1="126.5" x2="506.58" y2="127.7" stroke="#141414" stroke-width="0.9" />
<line x1="528.42" y1="126.5" x2="528.42" y2="127.7" stroke="#141414" stroke-width="0.9" />
<line x1="404.4" y1="22.3" x2="406.2" y2="22.3" stroke="#141414" stroke-width="0.9" />
<line x1="404.4" y1="37.17" x2="406.2" y2="37.17" stroke="#141414" stroke-width="0.9" />
<line x1="404.4" y1="52.04" x2="406.2" y2="52.04" stroke="#141414" stroke-width="0.9" />
<line x1="404.4" y1="66.91" x2="406.2" y2="66.91" stroke="#141414" stroke-width="0.9" />
<line x1="404.4" y1="81.78" x2="406.2" y2="81.78" stroke="#141414" stroke-width="0.9" />
<line x1="404.4" y1="96.65" x2="406.2" y2="96.65" stroke="#141414" stroke-width="0.9" />
<line x1="404.4" y1="111.52" x2="406.2" y2="111.52" stroke="#141414" stroke-width="0.9" />
<line x1="405.3" y1="17.82" x2="406.2" y2="17.82" stroke="#141414" stroke-width="0.55" />
<line x1="405.3" y1="32.69" x2="406.2" y2="32.69" stroke="#141414" stroke-width="0.55" />
<line x1="405.3" y1="30.08" x2="406.2" y2="30.08" stroke="#141414" stroke-width="0.55" />
<line x1="405.3" y1="28.22" x2="406.2" y2="28.22" stroke="#141414" stroke-width="0.55" />
<line x1="405.3" y1="26.78" x2="406.2" y2="26.78" stroke="#141414" stroke-width="0.55" />
<line x1="405.3" y1="25.6" x2="406.2" y2="25.6" stroke="#141414" stroke-width="0.55" />
<line x1="405.3" y1="24.6" x2="406.2" y2="24.6" stroke="#141414" stroke-width="0.55" />
<line x1="405.3" y1="23.74" x2="406.2" y2="23.74" stroke="#141414" stroke-width="0.55" />
<line x1="405.3" y1="22.98" x2="406.2" y2="22.98" stroke="#141414" stroke-width="0.55" />
<line x1="405.3" y1="47.56" x2="406.2" y2="47.56" stroke="#141414" stroke-width="0.55" />
<line x1="405.3" y1="44.95" x2="406.2" y2="44.95" stroke="#141414" stroke-width="0.55" />
<line x1="405.3" y1="43.09" x2="406.2" y2="43.09" stroke="#141414" stroke-width="0.55" />
<line x1="405.3" y1="41.65" x2="406.2" y2="41.65" stroke="#141414" stroke-width="0.55" />
<line x1="405.3" y1="40.47" x2="406.2" y2="40.47" stroke="#141414" stroke-width="0.55" />
<line x1="405.3" y1="39.47" x2="406.2" y2="39.47" stroke="#141414" stroke-width="0.55" />
<line x1="405.3" y1="38.61" x2="406.2" y2="38.61" stroke="#141414" stroke-width="0.55" />
<line x1="405.3" y1="37.85" x2="406.2" y2="37.85" stroke="#141414" stroke-width="0.55" />
<line x1="405.3" y1="62.43" x2="406.2" y2="62.43" stroke="#141414" stroke-width="0.55" />
<line x1="405.3" y1="59.82" x2="406.2" y2="59.82" stroke="#141414" stroke-width="0.55" />
<line x1="405.3" y1="57.96" x2="406.2" y2="57.96" stroke="#141414" stroke-width="0.55" />
<line x1="405.3" y1="56.52" x2="406.2" y2="56.52" stroke="#141414" stroke-width="0.55" />
<line x1="405.3" y1="55.34" x2="406.2" y2="55.34" stroke="#141414" stroke-width="0.55" />
<line x1="405.3" y1="54.34" x2="406.2" y2="54.34" stroke="#141414" stroke-width="0.55" />
<line x1="405.3" y1="53.48" x2="406.2" y2="53.48" stroke="#141414" stroke-width="0.55" />
<line x1="405.3" y1="52.72" x2="406.2" y2="52.72" stroke="#141414" stroke-width="0.55" />
<line x1="405.3" y1="77.3" x2="406.2" y2="77.3" stroke="#141414" stroke-width="0.55" />
<line x1="405.3" y1="74.69" x2="406.2" y2="74.69" stroke="#141414" stroke-width="0.55" />
<line x1="405.3" y1="72.83" x2="406.2" y2="72.83" stroke="#141414" stroke-width="0.55" />
<line x1="405.3" y1="71.39" x2="406.2" y2="71.39" stroke="#141414" stroke-width="0.55" />
<line x1="405.3" y1="70.21" x2="406.2" y2="70.21" stroke="#141414" stroke-width="0.55" />
<line x1="405.3" y1="69.21" x2="406.2" y2="69.21" stroke="#141414" stroke-width="0.55" />
<line x1="405.3" y1="68.35" x2="406.2" y2="68.35" stroke="#141414" stroke-width="0.55" />
<line x1="405.3" y1="67.59" x2="406.2" y2="67.59" stroke="#141414" stroke-width="0.55" />
<line x1="405.3" y1="92.17" x2="406.2" y2="92.17" stroke="#141414" stroke-width="0.55" />
<line x1="405.3" y1="89.56" x2="406.2" y2="89.56" stroke="#141414" stroke-width="0.55" />
<line x1="405.3" y1="87.7" x2="406.2" y2="87.7" stroke="#141414" stroke-width="0.55" />
<line x1="405.3" y1="86.26" x2="406.2" y2="86.26" stroke="#141414" stroke-width="0.55" />
<line x1="405.3" y1="85.08" x2="406.2" y2="85.08" stroke="#141414" stroke-width="0.55" />
<line x1="405.3" y1="84.08" x2="406.2" y2="84.08" stroke="#141414" stroke-width="0.55" />
<line x1="405.3" y1="83.22" x2="406.2" y2="83.22" stroke="#141414" stroke-width="0.55" />
<line x1="405.3" y1="82.46" x2="406.2" y2="82.46" stroke="#141414" stroke-width="0.55" />
<line x1="405.3" y1="107.04" x2="406.2" y2="107.04" stroke="#141414" stroke-width="0.55" />
<line x1="405.3" y1="104.43" x2="406.2" y2="104.43" stroke="#141414" stroke-width="0.55" />
<line x1="405.3" y1="102.57" x2="406.2" y2="102.57" stroke="#141414" stroke-width="0.55" />
<line x1="405.3" y1="101.13" x2="406.2" y2="101.13" stroke="#141414" stroke-width="0.55" />
<line x1="405.3" y1="99.95" x2="406.2" y2="99.95" stroke="#141414" stroke-width="0.55" />
<line x1="405.3" y1="98.95" x2="406.2" y2="98.95" stroke="#141414" stroke-width="0.55" />
<line x1="405.3" y1="98.09" x2="406.2" y2="98.09" stroke="#141414" stroke-width="0.55" />
<line x1="405.3" y1="97.33" x2="406.2" y2="97.33" stroke="#141414" stroke-width="0.55" />
<line x1="405.3" y1="121.91" x2="406.2" y2="121.91" stroke="#141414" stroke-width="0.55" />
<line x1="405.3" y1="119.3" x2="406.2" y2="119.3" stroke="#141414" stroke-width="0.55" />
<line x1="405.3" y1="117.44" x2="406.2" y2="117.44" stroke="#141414" stroke-width="0.55" />
<line x1="405.3" y1="116" x2="406.2" y2="116" stroke="#141414" stroke-width="0.55" />
<line x1="405.3" y1="114.82" x2="406.2" y2="114.82" stroke="#141414" stroke-width="0.55" />
<line x1="405.3" y1="113.82" x2="406.2" y2="113.82" stroke="#141414" stroke-width="0.55" />
<line x1="405.3" y1="112.96" x2="406.2" y2="112.96" stroke="#141414" stroke-width="0.55" />
<line x1="405.3" y1="112.2" x2="406.2" y2="112.2" stroke="#141414" stroke-width="0.55" />
<text x="407.65" y="135.9" font-size="7.0" text-anchor="middle" fill="#1a1a1a" stroke="#1a1a1a" stroke-width="0.15" font-family='"Liberation Sans", sans-serif' font-weight="normal" >-3</text>
<text x="429.5" y="135.9" font-size="7.0" text-anchor="middle" fill="#1a1a1a" stroke="#1a1a1a" stroke-width="0.15" font-family='"Liberation Sans", sans-serif' font-weight="normal" >-2</text>
<text x="451.35" y="135.9" font-size="7.0" text-anchor="middle" fill="#1a1a1a" stroke="#1a1a1a" stroke-width="0.15" font-family='"Liberation Sans", sans-serif' font-weight="normal" >-1</text>
<text x="473.8" y="135.9" font-size="7.0" text-anchor="middle" fill="#1a1a1a" stroke="#1a1a1a" stroke-width="0.15" font-family='"Liberation Sans", sans-serif' font-weight="normal" >0</text>
<text x="495.65" y="135.9" font-size="7.0" text-anchor="middle" fill="#1a1a1a" stroke="#1a1a1a" stroke-width="0.15" font-family='"Liberation Sans", sans-serif' font-weight="normal" >1</text>
<text x="517.5" y="135.9" font-size="7.0" text-anchor="middle" fill="#1a1a1a" stroke="#1a1a1a" stroke-width="0.15" font-family='"Liberation Sans", sans-serif' font-weight="normal" >2</text>
<text x="539.35" y="135.9" font-size="7.0" text-anchor="middle" fill="#1a1a1a" stroke="#1a1a1a" stroke-width="0.15" font-family='"Liberation Sans", sans-serif' font-weight="normal" >3</text>
<text x="390.55" y="24.82" font-size="7.0" text-anchor="start" fill="#1a1a1a" stroke="#1a1a1a" stroke-width="0.15" font-family='"Liberation Sans", sans-serif' font-weight="normal" >10<tspan font-size="4.8" dx="0.5" dy="-2.94">-2</tspan></text>
<text x="390.55" y="39.69" font-size="7.0" text-anchor="start" fill="#1a1a1a" stroke="#1a1a1a" stroke-width="0.15" font-family='"Liberation Sans", sans-serif' font-weight="normal" >10<tspan font-size="4.8" dx="0.5" dy="-2.94">-3</tspan></text>
<text x="390.55" y="54.56" font-size="7.0" text-anchor="start" fill="#1a1a1a" stroke="#1a1a1a" stroke-width="0.15" font-family='"Liberation Sans", sans-serif' font-weight="normal" >10<tspan font-size="4.8" dx="0.5" dy="-2.94">-4</tspan></text>
<text x="390.55" y="69.43" font-size="7.0" text-anchor="start" fill="#1a1a1a" stroke="#1a1a1a" stroke-width="0.15" font-family='"Liberation Sans", sans-serif' font-weight="normal" >10<tspan font-size="4.8" dx="0.5" dy="-2.94">-5</tspan></text>
<text x="390.55" y="84.3" font-size="7.0" text-anchor="start" fill="#1a1a1a" stroke="#1a1a1a" stroke-width="0.15" font-family='"Liberation Sans", sans-serif' font-weight="normal" >10<tspan font-size="4.8" dx="0.5" dy="-2.94">-6</tspan></text>
<text x="390.55" y="99.17" font-size="7.0" text-anchor="start" fill="#1a1a1a" stroke="#1a1a1a" stroke-width="0.15" font-family='"Liberation Sans", sans-serif' font-weight="normal" >10<tspan font-size="4.8" dx="0.5" dy="-2.94">-7</tspan></text>
<text x="390.55" y="114.04" font-size="7.0" text-anchor="start" fill="#1a1a1a" stroke="#1a1a1a" stroke-width="0.15" font-family='"Liberation Sans", sans-serif' font-weight="normal" >10<tspan font-size="4.8" dx="0.5" dy="-2.94">-8</tspan></text>
<text x="474.8" y="149.7" font-size="9.3" text-anchor="middle" fill="#1a1a1a" stroke="#1a1a1a" stroke-width="0.20" font-family='"Liberation Sans", sans-serif' font-weight="normal" >Voltage (V)</text>
<text x="0" y="0" font-size="9.0" text-anchor="middle" fill="#1a1a1a" stroke="#1a1a1a" stroke-width="0.20" font-family='"Liberation Sans", sans-serif' font-weight="normal" transform="translate(383.2 70.2) rotate(-90)">Current (A)</text>
<text transform="translate(367.2 15) scale(1.08 1)" font-size="13.2" fill="#111" font-family='"Liberation Serif", serif' font-weight="bold">(c)</text>
<line x1="237.6" y1="126.7" x2="237.6" y2="128.7" stroke="#141414" stroke-width="0.9" />
<line x1="264.8" y1="126.7" x2="264.8" y2="128.7" stroke="#141414" stroke-width="0.9" />
<line x1="292" y1="126.7" x2="292" y2="128.7" stroke="#141414" stroke-width="0.9" />
<line x1="319.2" y1="126.7" x2="319.2" y2="128.7" stroke="#141414" stroke-width="0.9" />
<line x1="346.4" y1="126.7" x2="346.4" y2="128.7" stroke="#141414" stroke-width="0.9" />
<line x1="251.2" y1="126.7" x2="251.2" y2="127.9" stroke="#141414" stroke-width="0.9" />
<line x1="278.4" y1="126.7" x2="278.4" y2="127.9" stroke="#141414" stroke-width="0.9" />
<line x1="305.6" y1="126.7" x2="305.6" y2="127.9" stroke="#141414" stroke-width="0.9" />
<line x1="332.8" y1="126.7" x2="332.8" y2="127.9" stroke="#141414" stroke-width="0.9" />
<line x1="224" y1="126.7" x2="224" y2="127.9" stroke="#141414" stroke-width="0.9" />
<line x1="221.7" y1="27.9" x2="223.5" y2="27.9" stroke="#141414" stroke-width="0.9" />
<line x1="221.7" y1="47.66" x2="223.5" y2="47.66" stroke="#141414" stroke-width="0.9" />
<line x1="221.7" y1="67.42" x2="223.5" y2="67.42" stroke="#141414" stroke-width="0.9" />
<line x1="221.7" y1="87.18" x2="223.5" y2="87.18" stroke="#141414" stroke-width="0.9" />
<line x1="221.7" y1="106.94" x2="223.5" y2="106.94" stroke="#141414" stroke-width="0.9" />
<line x1="221.7" y1="126.7" x2="223.5" y2="126.7" stroke="#141414" stroke-width="0.9" />
<line x1="222.3" y1="18.02" x2="223.5" y2="18.02" stroke="#141414" stroke-width="0.9" />
<line x1="222.3" y1="37.78" x2="223.5" y2="37.78" stroke="#141414" stroke-width="0.9" />
<line x1="222.3" y1="57.54" x2="223.5" y2="57.54" stroke="#141414" stroke-width="0.9" />
<line x1="222.3" y1="77.3" x2="223.5" y2="77.3" stroke="#141414" stroke-width="0.9" />
<line x1="222.3" y1="97.06" x2="223.5" y2="97.06" stroke="#141414" stroke-width="0.9" />
<line x1="222.3" y1="116.82" x2="223.5" y2="116.82" stroke="#141414" stroke-width="0.9" />
<text x="237.6" y="135.9" font-size="7.0" text-anchor="middle" fill="#1a1a1a" stroke="#1a1a1a" stroke-width="0.15" font-family='"Liberation Sans", sans-serif' font-weight="normal" >0</text>
<text x="264.8" y="135.9" font-size="7.0" text-anchor="middle" fill="#1a1a1a" stroke="#1a1a1a" stroke-width="0.15" font-family='"Liberation Sans", sans-serif' font-weight="normal" >1</text>
<text x="292" y="135.9" font-size="7.0" text-anchor="middle" fill="#1a1a1a" stroke="#1a1a1a" stroke-width="0.15" font-family='"Liberation Sans", sans-serif' font-weight="normal" >2</text>
<text x="319.2" y="135.9" font-size="7.0" text-anchor="middle" fill="#1a1a1a" stroke="#1a1a1a" stroke-width="0.15" font-family='"Liberation Sans", sans-serif' font-weight="normal" >3</text>
<text x="346.4" y="135.9" font-size="7.0" text-anchor="middle" fill="#1a1a1a" stroke="#1a1a1a" stroke-width="0.15" font-family='"Liberation Sans", sans-serif' font-weight="normal" >4</text>
<text x="207.85" y="30.42" font-size="7.0" text-anchor="start" fill="#1a1a1a" stroke="#1a1a1a" stroke-width="0.15" font-family='"Liberation Sans", sans-serif' font-weight="normal" >10<tspan font-size="4.8" dx="0.5" dy="-2.94">-3</tspan></text>
<text x="207.85" y="50.18" font-size="7.0" text-anchor="start" fill="#1a1a1a" stroke="#1a1a1a" stroke-width="0.15" font-family='"Liberation Sans", sans-serif' font-weight="normal" >10<tspan font-size="4.8" dx="0.5" dy="-2.94">-5</tspan></text>
<text x="207.85" y="69.94" font-size="7.0" text-anchor="start" fill="#1a1a1a" stroke="#1a1a1a" stroke-width="0.15" font-family='"Liberation Sans", sans-serif' font-weight="normal" >10<tspan font-size="4.8" dx="0.5" dy="-2.94">-7</tspan></text>
<text x="207.85" y="89.7" font-size="7.0" text-anchor="start" fill="#1a1a1a" stroke="#1a1a1a" stroke-width="0.15" font-family='"Liberation Sans", sans-serif' font-weight="normal" >10<tspan font-size="4.8" dx="0.5" dy="-2.94">-9</tspan></text>
<text x="205.18" y="109.46" font-size="7.0" text-anchor="start" fill="#1a1a1a" stroke="#1a1a1a" stroke-width="0.15" font-family='"Liberation Sans", sans-serif' font-weight="normal" >10<tspan font-size="4.8" dx="0.5" dy="-2.94">-11</tspan></text>
<text x="205.18" y="129.22" font-size="7.0" text-anchor="start" fill="#1a1a1a" stroke="#1a1a1a" stroke-width="0.15" font-family='"Liberation Sans", sans-serif' font-weight="normal" >10<tspan font-size="4.8" dx="0.5" dy="-2.94">-13</tspan></text>
<text x="292" y="149.7" font-size="9.3" text-anchor="middle" fill="#1a1a1a" stroke="#1a1a1a" stroke-width="0.20" font-family='"Liberation Sans", sans-serif' font-weight="normal" >Voltage (V)</text>
<text x="0" y="0" font-size="9.0" text-anchor="middle" fill="#1a1a1a" stroke="#1a1a1a" stroke-width="0.20" font-family='"Liberation Sans", sans-serif' font-weight="normal" transform="translate(198.5 70.1) rotate(-90)">Current (A)</text>
<text transform="translate(185.8 15) scale(1.08 1)" font-size="13.2" fill="#111" font-family='"Liberation Serif", serif' font-weight="bold">(b)</text>
<line x1="53.7" y1="67.7" x2="53.7" y2="47.5" stroke="#161616" stroke-width="1.1" />
<path d="M53.7 44 L55.1 47.6 L52.3 47.6 Z" fill="#161616"/>
<path d="M97.9 106.4 L97.47 105.9 L97.05 105.4 L96.64 104.88 L96.22 104.37 L95.81 103.85 L95.4 103.33 L94.99 102.81 L94.58 102.3 L94.16 101.79 L93.74 101.29 L93.31 100.79 L92.87 100.31 L92.42 99.83 L91.96 99.37 L91.49 98.93 L91 98.5 L90.5 98.09 L89.98 97.69 L89.46 97.29 L88.92 96.91 L88.38 96.54 L87.82 96.18 L87.26 95.83 L86.69 95.49 L86.12 95.15 L85.54 94.83 L84.96 94.51 L84.37 94.19 L83.78 93.89 L83.19 93.58 L82.59 93.29 L82 93 L81.4 92.72 L80.78 92.44 L80.15 92.18 L79.5 91.92 L78.85 91.67 L78.2 91.43 L77.54 91.19 L76.89 90.96 L76.24 90.74 L75.59 90.52 L74.95 90.31 L74.33 90.1 L73.72 89.89 L73.12 89.69 L72.55 89.49 L72 89.3 L71.47 89.11 L70.97 88.93 L70.48 88.76 L70 88.59 L69.54 88.43 L69.09 88.27 L68.66 88.12 L68.23 87.97" stroke="#161616" stroke-width="1.1" fill="none" stroke-linecap="butt"/>
<path d="M64.8 86.8 L68.47 86.58 L67.56 89.23 Z" fill="#161616"/>
<path d="M131 26.3 L131.37 26.17 L131.74 26.03 L132.11 25.89 L132.47 25.75 L132.83 25.6 L133.19 25.46 L133.55 25.32 L133.91 25.18 L134.28 25.04 L134.65 24.9 L135.02 24.77 L135.4 24.64 L135.79 24.52 L136.18 24.41 L136.59 24.3 L137 24.2 L137.43 24.11 L137.87 24.02 L138.32 23.93 L138.78 23.85 L139.25 23.77 L139.73 23.7 L140.21 23.63 L140.69 23.56 L141.18 23.5 L141.66 23.45 L142.14 23.41 L142.61 23.37 L143.07 23.34 L143.53 23.32 L143.97 23.3 L144.4 23.3 L144.82 23.3 L145.24 23.31 L145.66 23.33 L146.08 23.35 L146.49 23.38 L146.9 23.42 L147.3 23.47 L147.69 23.52 L148.08 23.58 L148.46 23.64 L148.83 23.72 L149.19 23.8 L149.54 23.89 L149.87 23.98 L150.19 24.09 L150.5 24.2 L150.79 24.32 L151.08 24.45 L151.35 24.59 L151.61 24.74 L151.86 24.89 L152.1 25.06 L152.33 25.23 L152.55 25.41 L152.76 25.59 L152.96 25.78 L153.16 25.97 L153.34 26.17 L153.52 26.37 L153.69 26.58 L153.85 26.79 L154 27 L154.14 27.21 L154.27 27.43 L154.39 27.66 L154.5 27.89 L154.6 28.12 L154.69 28.36 L154.77 28.6 L154.85 28.85 L154.92 29.1 L154.98 29.36 L155.04 29.62 L155.1 29.89 L155.15 30.16 L155.2 30.43 L155.25 30.71 L155.3 31 L155.35 31.29 L155.39 31.59 L155.42 31.9 L155.45 32.22 L155.47 32.54" stroke="#161616" stroke-width="1.1" fill="none" stroke-linecap="butt"/>
<path d="M155.6 36.2 L154.08 32.85 L156.88 32.75 Z" fill="#161616"/>
<path d="M158.3 69.2 L157.78 69.34 L157.26 69.48 L156.74 69.62 L156.22 69.75 L155.7 69.89 L155.18 70.02 L154.66 70.16 L154.14 70.29 L153.62 70.43 L153.1 70.57 L152.58 70.71 L152.06 70.86 L151.54 71.01 L151.03 71.17 L150.51 71.33 L150 71.5 L149.49 71.67 L148.97 71.85 L148.45 72.03 L147.93 72.21 L147.41 72.4 L146.9 72.59 L146.38 72.78 L145.86 72.98 L145.35 73.18 L144.84 73.38 L144.34 73.59 L143.84 73.8 L143.34 74.02 L142.85 74.24 L142.37 74.47 L141.9 74.7 L141.43 74.94 L140.96 75.18 L140.5 75.43 L140.03 75.68 L139.57 75.93 L139.12 76.19 L138.67 76.46 L138.23 76.72 L137.79 77 L137.36 77.27 L136.94 77.55 L136.53 77.84 L136.13 78.12 L135.74 78.41 L135.36 78.7 L135 79 L134.65 79.3 L134.32 79.61 L134.01 79.92 L133.71 80.24 L133.42 80.56 L133.14 80.88 L132.87 81.21" stroke="#161616" stroke-width="1.25" fill="none" stroke-linecap="butt"/>
<path d="M130.5 84.2 L131.51 80.67 L133.71 82.4 Z" fill="#161616"/>
<line x1="431.7" y1="60.2" x2="431.7" y2="46.5" stroke="#161616" stroke-width="1.1" />
<path d="M431.7 43 L433.1 46.6 L430.3 46.6 Z" fill="#161616"/>
<path d="M462.4 88.1 L462 87.68 L461.6 87.26 L461.21 86.84 L460.81 86.41 L460.42 85.98 L460.03 85.55 L459.63 85.13 L459.24 84.7 L458.84 84.28 L458.44 83.86 L458.04 83.44 L457.64 83.04 L457.24 82.64 L456.83 82.25 L456.42 81.87 L456 81.5 L455.58 81.14 L455.17 80.79 L454.77 80.44 L454.36 80.1 L453.96 79.76 L453.55 79.43 L453.14 79.11 L452.73 78.79 L452.3 78.48 L451.87 78.18 L451.43 77.88 L450.97 77.59 L450.51 77.31 L450.02 77.03 L449.52 76.76 L449 76.5 L448.46 76.25 L447.89 76.01 L447.31 75.78 L446.71 75.56 L446.1 75.34 L445.47 75.14 L444.83 74.94 L444.19 74.74 L443.54 74.55 L442.88 74.36" stroke="#161616" stroke-width="1.1" fill="none" stroke-linecap="butt"/>
<path d="M439 73.2 L442.66 72.83 L441.86 75.52 Z" fill="#161616"/>
<path d="M484.9 32 L485.18 31.77 L485.47 31.54 L485.74 31.3 L486.02 31.06 L486.29 30.81 L486.56 30.57 L486.84 30.32 L487.11 30.08 L487.39 29.84 L487.67 29.61 L487.96 29.38 L488.25 29.17 L488.55 28.96 L488.86 28.76 L489.17 28.57 L489.5 28.4 L489.84 28.24 L490.18 28.08 L490.54 27.94 L490.9 27.8 L491.27 27.66 L491.65 27.54 L492.03 27.42 L492.41 27.31 L492.8 27.21 L493.19 27.11 L493.58 27.03 L493.97 26.95 L494.36 26.87 L494.74 26.81 L495.12 26.75 L495.5 26.7 L495.88 26.66 L496.27 26.62 L496.66 26.6 L497.05 26.58 L497.45 26.57 L497.85 26.56 L498.25 26.56 L498.64 26.57 L499.03 26.59 L499.42 26.62 L499.79 26.65 L500.16 26.69 L500.52 26.73 L500.86 26.78 L501.19 26.84 L501.5 26.9 L501.8 26.97 L502.09 27.04 L502.37 27.11 L502.64 27.19 L502.9 27.27 L503.15 27.36 L503.4 27.46 L503.63 27.56 L503.86 27.68 L504.07 27.8 L504.28 27.94 L504.48 28.08 L504.68 28.24 L504.86 28.41 L505.03 28.6 L505.2 28.8 L505.35 29.02 L505.49 29.26 L505.62 29.52 L505.73 29.8 L505.83 30.09" stroke="#161616" stroke-width="1.1" fill="none" stroke-linecap="butt"/>
<path d="M506.7 33.6 L504.52 30.64 L507.24 29.96 Z" fill="#161616"/>
<path d="M502.2 59.2 L501.87 59.28 L501.55 59.36 L501.22 59.44 L500.9 59.51 L500.57 59.58 L500.24 59.65 L499.91 59.73 L499.59 59.8 L499.26 59.88 L498.94 59.96 L498.61 60.04 L498.29 60.14 L497.96 60.24 L497.64 60.35 L497.32 60.47 L497 60.6 L496.68 60.74 L496.36 60.89 L496.03 61.04 L495.7 61.2 L495.38 61.37 L495.05 61.55 L494.72 61.73 L494.4 61.91 L494.08 62.1 L493.76 62.3 L493.45 62.51 L493.15 62.71 L492.85 62.93 L492.56 63.15 L492.27 63.37 L492 63.6 L491.74 63.84 L491.48 64.08 L491.24 64.34 L491 64.6 L490.77 64.87 L490.55 65.15" stroke="#161616" stroke-width="1.1" fill="none" stroke-linecap="butt"/>
<path d="M488.4 68 L489.33 64.44 L491.56 66.13 Z" fill="#161616"/>
<text x="0" y="0" font-size="6.15" text-anchor="start" fill="#111" stroke="#111" stroke-width="0.14" font-family='"Liberation Sans", sans-serif' font-weight="normal" transform="translate(46.9 24.5) scale(1 1.07)">Before positive soft breakdown</text>
<text x="0" y="0" font-size="6.2" text-anchor="start" fill="#111" stroke="#111" stroke-width="0.14" font-family='"Liberation Sans", sans-serif' font-weight="normal" transform="translate(409.3 24.2) scale(1 1.07)">After positive soft breakdown</text>
<text x="155.5" y="43.8" font-size="5.5" text-anchor="start" fill="#555" stroke="#555" stroke-width="0.12" font-family='"Liberation Sans", sans-serif' font-weight="normal" >RESET</text>
<text x="511.8" y="37" font-size="5.6" text-anchor="start" fill="#555" stroke="#555" stroke-width="0.12" font-family='"Liberation Sans", sans-serif' font-weight="normal" >RESET</text>
<text x="46.9" y="81.6" font-size="5.8" text-anchor="start" fill="#555" stroke="#555" stroke-width="0.13" font-family='"Liberation Sans", sans-serif' font-weight="normal" >SET</text>
<text x="422" y="71.9" font-size="5.6" text-anchor="start" fill="#555" stroke="#555" stroke-width="0.12" font-family='"Liberation Sans", sans-serif' font-weight="normal" >SET</text>
<clipPath id="cd"><rect x="117" y="160" width="150.5" height="120"/></clipPath><g clip-path="url(#cd)">
<rect x="132.79" y="268.83" width="7.62" height="9.57" fill="url(#hb)" stroke="#3a3aff" stroke-width="0.95"/>
<rect x="140.41" y="233.74" width="7.62" height="44.66" fill="url(#hb)" stroke="#3a3aff" stroke-width="0.95"/>
<rect x="148.03" y="236.93" width="7.62" height="41.47" fill="url(#hb)" stroke="#3a3aff" stroke-width="0.95"/>
<rect x="155.65" y="179.51" width="7.62" height="98.89" fill="url(#hb)" stroke="#3a3aff" stroke-width="0.95"/>
<rect x="163.27" y="246.5" width="7.62" height="31.9" fill="url(#hb)" stroke="#3a3aff" stroke-width="0.95"/>
<rect x="170.89" y="227.36" width="7.62" height="51.04" fill="url(#hb)" stroke="#3a3aff" stroke-width="0.95"/>
<rect x="178.51" y="249.69" width="7.62" height="28.71" fill="url(#hb)" stroke="#3a3aff" stroke-width="0.95"/>
<rect x="186.13" y="268.83" width="7.62" height="9.57" fill="url(#hb)" stroke="#3a3aff" stroke-width="0.95"/>
<rect x="216.61" y="275.21" width="7.62" height="3.19" fill="url(#hb)" stroke="#3a3aff" stroke-width="0.95"/>
<rect x="186.13" y="265.64" width="7.62" height="12.76" fill="url(#hr)" stroke="#ff3535" stroke-width="0.95"/>
<rect x="193.75" y="256.07" width="7.62" height="22.33" fill="url(#hr)" stroke="#ff3535" stroke-width="0.95"/>
<rect x="201.37" y="211.41" width="7.62" height="66.99" fill="url(#hr)" stroke="#ff3535" stroke-width="0.95"/>
<rect x="208.99" y="224.17" width="7.62" height="54.23" fill="url(#hr)" stroke="#ff3535" stroke-width="0.95"/>
<rect x="216.61" y="236.93" width="7.62" height="41.47" fill="url(#hr)" stroke="#ff3535" stroke-width="0.95"/>
<rect x="224.23" y="220.98" width="7.62" height="57.42" fill="url(#hr)" stroke="#ff3535" stroke-width="0.95"/>
<rect x="231.85" y="233.74" width="7.62" height="44.66" fill="url(#hr)" stroke="#ff3535" stroke-width="0.95"/>
<rect x="239.47" y="265.64" width="7.62" height="12.76" fill="url(#hr)" stroke="#ff3535" stroke-width="0.95"/>
<rect x="254.71" y="275.21" width="7.62" height="3.19" fill="url(#hr)" stroke="#ff3535" stroke-width="0.95"/>
<rect x="262.33" y="275.21" width="7.62" height="3.19" fill="url(#hr)" stroke="#ff3535" stroke-width="0.95"/>
<line x1="186.13" y1="268.83" x2="193.75" y2="268.83" stroke="#3a3aff" stroke-width="0.95" />
<line x1="216.61" y1="275.21" x2="224.23" y2="275.21" stroke="#3a3aff" stroke-width="0.95" />
</g>
<rect x="117.3" y="166.9" width="150.2" height="111.5" fill="none" stroke="#3c3c3c" stroke-width="1.3"/>
<line x1="125.17" y1="278.4" x2="125.17" y2="280.6" stroke="#141414" stroke-width="0.9" />
<line x1="148.03" y1="278.4" x2="148.03" y2="280.6" stroke="#141414" stroke-width="0.9" />
<line x1="170.89" y1="278.4" x2="170.89" y2="280.6" stroke="#141414" stroke-width="0.9" />
<line x1="193.75" y1="278.4" x2="193.75" y2="280.6" stroke="#141414" stroke-width="0.9" />
<line x1="216.61" y1="278.4" x2="216.61" y2="280.6" stroke="#141414" stroke-width="0.9" />
<line x1="239.47" y1="278.4" x2="239.47" y2="280.6" stroke="#141414" stroke-width="0.9" />
<line x1="262.33" y1="278.4" x2="262.33" y2="280.6" stroke="#141414" stroke-width="0.9" />
<line x1="132.79" y1="278.4" x2="132.79" y2="279.7" stroke="#141414" stroke-width="0.9" />
<line x1="140.41" y1="278.4" x2="140.41" y2="279.7" stroke="#141414" stroke-width="0.9" />
<line x1="155.65" y1="278.4" x2="155.65" y2="279.7" stroke="#141414" stroke-width="0.9" />
<line x1="163.27" y1="278.4" x2="163.27" y2="279.7" stroke="#141414" stroke-width="0.9" />
<line x1="178.51" y1="278.4" x2="178.51" y2="279.7" stroke="#141414" stroke-width="0.9" />
<line x1="186.13" y1="278.4" x2="186.13" y2="279.7" stroke="#141414" stroke-width="0.9" />
<line x1="201.37" y1="278.4" x2="201.37" y2="279.7" stroke="#141414" stroke-width="0.9" />
<line x1="208.99" y1="278.4" x2="208.99" y2="279.7" stroke="#141414" stroke-width="0.9" />
<line x1="224.23" y1="278.4" x2="224.23" y2="279.7" stroke="#141414" stroke-width="0.9" />
<line x1="231.85" y1="278.4" x2="231.85" y2="279.7" stroke="#141414" stroke-width="0.9" />
<line x1="247.09" y1="278.4" x2="247.09" y2="279.7" stroke="#141414" stroke-width="0.9" />
<line x1="254.71" y1="278.4" x2="254.71" y2="279.7" stroke="#141414" stroke-width="0.9" />
<line x1="115.3" y1="278.4" x2="117.3" y2="278.4" stroke="#141414" stroke-width="0.9" />
<line x1="115.3" y1="246.5" x2="117.3" y2="246.5" stroke="#141414" stroke-width="0.9" />
<line x1="115.3" y1="214.6" x2="117.3" y2="214.6" stroke="#141414" stroke-width="0.9" />
<line x1="115.3" y1="182.7" x2="117.3" y2="182.7" stroke="#141414" stroke-width="0.9" />
<line x1="116.1" y1="262.45" x2="117.3" y2="262.45" stroke="#141414" stroke-width="0.9" />
<line x1="116.1" y1="230.55" x2="117.3" y2="230.55" stroke="#141414" stroke-width="0.9" />
<line x1="116.1" y1="198.65" x2="117.3" y2="198.65" stroke="#141414" stroke-width="0.9" />
<line x1="116.1" y1="166.75" x2="117.3" y2="166.75" stroke="#141414" stroke-width="0.9" />
<text x="124.87" y="289.7" font-size="7.4" text-anchor="middle" fill="#1a1a1a" stroke="#1a1a1a" stroke-width="0.16" font-family='"Liberation Sans", sans-serif' font-weight="normal" >-2.7</text>
<text x="147.73" y="289.7" font-size="7.4" text-anchor="middle" fill="#1a1a1a" stroke="#1a1a1a" stroke-width="0.16" font-family='"Liberation Sans", sans-serif' font-weight="normal" >-2.4</text>
<text x="170.59" y="289.7" font-size="7.4" text-anchor="middle" fill="#1a1a1a" stroke="#1a1a1a" stroke-width="0.16" font-family='"Liberation Sans", sans-serif' font-weight="normal" >-2.1</text>
<text x="193.45" y="289.7" font-size="7.4" text-anchor="middle" fill="#1a1a1a" stroke="#1a1a1a" stroke-width="0.16" font-family='"Liberation Sans", sans-serif' font-weight="normal" >-1.8</text>
<text x="216.31" y="289.7" font-size="7.4" text-anchor="middle" fill="#1a1a1a" stroke="#1a1a1a" stroke-width="0.16" font-family='"Liberation Sans", sans-serif' font-weight="normal" >-1.5</text>
<text x="239.17" y="289.7" font-size="7.4" text-anchor="middle" fill="#1a1a1a" stroke="#1a1a1a" stroke-width="0.16" font-family='"Liberation Sans", sans-serif' font-weight="normal" >-1.2</text>
<text x="262.03" y="289.7" font-size="7.4" text-anchor="middle" fill="#1a1a1a" stroke="#1a1a1a" stroke-width="0.16" font-family='"Liberation Sans", sans-serif' font-weight="normal" >-0.9</text>
<text x="113.7" y="281.05" font-size="7.4" text-anchor="end" fill="#1a1a1a" stroke="#1a1a1a" stroke-width="0.16" font-family='"Liberation Sans", sans-serif' font-weight="normal" >0</text>
<text x="113.7" y="249.15" font-size="7.4" text-anchor="end" fill="#1a1a1a" stroke="#1a1a1a" stroke-width="0.16" font-family='"Liberation Sans", sans-serif' font-weight="normal" >10</text>
<text x="113.7" y="217.25" font-size="7.4" text-anchor="end" fill="#1a1a1a" stroke="#1a1a1a" stroke-width="0.16" font-family='"Liberation Sans", sans-serif' font-weight="normal" >20</text>
<text x="113.7" y="185.35" font-size="7.4" text-anchor="end" fill="#1a1a1a" stroke="#1a1a1a" stroke-width="0.16" font-family='"Liberation Sans", sans-serif' font-weight="normal" >30</text>
<text x="192.2" y="304.2" font-size="9.3" text-anchor="middle" fill="#1a1a1a" stroke="#1a1a1a" stroke-width="0.20" font-family='"Liberation Sans", sans-serif' font-weight="normal" >Set voltage (V)</text>
<text x="0" y="0" font-size="9.0" text-anchor="middle" fill="#1a1a1a" stroke="#1a1a1a" stroke-width="0.20" font-family='"Liberation Sans", sans-serif' font-weight="normal" transform="translate(98.3 222.65) rotate(-90)">Counts (#)</text>
<text transform="translate(81.4 168) scale(1.08 1)" font-size="13.2" fill="#111" font-family='"Liberation Serif", serif' font-weight="bold">(d)</text>
<rect x="204.8" y="169.4" width="17.3" height="8.3" fill="url(#hb)" stroke="#3a3aff" stroke-width="1.1"/>
<rect x="204.8" y="179" width="17.3" height="8.3" fill="url(#hr)" stroke="#ff3535" stroke-width="1.1"/>
<text x="224.5" y="176" font-size="7.6" text-anchor="start" fill="#1a1a1a" stroke="#1a1a1a" stroke-width="0.17" font-family='"Liberation Sans", sans-serif' font-weight="normal" >Before PSB</text>
<text x="224.3" y="185.6" font-size="7.6" text-anchor="start" fill="#1a1a1a" stroke="#1a1a1a" stroke-width="0.17" font-family='"Liberation Sans", sans-serif' font-weight="normal" >After PSB</text>
<rect x="324.9" y="273.84" width="8.35" height="4.46" fill="url(#hb)" stroke="#3a3aff" stroke-width="0.95"/>
<rect x="349.95" y="260.48" width="8.35" height="17.82" fill="url(#hb)" stroke="#3a3aff" stroke-width="0.95"/>
<rect x="358.3" y="269.39" width="8.35" height="8.91" fill="url(#hb)" stroke="#3a3aff" stroke-width="0.95"/>
<rect x="366.65" y="198.09" width="8.35" height="80.21" fill="url(#hb)" stroke="#3a3aff" stroke-width="0.95"/>
<rect x="375" y="184.72" width="8.35" height="93.58" fill="url(#hb)" stroke="#3a3aff" stroke-width="0.95"/>
<rect x="383.35" y="184.72" width="8.35" height="93.58" fill="url(#hb)" stroke="#3a3aff" stroke-width="0.95"/>
<rect x="391.7" y="224.83" width="8.35" height="53.47" fill="url(#hb)" stroke="#3a3aff" stroke-width="0.95"/>
<rect x="400.05" y="247.11" width="8.35" height="31.19" fill="url(#hb)" stroke="#3a3aff" stroke-width="0.95"/>
<rect x="408.4" y="251.56" width="8.35" height="26.74" fill="url(#hb)" stroke="#3a3aff" stroke-width="0.95"/>
<rect x="416.75" y="260.48" width="8.35" height="17.82" fill="url(#hb)" stroke="#3a3aff" stroke-width="0.95"/>
<rect x="433.45" y="273.84" width="8.35" height="4.46" fill="url(#hb)" stroke="#3a3aff" stroke-width="0.95"/>
<rect x="441.8" y="264.93" width="8.35" height="13.37" fill="url(#hb)" stroke="#3a3aff" stroke-width="0.95"/>
<rect x="316.55" y="242.65" width="8.35" height="35.65" fill="url(#hr2)" stroke="#ff3535" stroke-width="0.95"/>
<rect x="324.9" y="211.46" width="8.35" height="66.84" fill="url(#hr2)" stroke="#ff3535" stroke-width="0.95"/>
<rect x="333.25" y="211.46" width="8.35" height="66.84" fill="url(#hr2)" stroke="#ff3535" stroke-width="0.95"/>
<rect x="341.6" y="220.37" width="8.35" height="57.93" fill="url(#hr2)" stroke="#ff3535" stroke-width="0.95"/>
<rect x="349.95" y="193.64" width="8.35" height="84.66" fill="url(#hr2)" stroke="#ff3535" stroke-width="0.95"/>
<rect x="358.3" y="238.2" width="8.35" height="40.1" fill="url(#hr2)" stroke="#ff3535" stroke-width="0.95"/>
<rect x="366.65" y="256.02" width="8.35" height="22.28" fill="url(#hr2)" stroke="#ff3535" stroke-width="0.95"/>
<rect x="375" y="242.65" width="8.35" height="35.65" fill="url(#hr2)" stroke="#ff3535" stroke-width="0.95"/>
<rect x="383.35" y="260.48" width="8.35" height="17.82" fill="url(#hr2)" stroke="#ff3535" stroke-width="0.95"/>
<rect x="391.7" y="264.93" width="8.35" height="13.37" fill="url(#hr2)" stroke="#ff3535" stroke-width="0.95"/>
<rect x="400.05" y="273.84" width="8.35" height="4.46" fill="url(#hr2)" stroke="#ff3535" stroke-width="0.95"/>
<line x1="324.9" y1="273.84" x2="333.25" y2="273.84" stroke="#3a3aff" stroke-width="0.95" />
<line x1="349.95" y1="260.48" x2="358.3" y2="260.48" stroke="#3a3aff" stroke-width="0.95" />
<line x1="358.3" y1="269.39" x2="366.65" y2="269.39" stroke="#3a3aff" stroke-width="0.95" />
<rect x="308.2" y="166.9" width="150.3" height="111.4" fill="none" stroke="#3c3c3c" stroke-width="1.3"/>
<line x1="316.55" y1="278.3" x2="316.55" y2="280.5" stroke="#141414" stroke-width="0.9" />
<line x1="341.6" y1="278.3" x2="341.6" y2="280.5" stroke="#141414" stroke-width="0.9" />
<line x1="366.65" y1="278.3" x2="366.65" y2="280.5" stroke="#141414" stroke-width="0.9" />
<line x1="391.7" y1="278.3" x2="391.7" y2="280.5" stroke="#141414" stroke-width="0.9" />
<line x1="416.75" y1="278.3" x2="416.75" y2="280.5" stroke="#141414" stroke-width="0.9" />
<line x1="441.8" y1="278.3" x2="441.8" y2="280.5" stroke="#141414" stroke-width="0.9" />
<line x1="324.9" y1="278.3" x2="324.9" y2="279.6" stroke="#141414" stroke-width="0.9" />
<line x1="333.25" y1="278.3" x2="333.25" y2="279.6" stroke="#141414" stroke-width="0.9" />
<line x1="349.95" y1="278.3" x2="349.95" y2="279.6" stroke="#141414" stroke-width="0.9" />
<line x1="358.3" y1="278.3" x2="358.3" y2="279.6" stroke="#141414" stroke-width="0.9" />
<line x1="375" y1="278.3" x2="375" y2="279.6" stroke="#141414" stroke-width="0.9" />
<line x1="383.35" y1="278.3" x2="383.35" y2="279.6" stroke="#141414" stroke-width="0.9" />
<line x1="400.05" y1="278.3" x2="400.05" y2="279.6" stroke="#141414" stroke-width="0.9" />
<line x1="408.4" y1="278.3" x2="408.4" y2="279.6" stroke="#141414" stroke-width="0.9" />
<line x1="425.1" y1="278.3" x2="425.1" y2="279.6" stroke="#141414" stroke-width="0.9" />
<line x1="433.45" y1="278.3" x2="433.45" y2="279.6" stroke="#141414" stroke-width="0.9" />
<line x1="450.15" y1="278.3" x2="450.15" y2="279.6" stroke="#141414" stroke-width="0.9" />
<line x1="306.2" y1="278.3" x2="308.2" y2="278.3" stroke="#141414" stroke-width="0.9" />
<line x1="306.2" y1="233.74" x2="308.2" y2="233.74" stroke="#141414" stroke-width="0.9" />
<line x1="306.2" y1="189.18" x2="308.2" y2="189.18" stroke="#141414" stroke-width="0.9" />
<line x1="307" y1="256.02" x2="308.2" y2="256.02" stroke="#141414" stroke-width="0.9" />
<line x1="307" y1="211.46" x2="308.2" y2="211.46" stroke="#141414" stroke-width="0.9" />
<line x1="307" y1="166.9" x2="308.2" y2="166.9" stroke="#141414" stroke-width="0.9" />
<text x="316.25" y="289.7" font-size="7.4" text-anchor="middle" fill="#1a1a1a" stroke="#1a1a1a" stroke-width="0.16" font-family='"Liberation Sans", sans-serif' font-weight="normal" >0.9</text>
<text x="341.3" y="289.7" font-size="7.4" text-anchor="middle" fill="#1a1a1a" stroke="#1a1a1a" stroke-width="0.16" font-family='"Liberation Sans", sans-serif' font-weight="normal" >1.2</text>
<text x="366.35" y="289.7" font-size="7.4" text-anchor="middle" fill="#1a1a1a" stroke="#1a1a1a" stroke-width="0.16" font-family='"Liberation Sans", sans-serif' font-weight="normal" >1.5</text>
<text x="391.4" y="289.7" font-size="7.4" text-anchor="middle" fill="#1a1a1a" stroke="#1a1a1a" stroke-width="0.16" font-family='"Liberation Sans", sans-serif' font-weight="normal" >1.8</text>
<text x="416.45" y="289.7" font-size="7.4" text-anchor="middle" fill="#1a1a1a" stroke="#1a1a1a" stroke-width="0.16" font-family='"Liberation Sans", sans-serif' font-weight="normal" >2.1</text>
<text x="441.5" y="289.7" font-size="7.4" text-anchor="middle" fill="#1a1a1a" stroke="#1a1a1a" stroke-width="0.16" font-family='"Liberation Sans", sans-serif' font-weight="normal" >2.4</text>
<text x="304.6" y="280.95" font-size="7.4" text-anchor="end" fill="#1a1a1a" stroke="#1a1a1a" stroke-width="0.16" font-family='"Liberation Sans", sans-serif' font-weight="normal" >0</text>
<text x="304.6" y="236.39" font-size="7.4" text-anchor="end" fill="#1a1a1a" stroke="#1a1a1a" stroke-width="0.16" font-family='"Liberation Sans", sans-serif' font-weight="normal" >10</text>
<text x="304.6" y="191.83" font-size="7.4" text-anchor="end" fill="#1a1a1a" stroke="#1a1a1a" stroke-width="0.16" font-family='"Liberation Sans", sans-serif' font-weight="normal" >20</text>
<text x="382.9" y="304.2" font-size="9.3" text-anchor="middle" fill="#1a1a1a" stroke="#1a1a1a" stroke-width="0.20" font-family='"Liberation Sans", sans-serif' font-weight="normal" >Reset voltage (V)</text>
<text x="0" y="0" font-size="9.0" text-anchor="middle" fill="#1a1a1a" stroke="#1a1a1a" stroke-width="0.20" font-family='"Liberation Sans", sans-serif' font-weight="normal" transform="translate(288.7 223.7) rotate(-90)">Counts (#)</text>
<text transform="translate(275.6 168) scale(1.08 1)" font-size="13.2" fill="#111" font-family='"Liberation Serif", serif' font-weight="bold">(e)</text>
<rect x="395.3" y="169.4" width="17.3" height="8.3" fill="url(#hb)" stroke="#3a3aff" stroke-width="1.1"/>
<rect x="395.3" y="179" width="17.3" height="8.3" fill="url(#hr)" stroke="#ff3535" stroke-width="1.1"/>
<text x="415" y="176" font-size="7.6" text-anchor="start" fill="#1a1a1a" stroke="#1a1a1a" stroke-width="0.17" font-family='"Liberation Sans", sans-serif' font-weight="normal" >Before PSB</text>
<text x="414.8" y="185.6" font-size="7.6" text-anchor="start" fill="#1a1a1a" stroke="#1a1a1a" stroke-width="0.17" font-family='"Liberation Sans", sans-serif' font-weight="normal" >After PSB</text>
</svg>
</body></html>
